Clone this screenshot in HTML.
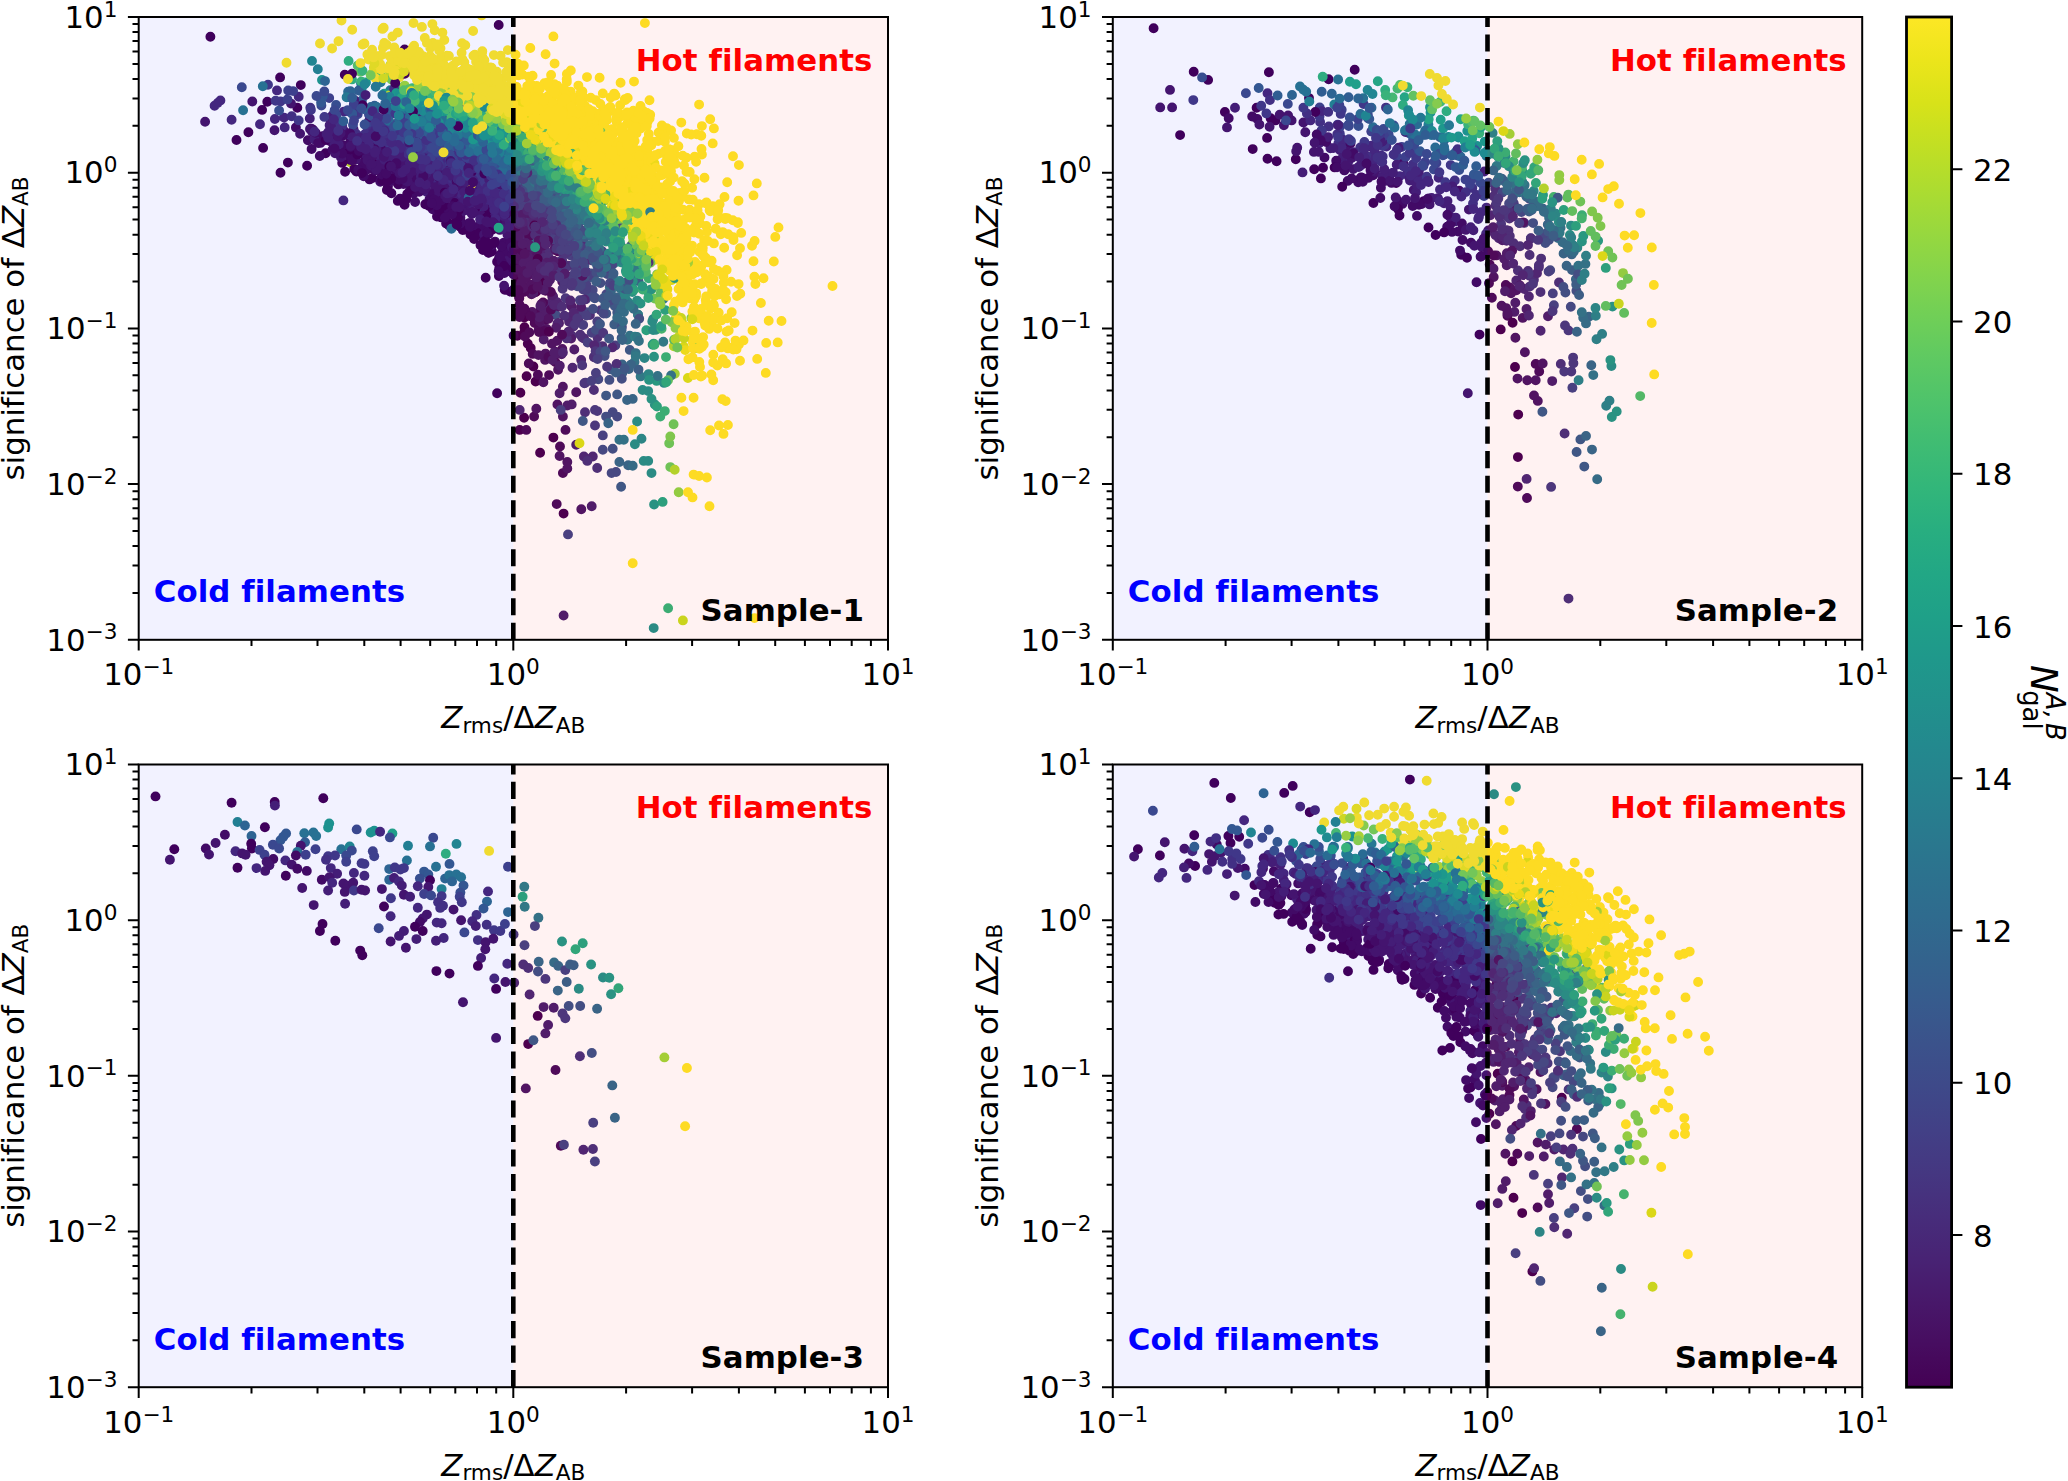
<!DOCTYPE html>
<html lang="en"><head><meta charset="utf-8"><title>Filament metallicity significance</title>
<style>
html,body{margin:0;padding:0;background:#fff}
body{width:2068px;height:1481px;overflow:hidden}
svg{display:block}
text{font-family:"DejaVu Sans","Liberation Sans",sans-serif;fill:#000;font-variant-ligatures:none;font-feature-settings:"liga" 0,"clig" 0}
.t{font-size:30.83px}
.b{font-weight:bold;font-size:30.83px;letter-spacing:0.07px}
.i{font-style:italic}
.p{fill:none;stroke-linecap:round;stroke-width:9.9}
.k{stroke:#000;stroke-width:2.0;fill:none}
</style></head><body>
<svg width="2068" height="1481" viewBox="0 0 2068 1481">
<rect width="2068" height="1481" fill="#fff"/>
<defs><linearGradient id="vg" x1="0" y1="0" x2="0" y2="1"><stop offset="0.0000" stop-color="#fde725"/><stop offset="0.0312" stop-color="#ece51b"/><stop offset="0.0625" stop-color="#d8e219"/><stop offset="0.0938" stop-color="#c2df23"/><stop offset="0.1250" stop-color="#addc30"/><stop offset="0.1562" stop-color="#98d83e"/><stop offset="0.1875" stop-color="#84d44b"/><stop offset="0.2188" stop-color="#70cf57"/><stop offset="0.2500" stop-color="#5ec962"/><stop offset="0.2812" stop-color="#4ec36b"/><stop offset="0.3125" stop-color="#3fbc73"/><stop offset="0.3438" stop-color="#32b67a"/><stop offset="0.3750" stop-color="#28ae80"/><stop offset="0.4062" stop-color="#22a785"/><stop offset="0.4375" stop-color="#1fa088"/><stop offset="0.4688" stop-color="#1f988b"/><stop offset="0.5000" stop-color="#21918c"/><stop offset="0.5312" stop-color="#23898e"/><stop offset="0.5625" stop-color="#26828e"/><stop offset="0.5938" stop-color="#297a8e"/><stop offset="0.6250" stop-color="#2c728e"/><stop offset="0.6562" stop-color="#2f6b8e"/><stop offset="0.6875" stop-color="#33638d"/><stop offset="0.7188" stop-color="#375b8d"/><stop offset="0.7500" stop-color="#3b528b"/><stop offset="0.7812" stop-color="#3e4989"/><stop offset="0.8125" stop-color="#424086"/><stop offset="0.8438" stop-color="#453781"/><stop offset="0.8750" stop-color="#472d7b"/><stop offset="0.9062" stop-color="#482374"/><stop offset="0.9375" stop-color="#48186a"/><stop offset="0.9688" stop-color="#470d60"/><stop offset="1.0000" stop-color="#440154"/></linearGradient></defs>
<g id="panel1">
<clipPath id="cp0"><rect x="138.7" y="17.0" width="749.3" height="622.8"/></clipPath>
<g clip-path="url(#cp0)">
<path class="p" stroke="#440154" d="M369.6 179.4h0M441.2 217.4h0M504.7 289.8h0M517.4 335.7h0M510.2 291.6h0M383.3 168.4h0M524.3 317.6h0M527.8 343.7h0M456.2 220.7h0M530.7 348.0h0M335.8 149.8h0M530.6 315.7h0M397.8 200.9h0M353.8 160.0h0M464.8 229.5h0M489.4 227.8h0M533.4 366.5h0M372.0 178.2h0M499.1 257.9h0M488.7 252.8h0M523.9 244.3h0M387.9 186.4h0"/>
<path class="p" stroke="#460b5e" d="M408.2 147.6h0M481.1 232.9h0M506.8 245.8h0M395.5 174.3h0M483.9 216.1h0M541.4 309.4h0M399.6 127.6h0M545.2 320.1h0M389.2 135.5h0M498.9 262.7h0M395.1 179.1h0M382.0 146.4h0M392.5 178.8h0M549.1 375.1h0M517.6 281.9h0M410.1 189.7h0M450.9 209.8h0M534.3 270.7h0M477.0 174.9h0M405.2 182.9h0M539.2 311.9h0M444.2 198.3h0M372.7 136.1h0M350.3 158.8h0M525.3 258.8h0M524.0 233.7h0M363.7 176.2h0M516.6 284.9h0M519.1 296.8h0M412.1 179.2h0M503.9 242.6h0M516.8 259.8h0M483.3 219.9h0M511.0 236.2h0M544.8 263.6h0M497.3 227.1h0M515.6 290.5h0M518.2 279.5h0M307.9 140.2h0"/>
<path class="p" stroke="#481668" d="M372.3 159.3h0M409.8 168.3h0M457.2 172.9h0M390.0 166.8h0M362.8 163.4h0M529.8 253.4h0M508.1 222.9h0M354.0 149.4h0M370.1 157.1h0M357.8 153.2h0M338.8 124.2h0M437.7 187.4h0M520.3 240.6h0M391.0 166.6h0M465.6 204.4h0M495.6 227.5h0M390.3 172.8h0M363.4 141.6h0M528.7 289.9h0M335.1 143.2h0M388.7 153.7h0M452.1 194.5h0M460.4 203.9h0M388.9 168.9h0M542.9 316.2h0M439.6 189.9h0M423.0 167.8h0M458.6 200.9h0M422.2 176.4h0M400.3 173.0h0M494.6 207.2h0M532.1 312.0h0M456.7 205.5h0M562.3 349.0h0M430.5 182.4h0M545.8 284.9h0"/>
<path class="p" stroke="#481f70" d="M521.9 232.4h0M507.7 221.2h0M424.2 143.4h0M510.8 208.6h0M417.3 173.3h0M544.7 271.2h0M445.6 184.0h0M415.5 175.9h0M553.9 249.9h0M534.9 249.7h0M483.3 206.1h0M398.9 155.7h0M423.6 151.3h0M397.1 167.3h0M526.6 234.2h0M543.7 339.5h0M391.3 145.0h0M440.3 177.8h0M565.8 278.2h0M472.1 201.3h0M335.7 137.7h0M544.4 311.8h0M552.4 297.3h0M523.2 203.0h0M513.9 238.2h0M539.8 325.6h0M426.8 191.9h0M422.2 186.4h0M506.2 230.0h0M423.8 175.3h0"/>
<path class="p" stroke="#482979" d="M389.7 141.8h0M402.0 156.5h0M554.8 264.7h0M572.5 367.7h0M522.5 232.9h0M536.5 246.9h0M418.1 163.6h0M580.2 284.3h0M496.9 209.6h0M526.0 240.5h0M465.1 181.8h0M533.9 195.6h0M356.8 135.3h0M545.0 267.3h0M406.0 163.8h0M440.9 168.7h0M440.7 174.0h0M396.0 161.1h0M532.9 246.6h0M552.9 309.2h0M501.8 184.2h0M570.4 304.9h0M368.9 121.3h0M372.9 146.7h0M568.3 317.3h0M500.8 210.7h0M369.4 128.0h0M343.9 111.6h0M590.2 258.4h0M498.6 222.3h0M463.5 181.4h0M565.5 336.6h0M428.3 160.8h0M537.7 255.5h0M352.8 142.7h0M505.2 215.6h0M514.4 216.0h0"/>
<path class="p" stroke="#46327e" d="M519.5 213.3h0M517.1 216.2h0M425.8 156.0h0M486.6 191.7h0M388.4 135.4h0M453.0 178.8h0M496.2 190.9h0M577.7 268.4h0M597.5 337.6h0M389.9 145.0h0M541.3 219.6h0M491.5 193.1h0M529.1 192.1h0M538.9 223.5h0M482.3 188.5h0M587.0 272.2h0M310.3 107.8h0M480.6 186.2h0M594.1 357.2h0M442.6 168.1h0M390.1 143.1h0M507.5 204.8h0M524.5 213.7h0M520.2 261.3h0M367.4 127.1h0M535.6 220.9h0M428.3 144.1h0M451.7 169.9h0M452.0 166.0h0M569.1 226.2h0M429.5 159.6h0M438.7 167.2h0M572.5 285.3h0M549.9 225.3h0M503.7 204.2h0M459.9 176.7h0M487.2 193.8h0M558.3 199.4h0M571.5 335.6h0M512.8 196.2h0"/>
<path class="p" stroke="#443a83" d="M563.7 235.9h0M394.5 125.6h0M600.7 310.2h0M508.3 199.7h0M451.3 153.0h0M388.6 117.7h0M538.7 220.7h0M525.5 199.4h0M557.5 234.0h0M577.3 240.3h0M540.3 189.1h0M559.6 261.7h0M386.8 137.6h0M575.6 257.1h0M476.9 169.5h0M448.6 168.3h0M508.1 192.0h0M562.6 288.7h0M525.0 194.3h0M445.9 166.0h0M480.5 164.4h0M565.7 298.3h0M498.3 185.9h0"/>
<path class="p" stroke="#414487" d="M520.5 200.8h0M598.2 357.4h0M431.1 135.5h0M329.2 98.1h0M583.9 270.6h0M386.0 156.9h0M578.3 259.5h0M418.0 145.2h0M570.8 255.5h0M494.8 172.1h0M477.7 160.2h0M578.5 316.3h0M562.4 251.8h0M569.7 251.0h0M615.3 345.4h0M333.3 114.2h0M591.7 332.7h0M554.6 232.4h0M445.1 157.3h0M450.5 157.0h0M474.5 173.5h0M475.1 168.3h0M583.2 289.6h0M389.0 132.8h0"/>
<path class="p" stroke="#3e4c8a" d="M592.7 290.0h0M495.8 169.3h0M557.8 227.4h0M547.5 187.1h0M540.4 196.5h0M544.2 208.8h0M336.3 115.3h0M598.3 379.2h0M513.4 163.2h0M408.9 131.0h0M592.0 260.5h0M472.7 158.4h0M530.3 200.6h0M508.7 173.1h0M389.4 112.9h0M518.5 171.7h0M576.3 235.0h0M468.9 166.9h0M546.6 208.5h0M586.2 312.1h0M424.0 137.4h0M321.4 105.5h0M565.6 252.3h0M375.2 138.7h0"/>
<path class="p" stroke="#3a538b" d="M577.6 226.3h0M607.1 274.1h0M510.3 166.7h0M572.1 242.4h0M428.9 146.8h0M544.8 204.9h0M505.5 177.0h0M582.2 251.1h0M409.9 140.4h0M598.6 329.3h0M381.2 131.2h0M417.1 122.6h0M455.3 127.6h0M405.1 104.6h0M600.4 283.1h0M588.3 296.3h0M461.5 140.7h0M595.9 329.8h0"/>
<path class="p" stroke="#365c8d" d="M390.0 114.1h0M560.0 197.0h0M414.7 124.1h0M437.4 127.5h0M573.8 208.2h0M604.1 310.9h0M565.9 226.4h0M522.1 174.9h0M536.3 186.1h0M611.0 369.4h0M545.5 201.7h0M524.3 171.5h0M477.9 157.7h0M540.7 189.3h0M356.8 101.6h0M554.3 182.4h0M514.9 175.1h0M557.2 196.4h0M423.4 133.9h0M461.1 138.9h0M525.5 186.6h0M537.2 191.1h0M565.0 222.6h0M535.2 194.0h0M606.2 313.6h0M453.8 146.0h0M567.2 233.1h0M404.7 122.8h0M527.1 167.0h0M322.8 96.3h0M484.8 157.9h0M559.2 190.1h0"/>
<path class="p" stroke="#33638d" d="M418.1 133.7h0M659.8 301.0h0M614.3 324.4h0M622.3 373.1h0M521.1 168.2h0M563.7 211.2h0M428.2 129.7h0M512.4 172.1h0M432.6 145.5h0M570.5 220.4h0M567.9 216.3h0M488.4 152.7h0M584.0 239.1h0M529.3 184.4h0M638.5 281.1h0M450.7 140.8h0"/>
<path class="p" stroke="#306a8e" d="M486.5 141.2h0M521.8 159.8h0M546.3 191.0h0M566.2 206.8h0M431.8 120.7h0M619.6 297.2h0M502.2 164.8h0M514.6 169.6h0M499.7 153.6h0M607.0 259.0h0M551.7 198.4h0"/>
<path class="p" stroke="#2c718e" d="M537.8 184.4h0M565.7 203.7h0M510.1 133.4h0M572.5 209.6h0M574.5 220.5h0M568.0 179.3h0M609.8 287.2h0M564.2 207.0h0M502.0 161.8h0M477.8 227.3h0M505.4 157.8h0M529.9 167.7h0M588.8 229.1h0M496.1 158.0h0M348.1 91.7h0M595.6 255.2h0M536.9 177.8h0M553.4 180.1h0M598.2 268.9h0M610.5 296.2h0M443.2 128.8h0"/>
<path class="p" stroke="#2a788e" d="M634.2 304.8h0M541.3 184.0h0M564.7 184.1h0M495.4 158.6h0M448.1 97.4h0M634.5 361.9h0M531.3 162.6h0M505.9 159.4h0M523.9 176.7h0M572.2 217.5h0M438.3 126.7h0M460.0 143.8h0M565.9 200.1h0M466.3 129.5h0M420.0 123.2h0M538.4 185.5h0"/>
<path class="p" stroke="#277f8e" d="M390.3 90.2h0M415.3 106.8h0M478.8 140.7h0M518.9 160.2h0M663.3 341.7h0M640.6 376.4h0M489.2 156.2h0M663.3 299.1h0M527.3 144.2h0M460.1 132.0h0M541.2 170.5h0M515.7 148.2h0M548.2 163.3h0M580.3 216.9h0M543.7 172.7h0M505.6 156.2h0M588.0 230.6h0"/>
<path class="p" stroke="#24868e" d="M421.9 87.9h0M570.3 196.4h0M639.5 265.0h0M622.2 231.5h0M577.6 189.8h0M582.5 214.5h0M420.9 117.8h0M627.8 301.8h0M317.8 69.2h0M601.7 219.1h0M399.0 101.6h0"/>
<path class="p" stroke="#228d8d" d="M625.0 259.1h0M439.7 125.4h0M615.1 262.5h0M518.6 146.8h0M653.2 319.1h0M557.1 183.5h0M561.2 190.9h0M527.4 163.8h0M544.7 176.6h0M499.8 135.1h0M464.4 114.4h0M517.9 153.7h0M573.1 203.9h0M602.0 237.0h0M575.8 204.8h0M597.5 233.2h0"/>
<path class="p" stroke="#20938c" d="M490.5 142.5h0M516.1 146.0h0M628.0 286.7h0M493.0 135.9h0M654.8 329.0h0M420.8 105.7h0M508.5 154.2h0M484.3 122.2h0M541.2 179.1h0M498.3 147.6h0M590.8 220.1h0M455.8 128.6h0M574.6 202.8h0"/>
<path class="p" stroke="#1f9a8a" d="M618.7 244.0h0M613.4 252.3h0M617.7 240.8h0M565.0 180.0h0"/>
<path class="p" stroke="#1fa187" d="M630.2 274.3h0M507.1 124.5h0M656.6 380.9h0M436.4 123.8h0M619.4 251.2h0M584.7 204.5h0M558.3 179.9h0M449.9 96.4h0M606.0 241.6h0M549.0 168.6h0M576.9 199.1h0M435.3 101.4h0M412.7 113.8h0M570.8 195.5h0"/>
<path class="p" stroke="#22a884" d="M621.1 257.6h0M547.9 172.0h0M443.7 90.3h0M442.5 93.9h0M503.5 133.0h0M384.1 93.8h0M589.0 199.6h0M653.7 343.6h0M623.3 252.4h0M520.1 135.5h0M440.6 117.7h0M439.6 113.2h0"/>
<path class="p" stroke="#28ae80" d="M444.8 117.2h0M463.1 110.7h0M626.3 266.2h0M592.2 201.7h0M547.1 164.9h0M521.1 142.0h0M564.7 176.4h0M529.9 156.6h0M638.0 268.9h0M557.2 176.7h0M619.4 234.4h0M498.1 125.3h0M548.9 165.2h0"/>
<path class="p" stroke="#32b67a" d="M568.3 188.7h0M534.1 153.2h0M538.2 156.2h0M556.1 180.7h0M587.7 200.9h0M607.9 226.0h0M445.4 108.9h0M473.9 115.8h0M622.1 221.9h0"/>
<path class="p" stroke="#3dbc74" d="M620.1 237.0h0M524.6 149.3h0M618.3 242.7h0M565.0 178.8h0M567.7 167.0h0M627.8 250.1h0M450.1 94.6h0M564.3 176.5h0"/>
<path class="p" stroke="#4ac16d" d="M617.5 220.5h0M462.7 112.9h0M524.5 144.0h0M506.9 133.7h0M571.0 175.4h0M500.2 136.3h0M499.8 123.7h0"/>
<path class="p" stroke="#5ac864" d="M617.9 219.7h0M448.3 111.5h0M546.7 138.8h0M574.8 188.0h0M544.2 140.0h0M637.3 269.2h0M537.2 130.0h0"/>
<path class="p" stroke="#69cd5b" d="M627.9 226.1h0M586.0 186.0h0M558.7 170.2h0M491.1 114.2h0M466.8 109.8h0"/>
<path class="p" stroke="#7ad151" d="M489.2 122.4h0M404.9 89.4h0M663.8 291.4h0M632.3 219.2h0M641.4 265.0h0M657.0 274.5h0M661.9 284.0h0M640.4 219.2h0M554.1 154.1h0M562.3 158.8h0M618.5 213.7h0M532.3 135.5h0M595.7 196.2h0"/>
<path class="p" stroke="#8ed645" d="M557.8 157.1h0M487.3 115.0h0M481.6 97.8h0M443.1 90.5h0M611.5 211.0h0M585.4 178.2h0"/>
<path class="p" stroke="#a0da39" d="M565.5 165.4h0M616.9 211.4h0M550.9 146.7h0M625.2 221.6h0M410.7 96.3h0M674.8 373.7h0"/>
<path class="p" stroke="#b2dd2d" d="M672.7 278.9h0M605.0 200.5h0M408.2 68.2h0M653.5 236.7h0M675.7 318.7h0M434.1 95.1h0M632.7 234.0h0M546.0 144.2h0"/>
<path class="p" stroke="#c8e020" d="M679.2 336.2h0M657.4 278.1h0M682.0 322.2h0M350.4 162.3h0M595.4 190.9h0M571.2 169.1h0M623.9 190.6h0"/>
<path class="p" stroke="#dae319" d="M516.0 124.9h0M601.3 171.2h0M533.7 132.7h0M506.5 113.3h0M569.8 161.3h0M405.6 73.2h0M650.3 239.4h0M472.0 98.5h0M573.7 152.5h0M443.3 101.0h0M671.9 280.1h0M550.3 133.4h0M687.9 378.0h0M612.3 205.6h0M568.3 129.4h0M625.8 220.5h0M556.8 150.1h0M583.1 173.8h0"/>
<path class="p" stroke="#ece51b" d="M523.1 129.6h0M588.9 183.0h0M480.1 109.7h0M620.4 208.3h0M546.2 145.2h0M525.5 131.2h0M607.8 169.4h0M471.0 100.8h0M614.9 189.1h0M640.7 227.8h0M526.9 132.9h0M667.0 281.2h0M551.4 139.2h0"/>
<path class="p" stroke="#fde725" d="M695.1 226.8h0M453.3 79.1h0M563.5 133.9h0M636.1 207.5h0M447.1 78.8h0M583.2 103.7h0M680.9 193.0h0M546.4 130.8h0M610.7 97.5h0M631.2 215.5h0M573.9 146.9h0M546.7 124.5h0M578.2 119.6h0M655.9 207.8h0M566.6 118.4h0M646.1 214.3h0M694.0 232.5h0M405.9 71.5h0M338.5 41.3h0M487.5 97.2h0M444.5 69.5h0M675.0 239.7h0M701.4 266.3h0M547.5 138.9h0M580.9 135.3h0M551.6 103.6h0M680.4 246.8h0M558.7 127.7h0M522.3 74.6h0M512.5 100.2h0M512.3 115.1h0M604.3 161.4h0M738.9 344.4h0M661.9 246.8h0M474.8 70.3h0M652.8 256.9h0M638.1 162.2h0M567.5 142.0h0M548.1 129.7h0M566.5 139.8h0M426.9 68.2h0M734.6 323.1h0M695.0 331.6h0M647.9 214.4h0M712.7 143.4h0M605.1 171.5h0M624.4 184.5h0M655.9 205.9h0M579.5 127.8h0M649.2 203.8h0M682.1 181.3h0M577.9 123.7h0M413.9 73.7h0M466.1 89.4h0M532.8 130.7h0M428.9 61.1h0M509.3 115.9h0M543.6 108.8h0M583.7 151.0h0M665.0 135.8h0M602.3 118.4h0M517.2 121.6h0M616.7 171.6h0M414.1 45.7h0M565.6 120.8h0M618.6 183.4h0M604.4 141.6h0M584.8 105.4h0M579.2 153.1h0M692.5 267.4h0M648.2 146.5h0M487.5 101.4h0M609.4 149.8h0M713.9 128.4h0M566.3 106.4h0M648.3 205.8h0M608.7 136.8h0M632.6 182.0h0M670.0 266.9h0M619.3 205.6h0M565.8 129.1h0M670.1 181.4h0M588.4 177.1h0M481.8 98.8h0M556.2 120.4h0M615.2 194.9h0M473.7 88.9h0M465.3 45.2h0M694.6 156.8h0M506.8 62.1h0M424.8 37.9h0M667.1 256.2h0M439.6 79.1h0M566.1 91.3h0M549.0 122.7h0M600.1 169.9h0M479.9 91.4h0M644.9 201.5h0M516.5 114.3h0M508.6 108.7h0M593.3 130.2h0M510.0 63.7h0M673.6 247.9h0M642.7 177.8h0M620.6 156.9h0M455.6 89.5h0M543.2 115.2h0M575.7 145.2h0M543.8 124.3h0M581.0 168.4h0M660.5 216.6h0M545.9 140.8h0M621.0 204.0h0M516.8 73.4h0M619.4 164.8h0M454.9 91.4h0M666.6 128.1h0M637.9 186.9h0M575.8 132.7h0M646.2 188.7h0M523.7 103.1h0M627.9 134.3h0M552.1 134.1h0M449.6 83.9h0M586.6 165.1h0M516.0 106.8h0M667.6 242.9h0M730.8 347.6h0M582.8 148.9h0M523.8 111.6h0M497.1 84.1h0M520.8 107.9h0M699.9 223.3h0M576.7 151.7h0M655.9 177.9h0M530.5 133.6h0M610.2 180.4h0M599.1 185.7h0M616.7 122.0h0M475.1 92.7h0M575.5 110.7h0M653.8 176.9h0M670.8 267.1h0M665.8 154.2h0M618.8 181.5h0M633.6 180.4h0M692.8 199.7h0M537.3 115.1h0M712.1 319.6h0M688.8 199.4h0M586.2 163.4h0M536.7 85.9h0M620.4 204.8h0M620.1 105.3h0M602.4 143.3h0M669.0 226.2h0M586.0 149.7h0M498.3 101.0h0M538.8 108.1h0M432.6 74.3h0M430.1 55.9h0M626.2 189.0h0M392.4 36.5h0M596.9 139.8h0M465.0 75.3h0M648.5 250.6h0M669.5 199.0h0M648.3 226.2h0M706.5 202.4h0M618.1 170.5h0M647.2 139.9h0M548.6 136.5h0M682.9 257.3h0M444.3 79.7h0M705.8 300.2h0M635.8 211.0h0M644.4 202.4h0M663.9 204.2h0M541.5 97.8h0M402.2 52.8h0M529.8 87.6h0M502.4 94.3h0M584.3 145.1h0M480.8 74.6h0M701.2 283.5h0M564.3 124.8h0M711.6 323.8h0M603.8 148.0h0M522.1 108.1h0M599.6 180.6h0M613.9 172.5h0M473.7 80.7h0M568.4 119.6h0M497.5 84.2h0M605.2 161.9h0M686.5 326.6h0M638.6 222.8h0M547.9 140.5h0M532.9 94.3h0M496.9 71.7h0M434.7 30.3h0M436.4 82.8h0M505.8 87.3h0M681.9 238.9h0M582.1 163.9h0M409.0 65.7h0M481.2 95.0h0M450.8 97.7h0M677.7 229.4h0M676.8 315.8h0M586.3 149.0h0M536.8 125.7h0M560.4 114.1h0M499.3 84.2h0M463.0 73.6h0M619.7 187.7h0M478.8 90.3h0M718.1 271.0h0M435.1 65.9h0M559.5 152.3h0M517.6 66.7h0M529.9 111.9h0M669.6 191.2h0M586.5 111.8h0M461.6 52.8h0M622.4 183.1h0M530.5 121.5h0M637.5 193.7h0M598.7 160.7h0M418.8 65.4h0M585.8 128.9h0M650.1 159.1h0M635.3 152.7h0M552.8 115.2h0M694.2 299.4h0M386.8 44.9h0M539.5 118.0h0M594.2 157.0h0M551.6 99.2h0M693.8 375.0h0M613.8 191.5h0M615.5 95.6h0M642.9 237.9h0M653.5 183.8h0M609.2 111.5h0M566.6 147.6h0M533.2 114.6h0M594.3 162.3h0M635.5 194.9h0M634.7 178.3h0M465.9 89.8h0M539.6 135.2h0M517.9 63.7h0M631.7 214.8h0M542.2 137.4h0M674.0 159.8h0M662.7 174.8h0M679.0 201.0h0M635.4 225.7h0M470.1 101.2h0M641.9 197.5h0M636.0 198.5h0M565.8 119.9h0M599.7 159.4h0M670.0 208.5h0M632.9 180.9h0M738.9 165.1h0M397.7 32.6h0M627.5 200.1h0M647.1 145.6h0M713.2 380.3h0M564.6 159.8h0M631.6 166.7h0M532.3 106.6h0M556.8 141.9h0M643.3 159.8h0M514.7 125.1h0M506.5 100.9h0M692.7 271.9h0M459.8 90.0h0M443.9 64.9h0M629.2 205.2h0M584.5 157.6h0M685.6 285.3h0M679.4 259.0h0M378.3 64.4h0M691.1 264.1h0M661.0 170.4h0M507.8 106.0h0M655.7 185.0h0M659.1 219.5h0M543.5 125.3h0M589.6 168.3h0M628.3 184.5h0M611.3 138.3h0M443.2 59.5h0M507.6 110.1h0M694.4 179.2h0M564.1 100.2h0M564.7 109.2h0M661.4 216.4h0M567.6 121.2h0M614.0 148.4h0M692.1 187.8h0M692.8 342.1h0M763.5 278.3h0M554.2 128.6h0M418.7 83.6h0M599.2 141.8h0M649.0 218.6h0M723.8 282.8h0M725.1 217.9h0M467.4 68.8h0M651.8 194.2h0M580.1 133.0h0M481.8 53.8h0M425.8 61.4h0M516.4 74.9h0M575.9 150.1h0M428.8 89.7h0M504.9 94.7h0M578.3 160.4h0M580.5 141.7h0M603.1 154.0h0M513.0 101.1h0M623.4 158.9h0M510.2 123.9h0M487.5 69.7h0M653.2 239.7h0M655.6 193.4h0M690.9 249.5h0M539.9 118.1h0M609.2 148.9h0M529.2 110.0h0M641.7 221.8h0M752.5 330.6h0M713.6 306.0h0M609.1 179.7h0M602.8 93.4h0M609.2 170.3h0M631.8 196.0h0M540.6 127.4h0M404.7 69.4h0M639.6 150.4h0M639.5 201.4h0M618.9 188.0h0M415.9 61.6h0M566.8 82.1h0M620.1 194.0h0M535.6 125.1h0M585.1 139.1h0M508.2 113.7h0M648.8 133.9h0M532.8 85.7h0M486.2 89.7h0M532.6 109.8h0M727.9 348.4h0M485.5 86.9h0M485.0 101.2h0M661.3 134.5h0M589.2 169.8h0M482.4 57.2h0M598.8 150.5h0M545.6 54.2h0M607.1 119.9h0M651.2 217.2h0M592.0 145.4h0M561.5 105.4h0M675.0 256.5h0M651.3 145.2h0M666.3 241.7h0M399.4 77.3h0M671.9 249.5h0M701.1 309.0h0M556.5 148.7h0M527.9 114.4h0M629.8 158.0h0M579.2 144.5h0M587.0 77.1h0M536.7 97.0h0M533.5 121.3h0M600.8 133.1h0M636.5 199.9h0M638.5 173.8h0M627.8 202.7h0M620.5 151.3h0M367.4 54.4h0M550.2 110.2h0M712.7 206.1h0M741.2 232.9h0M622.4 165.8h0M683.4 269.4h0M614.3 198.3h0M573.3 136.6h0M550.2 136.3h0M696.8 134.2h0M588.2 159.4h0M620.3 164.3h0M669.2 247.2h0"/>
<path class="p" stroke="#440154" d="M455.4 206.0h0M438.4 200.7h0M449.1 225.4h0M325.6 153.2h0M485.7 277.7h0M460.4 226.9h0M470.5 234.6h0M456.4 211.0h0M345.1 171.8h0M542.1 281.8h0M461.1 222.1h0M462.7 230.0h0M472.1 232.7h0M524.5 327.2h0M437.0 216.6h0M522.5 253.1h0M382.2 179.1h0M487.0 191.2h0M358.1 153.7h0M350.4 159.9h0M377.9 158.7h0"/>
<path class="p" stroke="#460b5e" d="M432.7 182.2h0M311.6 149.0h0M432.7 209.3h0M464.1 200.6h0M510.4 246.3h0M385.6 168.8h0M358.6 153.2h0M319.0 140.6h0M515.4 253.7h0M399.6 163.3h0M485.2 232.7h0M430.4 203.0h0M446.4 208.9h0M521.9 271.5h0M392.7 156.9h0M332.5 149.7h0M350.5 141.2h0M487.6 217.1h0M488.6 233.9h0M347.1 148.5h0M469.7 182.6h0M441.3 202.3h0M349.8 156.5h0M460.4 217.5h0M519.3 298.2h0M521.3 249.9h0M439.1 203.6h0M413.6 193.6h0M437.9 200.6h0M492.1 225.3h0M545.6 290.7h0M512.5 265.0h0M343.6 152.0h0M558.0 251.4h0M469.0 223.2h0M434.5 203.3h0M500.5 254.4h0"/>
<path class="p" stroke="#481668" d="M567.3 276.1h0M397.8 178.9h0M512.7 241.7h0M512.3 242.1h0M517.5 186.2h0M539.7 236.5h0M435.2 191.3h0M529.6 242.1h0M483.7 229.3h0M522.6 253.8h0M322.1 137.3h0M463.5 205.4h0M502.2 225.1h0M465.2 206.2h0M545.1 359.9h0M356.3 142.1h0M420.5 168.1h0M435.6 174.4h0M538.6 330.0h0M344.0 152.3h0M312.1 131.8h0M484.0 222.1h0M545.5 354.4h0M347.3 150.5h0M340.8 136.3h0M532.4 217.8h0M439.5 203.6h0M504.1 285.7h0M336.5 132.4h0M435.2 182.0h0M413.3 184.6h0M330.6 120.8h0M519.5 285.5h0M426.7 183.7h0M431.0 173.3h0M365.4 158.7h0M344.7 131.5h0M313.1 129.7h0M454.8 179.8h0M440.4 183.5h0M405.2 172.2h0M332.9 133.1h0M339.7 145.8h0M562.2 281.6h0"/>
<path class="p" stroke="#481f70" d="M417.2 159.9h0M497.6 224.1h0M395.3 154.7h0M534.7 254.4h0M571.1 338.5h0M490.2 205.5h0M419.2 173.0h0M353.6 129.4h0M530.8 243.5h0M494.6 218.0h0M482.3 190.7h0M553.1 296.6h0M498.0 215.5h0M446.2 190.9h0M550.0 279.7h0M516.7 234.5h0M561.1 353.3h0M578.4 318.4h0M481.4 212.5h0M457.0 196.0h0M443.7 185.4h0M501.8 215.9h0M415.7 168.5h0M455.0 199.4h0M571.9 306.7h0M309.8 118.5h0M433.4 182.8h0M532.1 256.9h0M483.3 174.1h0M379.6 156.4h0M534.1 285.4h0"/>
<path class="p" stroke="#482979" d="M331.0 132.7h0M442.3 168.0h0M548.8 304.1h0M341.0 126.6h0M557.1 353.7h0M555.2 214.1h0M436.5 154.1h0M376.1 128.8h0M383.1 119.0h0M535.7 211.8h0M542.0 235.6h0M426.9 168.5h0M388.3 136.0h0M503.9 193.6h0M518.7 202.9h0M552.5 271.7h0M342.2 135.8h0M450.4 181.0h0M581.2 359.9h0M526.5 230.7h0M544.6 236.3h0M532.1 237.4h0M569.1 321.8h0M478.5 173.6h0M423.3 174.7h0M486.5 206.6h0M535.4 211.3h0M440.2 156.1h0M544.2 261.4h0M498.2 195.5h0M442.0 178.0h0M545.2 268.2h0M536.2 259.4h0M483.1 198.8h0M384.4 128.5h0M490.9 202.4h0"/>
<path class="p" stroke="#46327e" d="M509.6 198.0h0M378.4 137.9h0M554.2 228.8h0M419.7 156.9h0M530.2 223.8h0M496.5 199.8h0M529.7 211.4h0M472.1 179.6h0M447.6 168.2h0M508.4 184.9h0M528.5 200.2h0M407.1 143.7h0M471.7 185.2h0M573.4 326.6h0M449.2 144.2h0M468.8 182.7h0M526.0 221.8h0M542.7 207.4h0M540.5 235.7h0M545.2 261.6h0M526.4 214.0h0M566.8 338.4h0M545.8 251.6h0M439.0 169.5h0M537.5 224.3h0M559.2 272.7h0M433.7 165.0h0M563.4 254.8h0M393.9 129.4h0M452.6 164.9h0M521.0 213.6h0M454.4 165.5h0M454.5 178.7h0M589.9 315.0h0M540.7 231.8h0"/>
<path class="p" stroke="#443a83" d="M544.0 205.1h0M382.5 139.5h0M441.7 159.4h0M404.0 114.6h0M533.3 211.2h0M546.1 233.5h0M603.2 333.0h0M572.9 226.3h0M536.4 210.4h0M445.7 161.2h0M428.4 152.8h0M490.9 162.2h0M539.3 199.7h0M528.2 190.0h0M584.4 383.3h0M439.5 150.9h0M418.1 112.1h0M493.9 186.1h0M528.1 197.8h0M409.3 126.0h0M447.0 158.6h0M564.7 284.1h0M496.9 178.9h0M494.9 167.2h0M541.7 222.8h0M442.8 160.5h0M539.1 199.8h0M554.4 205.4h0M540.3 200.2h0"/>
<path class="p" stroke="#414487" d="M416.0 139.5h0M467.1 165.3h0M369.6 122.1h0M564.0 225.0h0M586.2 289.5h0M590.8 258.8h0M515.7 191.9h0M513.8 172.8h0M400.5 130.9h0M579.7 315.2h0M608.0 268.3h0M407.0 138.5h0M552.3 224.7h0M491.1 153.0h0M444.7 142.3h0M386.6 120.5h0M559.4 213.8h0M420.8 150.7h0M485.3 181.0h0M395.5 126.6h0M583.2 325.0h0"/>
<path class="p" stroke="#3e4c8a" d="M571.6 214.5h0M484.9 177.7h0M420.0 130.4h0M503.6 174.1h0M357.7 114.2h0M558.8 235.7h0M446.2 134.3h0M458.7 160.7h0M553.0 223.5h0M372.0 107.9h0M525.8 196.4h0M353.0 124.7h0M390.7 131.1h0M606.4 294.2h0M577.2 286.3h0M514.0 187.3h0M519.6 181.9h0M463.2 165.7h0"/>
<path class="p" stroke="#3a538b" d="M464.3 153.8h0M523.4 192.4h0M472.2 160.3h0M555.8 315.1h0M450.5 152.3h0M540.0 192.0h0M577.7 231.2h0M444.7 116.7h0M591.8 273.4h0M548.5 210.0h0M584.4 266.0h0"/>
<path class="p" stroke="#365c8d" d="M589.1 277.7h0M614.8 306.1h0M601.5 354.6h0M533.0 192.2h0M462.9 141.4h0M594.8 298.2h0M591.3 235.9h0M558.5 203.3h0M482.6 160.5h0M544.7 186.6h0M482.7 159.7h0M410.3 126.0h0M482.6 155.7h0M543.3 197.8h0M597.0 256.1h0M520.7 183.2h0M397.2 125.0h0M539.7 182.8h0M410.0 123.8h0M470.1 132.9h0"/>
<path class="p" stroke="#33638d" d="M544.7 191.4h0M502.2 156.3h0M548.5 179.3h0M563.4 190.4h0M456.6 127.4h0M560.9 200.5h0M551.2 204.6h0M520.8 175.0h0M573.6 212.7h0M591.2 247.9h0M522.7 182.9h0M638.5 369.6h0M478.1 160.7h0M415.5 121.4h0M487.8 149.8h0M476.2 153.1h0M389.1 107.0h0M587.1 255.8h0M536.6 174.9h0M576.0 212.7h0M455.8 136.7h0"/>
<path class="p" stroke="#306a8e" d="M454.8 140.2h0M468.5 123.5h0M578.2 216.1h0M488.0 147.1h0M552.4 181.0h0M483.8 160.1h0M378.1 118.7h0M549.0 198.6h0M613.1 277.8h0M604.4 298.0h0M621.5 307.4h0M591.3 257.5h0M578.0 227.8h0M477.3 144.2h0M622.2 364.5h0"/>
<path class="p" stroke="#2c718e" d="M555.0 197.4h0M591.0 235.9h0M527.6 162.5h0M560.2 208.5h0M409.7 122.2h0M541.0 186.0h0M523.7 159.3h0M621.1 246.3h0M550.8 170.8h0M555.8 198.8h0M530.9 181.2h0M450.6 132.4h0M493.5 140.2h0M396.6 123.4h0M478.9 133.3h0M549.8 196.9h0M537.4 185.7h0M425.4 125.9h0"/>
<path class="p" stroke="#2a788e" d="M517.4 166.9h0M430.8 101.7h0M474.6 142.4h0M540.4 175.0h0M429.3 120.1h0M478.8 144.7h0M461.8 138.3h0M624.5 301.8h0M671.1 375.5h0M583.9 200.8h0M497.2 156.6h0M484.8 139.3h0M477.0 140.2h0M463.0 132.8h0M505.5 143.7h0M584.8 231.3h0M486.5 150.8h0M625.0 285.1h0"/>
<path class="p" stroke="#277f8e" d="M533.7 152.5h0M637.9 314.6h0M465.3 136.3h0M444.4 134.5h0M551.6 188.6h0M489.2 133.4h0M361.0 83.2h0M530.5 145.1h0M504.4 157.7h0M617.5 282.8h0M552.2 183.6h0M478.5 142.3h0M586.4 232.3h0M487.7 149.4h0M467.2 133.5h0"/>
<path class="p" stroke="#24868e" d="M548.1 173.1h0M484.1 142.1h0M535.4 173.4h0M559.1 194.7h0M402.4 109.2h0M593.6 203.0h0M526.2 164.1h0M599.7 233.9h0M579.8 207.8h0M592.4 232.8h0M434.4 99.6h0M511.7 156.3h0M592.8 198.7h0M470.6 133.1h0"/>
<path class="p" stroke="#228d8d" d="M579.6 211.5h0M539.9 158.0h0M497.8 127.5h0M556.7 183.4h0M503.4 146.6h0M594.8 224.4h0M509.0 161.9h0M414.1 106.4h0M312.0 60.9h0M361.8 87.9h0M457.0 113.8h0M537.8 165.4h0M569.7 179.6h0M595.7 233.0h0M521.9 163.5h0"/>
<path class="p" stroke="#20938c" d="M620.9 262.2h0M588.8 217.6h0M519.9 161.5h0M549.8 184.9h0M592.8 220.2h0M664.0 382.9h0M579.5 213.9h0M544.3 172.9h0"/>
<path class="p" stroke="#1f9a8a" d="M389.6 98.0h0M561.1 189.6h0M561.7 183.8h0M632.3 292.1h0M366.0 82.5h0M499.4 142.8h0M593.1 214.9h0M539.6 161.4h0M519.7 155.1h0M453.8 117.7h0M486.0 118.7h0M322.0 79.9h0M526.1 164.7h0M512.8 137.0h0M507.1 136.8h0M563.0 185.4h0M560.6 180.9h0"/>
<path class="p" stroke="#1fa187" d="M543.8 175.2h0M505.5 133.6h0M536.0 165.7h0M501.5 142.1h0M483.5 120.3h0M635.8 269.7h0M519.1 155.3h0M612.1 238.8h0M549.3 179.0h0M635.0 270.9h0M530.9 145.6h0M568.6 184.7h0"/>
<path class="p" stroke="#22a884" d="M417.6 101.7h0M552.8 156.9h0M534.5 158.2h0M421.9 102.7h0M619.2 240.2h0M557.7 173.9h0M532.4 146.7h0M585.6 205.7h0M665.2 310.1h0M646.3 330.2h0"/>
<path class="p" stroke="#28ae80" d="M602.5 221.2h0M521.8 153.5h0M555.1 174.7h0M544.1 164.1h0M600.8 204.8h0M533.3 153.9h0M553.1 174.8h0M590.5 197.2h0M661.0 220.0h0M542.2 137.8h0M637.0 255.4h0"/>
<path class="p" stroke="#32b67a" d="M375.9 77.2h0M573.7 194.6h0M666.0 357.1h0M608.0 190.6h0M592.4 207.5h0M577.2 191.8h0M590.9 205.3h0M600.6 211.5h0M537.0 153.4h0M547.4 157.7h0M522.0 133.0h0"/>
<path class="p" stroke="#3dbc74" d="M616.8 236.4h0M579.9 189.7h0M396.6 85.9h0M415.2 101.9h0M606.0 215.6h0M479.6 106.2h0M361.4 81.6h0M418.3 87.8h0M528.2 150.7h0M430.6 98.7h0"/>
<path class="p" stroke="#4ac16d" d="M527.9 145.6h0M587.0 197.3h0M529.2 148.5h0M598.3 185.8h0M562.9 164.6h0M548.8 161.0h0M588.3 194.7h0M562.4 168.4h0M449.2 101.0h0"/>
<path class="p" stroke="#5ac864" d="M495.7 120.3h0M495.9 117.3h0M461.1 111.1h0M577.7 184.1h0M357.7 65.6h0M473.9 109.5h0M534.2 141.6h0M522.5 135.1h0M595.1 189.8h0M627.5 249.4h0M607.9 211.4h0M591.9 198.9h0M647.9 258.1h0M495.9 125.0h0M612.7 198.4h0M542.4 157.3h0M522.6 135.5h0M610.1 216.2h0"/>
<path class="p" stroke="#69cd5b" d="M568.9 176.3h0M588.2 196.4h0M636.0 252.1h0M553.8 162.6h0M544.4 146.4h0M587.6 188.5h0M589.0 191.9h0M450.7 97.0h0M563.9 164.4h0"/>
<path class="p" stroke="#7ad151" d="M609.1 210.8h0M549.2 161.7h0M532.5 143.4h0M581.5 184.4h0M560.4 128.5h0M537.8 132.0h0M463.2 85.4h0M492.5 113.0h0M459.8 86.8h0M521.0 141.5h0M537.0 140.6h0M554.0 161.6h0M511.2 126.8h0"/>
<path class="p" stroke="#8ed645" d="M639.8 250.9h0M542.8 109.4h0M371.8 74.0h0M609.0 199.2h0M544.9 152.2h0M608.0 212.6h0M523.2 132.4h0M620.9 218.0h0M541.7 137.2h0M590.7 190.3h0M626.0 228.6h0"/>
<path class="p" stroke="#a0da39" d="M489.9 129.6h0M526.2 113.6h0M561.0 162.5h0M488.3 125.3h0M651.7 239.3h0M600.3 200.8h0M520.3 119.0h0M542.7 140.2h0M571.7 158.7h0M621.9 221.8h0M561.7 141.0h0M569.5 172.7h0M642.8 252.7h0M569.9 144.2h0M620.2 200.3h0"/>
<path class="p" stroke="#b2dd2d" d="M573.7 155.8h0M673.8 346.3h0M546.2 148.6h0M619.7 203.7h0M579.1 177.9h0M629.4 209.7h0"/>
<path class="p" stroke="#c8e020" d="M681.1 318.0h0M389.2 95.4h0M637.3 231.6h0M673.3 309.9h0M525.2 140.6h0"/>
<path class="p" stroke="#dae319" d="M458.8 89.4h0M579.3 156.7h0M647.5 250.4h0M557.5 147.2h0M390.3 65.0h0M600.7 193.6h0M447.6 82.1h0M537.1 129.4h0M528.2 119.8h0M468.4 104.7h0M504.6 106.1h0M683.9 346.7h0M576.6 173.3h0M527.6 129.6h0"/>
<path class="p" stroke="#ece51b" d="M527.3 139.6h0M568.2 165.3h0M427.0 80.2h0M588.1 175.7h0M596.0 163.7h0M563.0 157.4h0M421.5 74.1h0M510.2 115.5h0M654.5 163.5h0M522.8 133.7h0M604.8 178.1h0M502.0 115.7h0M553.1 139.1h0M491.4 119.5h0M525.5 124.1h0M617.4 165.2h0M536.7 142.3h0M535.9 138.2h0M560.5 141.2h0M546.0 140.5h0M377.8 70.5h0M575.7 165.5h0"/>
<path class="p" stroke="#fde725" d="M588.4 135.5h0M708.3 276.2h0M649.8 185.8h0M625.7 116.1h0M602.2 178.6h0M737.8 223.1h0M534.1 101.6h0M589.6 168.4h0M585.4 142.2h0M781.5 321.0h0M320.0 43.5h0M538.4 114.6h0M445.8 78.3h0M520.6 105.0h0M545.4 113.6h0M660.1 224.0h0M605.4 184.5h0M536.2 123.7h0M591.9 175.3h0M579.7 123.0h0M710.7 308.4h0M571.9 140.5h0M538.4 133.5h0M521.9 105.8h0M496.8 96.0h0M768.7 320.8h0M504.4 121.8h0M566.0 102.6h0M651.7 218.0h0M567.0 152.0h0M624.8 99.3h0M396.6 66.0h0M572.3 132.5h0M542.8 138.5h0M670.6 163.3h0M604.0 137.7h0M591.3 146.1h0M622.9 211.0h0M721.2 347.4h0M532.6 75.8h0M598.1 135.0h0M627.6 158.6h0M446.4 67.5h0M560.1 122.1h0M615.7 180.2h0M599.0 158.7h0M464.4 92.6h0M583.2 132.7h0M621.2 185.8h0M541.0 126.0h0M595.4 167.6h0M490.0 80.1h0M464.3 86.4h0M511.5 108.3h0M552.5 136.8h0M555.3 125.1h0M498.6 98.3h0M715.3 290.6h0M602.7 175.8h0M583.4 149.6h0M618.9 151.0h0M682.6 196.5h0M462.1 43.2h0M481.6 15.4h0M646.5 233.1h0M498.4 95.9h0M549.8 121.1h0M637.3 200.7h0M627.6 122.9h0M602.8 136.8h0M561.0 106.6h0M689.7 172.0h0M490.4 97.4h0M609.3 184.9h0M651.2 246.7h0M678.1 235.6h0M500.5 91.2h0M523.8 100.2h0M613.4 163.8h0M583.9 132.9h0M453.7 72.0h0M598.8 145.4h0M699.2 233.7h0M662.6 206.7h0M573.8 128.2h0M601.1 172.5h0M562.2 156.1h0M610.2 164.9h0M649.0 209.0h0M570.1 151.2h0M569.9 133.4h0M737.9 222.2h0M621.4 186.0h0M679.2 258.1h0M440.5 48.2h0M404.8 63.3h0M644.5 191.7h0M737.1 255.3h0M625.3 100.0h0M586.5 158.3h0M545.0 141.5h0M434.4 77.4h0M433.3 77.9h0M704.2 256.8h0M514.1 111.0h0M605.9 174.9h0M753.5 195.4h0M540.5 128.1h0M531.0 95.4h0M400.5 72.7h0M569.3 107.2h0M494.9 92.1h0M519.9 68.7h0M644.5 163.4h0M699.5 318.4h0M568.4 93.0h0M600.9 149.7h0M663.4 206.1h0M562.3 104.2h0M606.6 180.2h0M665.5 222.3h0M529.9 133.7h0M491.3 103.2h0M645.3 177.4h0M623.1 165.3h0M562.5 95.9h0M614.2 93.6h0M624.5 156.2h0M459.0 93.2h0M694.5 284.2h0M636.5 191.2h0M530.8 105.3h0M535.7 107.1h0M581.1 159.5h0M455.1 83.7h0M667.9 242.3h0M522.4 118.1h0M556.3 139.3h0M516.6 127.7h0M649.2 219.0h0M569.0 160.0h0M654.6 236.4h0M458.6 72.8h0M516.6 86.9h0M432.9 43.0h0M586.1 145.0h0M727.2 218.1h0M649.2 246.6h0M684.3 272.6h0M599.2 113.8h0M611.1 162.0h0M736.5 349.2h0M575.6 121.9h0M528.6 116.0h0M726.6 270.0h0M533.5 121.9h0M554.2 123.6h0M547.8 124.8h0M614.4 150.8h0M682.3 246.3h0M697.0 272.1h0M609.7 184.8h0M595.8 144.6h0M412.8 47.8h0M557.5 132.5h0M617.0 153.1h0M639.3 186.3h0M553.4 36.4h0M515.2 107.1h0M627.9 168.2h0M567.5 94.3h0M696.1 293.1h0M650.3 144.3h0M521.9 114.4h0M509.8 113.4h0M581.6 141.2h0M622.4 142.8h0M675.5 203.7h0M684.2 190.9h0M673.8 254.9h0M458.3 81.6h0M572.8 102.7h0M553.9 135.6h0M688.3 265.9h0M671.8 245.7h0M546.0 132.5h0M648.8 184.4h0M437.7 84.1h0M581.1 147.1h0M709.6 210.2h0M557.4 147.4h0M441.8 64.5h0M547.4 111.8h0M646.0 218.1h0M509.4 95.3h0M472.0 105.2h0M574.6 134.2h0M633.8 199.2h0M564.2 120.0h0M500.5 104.0h0M376.2 55.9h0M603.0 133.8h0M586.3 124.8h0M591.4 141.8h0M642.3 187.0h0M554.2 139.1h0M476.1 61.8h0M683.8 288.6h0M520.6 112.4h0M540.5 106.9h0M516.7 129.4h0M638.8 211.0h0M577.1 150.9h0M602.1 172.6h0M566.7 79.2h0M558.1 125.9h0M630.2 122.7h0M464.3 69.6h0M704.3 315.9h0M487.2 75.5h0M687.0 230.7h0M626.2 152.9h0M439.2 72.4h0M564.5 116.1h0M670.4 233.4h0M611.1 174.6h0M641.5 205.3h0M631.8 163.1h0M424.2 83.3h0M628.0 149.5h0M655.8 155.4h0M465.8 98.3h0M431.3 79.7h0M581.7 119.6h0M622.5 166.7h0M653.1 141.6h0M581.4 135.5h0M546.6 126.4h0M715.7 228.7h0M592.1 169.8h0M649.3 205.1h0M657.0 205.9h0M659.1 153.6h0M487.6 105.3h0M669.9 271.0h0M515.3 113.1h0M686.4 157.8h0M642.5 192.2h0M577.9 152.4h0M481.3 95.3h0M568.4 132.3h0M452.7 97.7h0M578.9 138.2h0M580.7 163.5h0M406.7 60.5h0M619.3 117.3h0M674.2 260.0h0M496.1 90.3h0M413.5 23.1h0M640.5 105.9h0M439.0 71.9h0M680.0 195.4h0M678.6 289.0h0M532.4 132.4h0M571.1 95.3h0M652.0 156.9h0M503.6 101.3h0M432.0 61.4h0M683.1 209.7h0M525.1 101.6h0M698.6 313.0h0M710.3 211.2h0M591.2 174.2h0M618.2 199.7h0M507.4 94.0h0M612.2 175.7h0M643.8 198.9h0M596.8 161.6h0M624.2 147.2h0M699.0 204.3h0M570.0 141.4h0M618.3 157.5h0M597.0 118.3h0M579.7 166.4h0M521.9 120.2h0M694.0 307.0h0M599.6 77.8h0M578.9 150.5h0M587.9 157.9h0M613.3 133.6h0M668.3 174.1h0M487.8 94.8h0M561.3 147.6h0M471.6 102.2h0M563.8 131.3h0M478.9 89.5h0M441.3 55.7h0M503.1 91.6h0M611.7 182.5h0M701.2 284.0h0M578.2 143.0h0M606.7 182.8h0M533.0 122.8h0M466.2 85.7h0M677.2 247.2h0M664.4 204.3h0M632.5 128.5h0M553.2 128.7h0M583.6 97.4h0M507.9 50.1h0M681.5 267.1h0M479.4 99.0h0M693.1 332.5h0M535.6 96.4h0M647.3 150.7h0M446.6 73.0h0M567.7 150.5h0M421.9 26.9h0M425.7 69.6h0M491.4 78.8h0M496.9 82.8h0M601.8 158.4h0M639.1 231.0h0M402.3 61.1h0M566.7 124.8h0M695.1 261.9h0M726.1 363.4h0M677.6 249.8h0M523.1 99.0h0M580.9 158.1h0M480.1 99.8h0M484.0 105.2h0M621.4 187.6h0M649.7 158.5h0M600.1 173.5h0M549.5 131.8h0M628.3 194.9h0M558.0 120.1h0M527.7 116.1h0M465.2 93.6h0M644.6 160.2h0M558.6 149.6h0M539.3 87.9h0M702.1 375.6h0M662.2 265.5h0M707.7 315.9h0M516.0 111.4h0M651.7 226.7h0M624.7 182.2h0M495.1 94.7h0M685.2 228.0h0M624.2 143.9h0M391.8 60.9h0M372.1 49.8h0M607.3 137.9h0M631.6 164.5h0M426.4 71.4h0M625.8 198.4h0M720.8 234.2h0M632.3 200.6h0M545.6 107.2h0M439.2 50.4h0M564.9 127.8h0M662.0 245.9h0M655.6 204.0h0M677.9 267.0h0M568.2 138.5h0M601.2 163.8h0M671.4 165.1h0M432.1 94.6h0M534.8 110.3h0M646.9 167.3h0M429.6 65.4h0M409.8 62.5h0M581.7 119.1h0"/>
<path class="p" stroke="#440154" d="M404.6 204.8h0M398.1 174.4h0M395.2 171.5h0M479.9 211.2h0M356.3 171.5h0M504.4 252.0h0M349.5 149.9h0M498.9 276.1h0M441.8 213.7h0M524.4 332.0h0M361.5 171.2h0M390.1 176.2h0M514.9 272.7h0M541.3 266.9h0M439.7 208.6h0M480.1 194.3h0M391.4 193.3h0M371.1 159.8h0M523.6 275.3h0M379.7 179.5h0M342.2 162.9h0"/>
<path class="p" stroke="#460b5e" d="M415.1 202.0h0M499.8 229.9h0M536.6 261.3h0M507.0 256.5h0M398.7 182.7h0M365.6 159.3h0M429.5 199.2h0M377.4 146.7h0M536.8 273.8h0M470.0 226.9h0M553.3 202.8h0M496.1 222.7h0M351.2 156.8h0M440.0 191.7h0M433.2 200.6h0M320.4 142.9h0M536.7 291.2h0M522.9 257.1h0M525.4 270.2h0M525.3 311.0h0M440.5 198.7h0M482.2 214.0h0M528.8 363.4h0M489.3 196.0h0M380.3 181.8h0M381.4 177.8h0M398.4 184.4h0M413.4 191.9h0M392.0 163.9h0M478.1 226.4h0M443.8 209.3h0M532.7 353.9h0M402.2 162.2h0M438.6 210.6h0M484.8 213.3h0M500.2 273.8h0M322.6 136.3h0M504.8 252.8h0M395.7 170.3h0M458.8 217.4h0M448.1 213.7h0M408.4 156.2h0M457.9 208.7h0M513.6 335.4h0M497.5 223.5h0M437.2 206.9h0M403.4 184.1h0M458.9 218.4h0M340.1 148.3h0M511.9 244.8h0M483.3 238.4h0M330.3 141.2h0"/>
<path class="p" stroke="#481668" d="M507.3 230.9h0M531.5 294.2h0M505.3 227.6h0M451.6 189.7h0M396.4 168.4h0M383.7 154.0h0M441.9 202.9h0M434.4 190.7h0M401.5 164.3h0M445.8 210.2h0M506.8 260.9h0M530.6 284.5h0M332.2 132.8h0M367.6 154.1h0M476.8 199.9h0M517.0 263.4h0M537.0 283.8h0M486.0 223.0h0M417.8 172.4h0M413.4 178.9h0M387.8 175.3h0M507.4 234.5h0M536.0 267.7h0M500.1 187.6h0M545.5 353.6h0M508.4 231.6h0M454.5 204.5h0M494.0 203.9h0M557.2 340.7h0M386.8 168.1h0M363.0 165.4h0M535.3 261.6h0M513.8 241.0h0M548.6 318.8h0M459.9 223.0h0M469.2 211.0h0M445.8 188.4h0M517.8 241.0h0M444.1 190.8h0M370.2 117.3h0M372.3 156.2h0M369.7 157.6h0M528.8 275.1h0M336.9 138.3h0M358.0 142.6h0M555.1 245.3h0M456.6 207.1h0M439.0 185.8h0M364.2 145.5h0M552.0 343.8h0M340.9 157.3h0"/>
<path class="p" stroke="#481f70" d="M517.5 240.3h0M314.4 139.4h0M438.0 180.5h0M376.4 148.6h0M469.3 198.7h0M363.5 152.5h0M544.7 240.9h0M547.8 283.0h0M547.5 275.3h0M485.7 208.3h0M451.7 192.0h0M480.8 167.3h0M403.5 170.7h0M389.3 158.8h0M561.5 354.3h0M448.4 192.0h0M453.1 187.5h0M399.3 160.1h0M428.7 174.2h0M528.1 245.3h0M387.0 153.6h0M494.8 217.2h0M471.1 203.3h0M511.4 214.5h0M503.1 206.5h0M476.0 178.8h0M528.7 213.2h0M427.5 175.6h0M543.5 241.9h0M459.6 188.2h0M463.2 186.0h0M517.1 245.7h0M464.9 200.1h0M412.6 156.0h0M329.6 125.3h0"/>
<path class="p" stroke="#482979" d="M557.1 302.2h0M570.7 278.0h0M573.9 312.6h0M524.0 229.1h0M516.9 208.6h0M433.3 168.9h0M545.0 238.5h0M482.4 190.2h0M539.1 234.3h0M427.0 157.0h0M371.5 133.5h0M449.4 181.6h0M524.3 227.7h0M559.5 241.7h0M394.3 133.4h0M567.7 251.5h0M448.5 177.7h0M399.2 150.2h0M533.5 220.5h0M433.2 165.0h0M584.1 338.4h0M535.1 237.3h0M460.4 185.1h0M515.4 231.5h0M548.7 259.4h0M438.3 175.1h0"/>
<path class="p" stroke="#46327e" d="M555.6 305.3h0M582.3 337.6h0M450.2 160.4h0M510.6 191.5h0M589.6 259.5h0M339.1 125.7h0M532.9 242.1h0M440.2 157.9h0M439.6 158.2h0M503.6 161.5h0M356.3 133.9h0M564.3 315.7h0M368.6 138.1h0M502.2 189.5h0M342.2 126.0h0M428.5 167.3h0M466.6 170.9h0M488.3 194.4h0M446.5 158.0h0M519.8 197.1h0M568.2 265.8h0M394.1 88.9h0M432.5 161.8h0M494.8 182.8h0M427.2 151.4h0M386.7 154.9h0M466.7 179.8h0M530.2 230.0h0M550.0 268.2h0M374.5 140.4h0M443.6 175.4h0M534.4 236.9h0M582.9 246.7h0M549.8 271.7h0M456.0 153.7h0M490.1 193.6h0M342.0 122.4h0M365.1 133.9h0M537.8 146.5h0M456.6 177.2h0M419.8 152.7h0M616.6 364.0h0M602.4 346.1h0"/>
<path class="p" stroke="#443a83" d="M517.9 187.0h0M524.0 199.3h0M379.1 136.1h0M441.0 163.7h0M336.1 144.2h0M495.4 192.8h0M504.9 196.2h0M479.9 176.9h0M499.1 160.5h0M585.4 382.7h0M443.8 144.3h0M472.1 161.5h0M395.4 113.5h0M576.3 268.6h0M546.3 227.0h0M532.0 192.2h0M562.2 260.8h0M472.8 127.7h0M558.1 215.3h0M348.5 111.4h0M388.5 136.6h0M552.7 238.2h0M356.9 112.7h0M383.3 123.2h0M486.4 177.2h0M576.6 251.6h0M510.6 195.3h0M437.1 162.1h0"/>
<path class="p" stroke="#414487" d="M551.5 223.6h0M430.5 138.6h0M547.6 209.5h0M567.7 234.7h0M551.6 235.5h0M369.0 114.5h0M586.3 275.0h0M446.4 156.2h0M570.5 242.5h0M586.6 285.2h0M482.5 166.2h0M399.6 115.8h0M457.1 168.1h0M597.3 321.5h0M390.1 123.1h0M589.7 275.5h0M487.8 179.2h0"/>
<path class="p" stroke="#3e4c8a" d="M609.9 283.3h0M540.8 208.2h0M585.9 299.3h0M483.4 166.1h0M581.0 285.2h0M573.9 230.8h0M324.3 91.4h0M558.2 221.0h0M350.3 134.7h0M501.3 177.1h0M430.9 142.3h0M577.1 254.5h0M609.6 300.8h0M567.7 208.3h0M501.0 175.8h0"/>
<path class="p" stroke="#3a538b" d="M604.6 356.1h0M514.5 163.8h0M444.4 154.5h0M480.9 162.7h0M527.3 191.5h0M593.0 309.0h0M530.3 191.7h0M621.9 327.1h0M555.9 221.4h0M414.3 109.0h0M358.4 105.2h0M575.8 243.7h0M527.9 174.5h0M576.0 225.9h0M369.6 113.9h0M439.1 140.1h0M462.7 141.8h0M386.9 119.3h0M485.4 163.6h0M371.7 116.0h0M512.0 181.2h0M570.3 223.9h0M584.6 277.6h0M595.0 297.8h0M571.5 230.3h0M502.9 154.8h0M518.4 185.7h0M533.2 188.2h0"/>
<path class="p" stroke="#365c8d" d="M553.5 199.0h0M527.9 174.1h0M470.7 140.2h0M594.0 260.8h0M553.7 211.3h0M543.5 196.3h0M421.7 119.2h0M489.4 166.6h0M494.4 170.6h0M629.8 349.9h0M602.5 260.9h0M617.3 312.6h0M502.2 169.6h0M488.1 159.6h0"/>
<path class="p" stroke="#33638d" d="M351.0 97.7h0M484.7 133.1h0M364.5 95.3h0M434.0 134.0h0M542.3 187.3h0M505.6 157.4h0M358.7 90.5h0M576.2 234.1h0M361.9 100.5h0M578.4 248.5h0"/>
<path class="p" stroke="#306a8e" d="M578.5 235.2h0M632.9 249.7h0M573.8 215.6h0M529.2 168.9h0M496.7 160.3h0M580.0 222.1h0M503.9 166.9h0M554.5 201.2h0M606.5 256.1h0M628.9 369.1h0M597.0 265.0h0M561.4 186.8h0M492.9 141.7h0M617.3 297.4h0M485.0 212.0h0M350.4 91.3h0M532.1 237.4h0M462.2 128.0h0M503.2 161.2h0M559.7 195.7h0M619.5 312.0h0M572.9 204.7h0"/>
<path class="p" stroke="#2c718e" d="M573.8 214.7h0M589.8 245.5h0M560.4 197.7h0M624.0 312.0h0M513.0 166.1h0M597.6 256.2h0M571.8 219.4h0M630.0 280.6h0M575.9 225.1h0M470.8 138.2h0M598.2 122.9h0M501.1 154.0h0M530.3 156.2h0M595.1 236.7h0M528.7 150.6h0M448.9 141.1h0M608.0 254.9h0M500.4 161.3h0M552.6 199.9h0M565.6 198.7h0M530.3 169.8h0M414.2 130.0h0M374.5 109.1h0"/>
<path class="p" stroke="#2a788e" d="M489.4 141.2h0M591.0 230.1h0M657.6 376.0h0M430.7 116.0h0M518.2 160.4h0M498.4 150.5h0M575.2 215.6h0M585.7 231.7h0M460.4 129.1h0M568.8 203.8h0M561.0 204.6h0"/>
<path class="p" stroke="#277f8e" d="M638.1 314.8h0M555.7 194.3h0M574.2 186.4h0M505.6 143.9h0M550.5 184.1h0M560.1 193.9h0M632.3 287.7h0M612.5 264.4h0"/>
<path class="p" stroke="#24868e" d="M395.5 106.2h0M482.2 139.2h0M575.3 206.5h0M508.9 157.1h0M493.5 139.1h0M515.8 157.0h0M551.3 188.0h0M504.1 140.2h0M525.7 156.2h0M582.2 203.5h0M453.0 129.3h0M548.9 185.1h0"/>
<path class="p" stroke="#228d8d" d="M542.7 167.6h0M452.4 127.8h0M513.5 158.2h0M592.6 249.5h0M648.6 374.1h0M509.5 158.0h0M574.6 206.6h0M584.9 219.5h0M439.3 106.1h0M575.1 200.5h0M598.5 220.2h0M481.3 123.4h0M617.4 227.4h0M486.6 133.4h0M568.0 195.3h0M644.5 358.1h0"/>
<path class="p" stroke="#20938c" d="M528.0 149.6h0M537.9 162.4h0M575.4 208.9h0M532.2 156.4h0M423.1 111.2h0M637.1 300.6h0M473.4 111.6h0M583.9 216.2h0M438.5 105.5h0M566.3 193.3h0M523.4 150.7h0M539.6 156.7h0"/>
<path class="p" stroke="#1f9a8a" d="M594.2 217.1h0M640.5 303.6h0M656.0 329.8h0M487.0 143.9h0M533.2 149.2h0M632.8 281.2h0M556.7 181.6h0M531.4 144.4h0M571.2 192.1h0M495.5 132.5h0M543.0 163.5h0M440.7 115.5h0M607.0 236.9h0M561.0 187.5h0"/>
<path class="p" stroke="#1fa187" d="M541.7 164.1h0M536.6 164.5h0M559.1 184.5h0M396.3 93.2h0M613.7 240.7h0M506.4 136.9h0M556.4 164.4h0M542.5 157.1h0M447.5 83.8h0M576.7 195.5h0M540.9 157.5h0M524.0 113.9h0M511.0 148.0h0M464.3 112.1h0"/>
<path class="p" stroke="#22a884" d="M637.2 263.5h0M438.4 114.6h0M613.5 236.0h0M537.1 159.1h0M448.1 111.6h0M534.7 159.7h0M525.0 151.3h0M527.2 150.8h0M595.7 210.7h0M468.3 124.4h0M486.5 139.7h0M437.9 107.8h0M574.3 193.0h0"/>
<path class="p" stroke="#28ae80" d="M570.7 184.2h0M638.4 257.9h0M584.2 192.2h0M609.8 235.5h0M524.7 136.7h0M475.3 114.2h0M522.8 141.7h0M569.7 188.9h0M503.0 127.8h0M564.3 171.0h0M507.9 133.5h0M648.1 292.0h0"/>
<path class="p" stroke="#32b67a" d="M562.7 175.9h0M563.9 168.8h0M553.8 173.4h0M616.7 211.4h0M575.5 184.5h0M352.0 79.4h0M648.7 278.2h0M405.9 95.0h0M616.2 218.4h0M475.9 123.9h0"/>
<path class="p" stroke="#3dbc74" d="M611.2 228.2h0M660.6 288.0h0M601.6 213.9h0M464.8 104.3h0M492.3 120.2h0M585.8 192.8h0M589.5 194.1h0M549.7 165.4h0M538.8 148.9h0M412.5 88.1h0M419.8 92.5h0M648.2 254.5h0M523.5 151.9h0M562.2 169.1h0M463.2 100.1h0"/>
<path class="p" stroke="#4ac16d" d="M606.7 223.5h0M478.4 103.9h0M443.6 103.4h0M619.3 236.6h0M547.1 158.6h0M447.0 109.2h0M518.4 141.2h0M607.8 218.4h0M596.9 208.1h0M501.4 116.3h0"/>
<path class="p" stroke="#5ac864" d="M607.7 219.0h0M562.6 155.2h0M544.1 144.8h0M482.1 124.1h0M460.9 103.6h0M668.0 380.2h0M610.8 219.6h0M485.4 102.1h0M678.4 249.0h0"/>
<path class="p" stroke="#69cd5b" d="M641.4 266.5h0M602.8 211.4h0M629.9 248.4h0M360.4 71.8h0M477.2 120.4h0M654.6 298.6h0M465.4 100.5h0M472.7 115.6h0M423.4 91.7h0M633.7 244.1h0M506.8 133.3h0M502.9 107.8h0"/>
<path class="p" stroke="#7ad151" d="M497.9 112.2h0M452.4 102.8h0M464.5 105.3h0M691.4 318.0h0M485.0 115.5h0M455.9 100.3h0M638.1 223.5h0M520.8 137.2h0M521.5 134.4h0M505.7 126.8h0"/>
<path class="p" stroke="#8ed645" d="M574.0 163.0h0M515.5 127.5h0M532.3 144.4h0M531.6 140.9h0M523.6 142.5h0M553.7 159.5h0M522.9 140.2h0M521.0 131.7h0M425.8 91.4h0M531.5 143.8h0M523.0 134.4h0"/>
<path class="p" stroke="#a0da39" d="M560.2 156.8h0M508.5 123.0h0M595.7 188.5h0M470.1 114.4h0M404.7 85.6h0M632.1 244.3h0M451.5 93.8h0M594.6 182.1h0"/>
<path class="p" stroke="#b2dd2d" d="M577.9 177.1h0M594.0 166.4h0M581.5 170.2h0M527.9 109.2h0M467.1 104.0h0"/>
<path class="p" stroke="#c8e020" d="M519.5 117.3h0M517.7 125.0h0M584.8 180.4h0"/>
<path class="p" stroke="#dae319" d="M487.1 112.7h0M534.3 129.6h0M678.1 279.1h0M521.6 119.8h0M629.4 227.3h0M619.5 201.4h0"/>
<path class="p" stroke="#ece51b" d="M478.2 111.1h0M612.0 205.9h0M475.4 90.4h0M516.1 131.9h0M655.1 259.7h0M535.7 144.7h0M662.6 284.8h0M649.2 251.8h0M482.0 109.0h0M528.5 132.2h0M564.7 154.4h0M558.7 157.9h0M548.4 139.8h0M424.3 84.4h0M470.6 97.1h0M661.5 230.6h0M396.4 65.3h0"/>
<path class="p" stroke="#fde725" d="M702.6 250.2h0M564.8 121.4h0M644.8 229.8h0M591.3 142.8h0M661.3 188.1h0M591.6 135.0h0M685.2 228.2h0M592.1 137.1h0M657.2 222.3h0M523.9 106.4h0M647.6 121.5h0M678.2 251.7h0M495.3 84.8h0M731.1 281.8h0M395.3 70.4h0M587.7 157.0h0M573.4 138.4h0M563.3 110.3h0M596.0 165.8h0M531.1 133.4h0M419.4 53.6h0M677.8 239.5h0M602.9 186.1h0M496.0 89.8h0M708.4 323.9h0M717.4 365.5h0M611.8 162.0h0M551.3 125.9h0M661.4 212.5h0M489.8 67.5h0M458.3 72.5h0M719.4 294.4h0M560.9 137.6h0M675.2 301.7h0M664.9 151.0h0M489.4 101.3h0M687.2 280.4h0M542.1 119.8h0M664.9 141.7h0M629.9 159.2h0M658.6 132.5h0M679.3 224.2h0M577.9 128.0h0M494.6 89.7h0M704.2 240.6h0M563.4 90.8h0M474.8 54.8h0M422.8 62.2h0M392.1 61.7h0M525.8 111.3h0M448.2 94.4h0M638.9 122.6h0M460.0 91.4h0M512.3 106.6h0M533.7 107.5h0M561.9 129.0h0M597.4 147.5h0M639.0 211.3h0M636.4 117.2h0M612.5 132.0h0M619.4 159.8h0M640.0 209.5h0M516.6 95.5h0M722.7 232.1h0M540.6 98.8h0M579.6 142.1h0M572.1 113.0h0M499.7 92.1h0M634.5 117.2h0M713.3 354.8h0M504.1 98.4h0M518.7 75.3h0M656.0 193.8h0M564.9 106.9h0M705.7 203.2h0M522.7 116.8h0M677.7 271.3h0M543.4 104.3h0M527.8 124.9h0M576.1 129.0h0M685.9 265.9h0M554.4 133.0h0M691.2 286.0h0M538.0 127.6h0M459.8 86.9h0M512.5 125.1h0M495.2 99.0h0M538.7 88.7h0M599.0 149.6h0M650.2 114.7h0M569.0 152.7h0M658.6 210.2h0M684.5 282.4h0M615.3 199.4h0M595.2 154.0h0M580.0 127.1h0M442.1 78.6h0M549.2 118.8h0M541.6 120.5h0M591.8 135.0h0M766.2 342.9h0M601.9 146.6h0M610.8 189.2h0M584.4 154.1h0M531.3 98.8h0M620.7 167.5h0M405.1 66.5h0M686.5 171.8h0M442.3 82.4h0M546.1 115.1h0M332.1 48.5h0M505.9 108.0h0M529.5 91.9h0M501.3 101.4h0M389.1 70.3h0M625.8 155.4h0M624.4 191.6h0M623.7 159.8h0M696.3 272.2h0M576.5 155.4h0M546.1 109.5h0M499.9 109.3h0M591.9 168.1h0M507.8 116.8h0M580.4 124.7h0M604.4 170.6h0M592.9 128.9h0M579.1 157.5h0M581.0 107.3h0M606.2 130.7h0M714.3 317.8h0M733.0 156.2h0M469.8 85.6h0M705.9 257.9h0M684.0 236.1h0M567.9 130.3h0M650.2 212.8h0M687.9 217.0h0M500.6 97.8h0M382.9 47.7h0M689.5 298.2h0M580.5 152.1h0M488.8 86.2h0M703.1 337.1h0M701.9 347.1h0M727.2 318.2h0M632.3 190.2h0M389.6 56.1h0M658.3 199.4h0M531.6 121.8h0M568.9 113.0h0M422.8 77.7h0M503.8 114.5h0M574.5 122.2h0M689.8 268.1h0M674.0 304.9h0M580.5 93.0h0M641.8 162.3h0M572.1 122.9h0M522.7 112.4h0M740.0 248.2h0M566.6 108.9h0M557.8 146.7h0M476.7 74.6h0M620.0 178.3h0M639.6 211.9h0M508.9 68.2h0M602.5 151.9h0M577.1 153.0h0M601.2 149.0h0M523.5 109.1h0M695.5 227.4h0M713.5 278.9h0M531.2 119.8h0M578.8 167.5h0M485.6 90.7h0M581.2 148.9h0M641.9 165.6h0M455.5 73.2h0M642.9 205.6h0M473.4 100.3h0M614.3 153.9h0M502.6 106.2h0M556.9 111.7h0M622.8 163.2h0M601.4 133.7h0M622.0 151.0h0M460.5 86.2h0M573.5 129.6h0M636.5 154.5h0M545.5 136.4h0M568.6 143.7h0M600.7 156.9h0M656.2 196.3h0M584.0 122.9h0M679.9 287.8h0M733.4 237.2h0M650.9 240.7h0M652.7 202.6h0M600.7 114.5h0M682.7 297.5h0M650.9 232.3h0M527.4 108.1h0M680.7 323.6h0M699.1 104.6h0M476.9 73.3h0M519.9 101.1h0M702.8 248.1h0M453.4 93.3h0M503.6 111.9h0M605.5 184.9h0M713.2 319.8h0M641.6 214.2h0M523.1 92.1h0M500.1 115.9h0M730.0 348.0h0M700.0 366.9h0M546.1 134.8h0M731.7 312.2h0M738.6 284.1h0M490.7 104.8h0M462.4 59.3h0M643.3 111.1h0M421.4 70.1h0M535.1 114.0h0M672.4 236.4h0M368.7 59.5h0M564.0 138.7h0M532.5 112.6h0M638.8 230.4h0M636.1 209.7h0M617.1 191.2h0M609.4 179.2h0M618.6 183.4h0M610.3 165.3h0M437.5 89.5h0M544.2 124.3h0M534.8 94.9h0M463.4 85.2h0M618.6 193.0h0M740.3 293.8h0M438.8 64.4h0M549.8 114.8h0M533.6 112.8h0M450.5 90.0h0M464.7 75.7h0M505.2 95.3h0M584.5 116.1h0M586.7 173.8h0M695.6 347.9h0M453.6 92.7h0M543.1 100.8h0M625.7 177.2h0M513.5 106.5h0M684.5 183.7h0M635.0 226.3h0M719.6 204.3h0M644.9 23.1h0M715.5 288.9h0M647.5 230.6h0M595.2 169.7h0M608.5 151.0h0M573.1 165.6h0M591.9 131.1h0M773.8 261.5h0M534.7 126.9h0M699.5 338.7h0M573.5 155.1h0M494.6 93.5h0M602.7 184.8h0M693.9 297.0h0M609.3 147.9h0M508.7 117.5h0M652.0 244.6h0M718.7 312.8h0M565.1 150.5h0M620.8 176.8h0M732.8 220.2h0M535.5 93.1h0M557.2 137.4h0M640.1 186.0h0M665.8 161.8h0M632.7 154.0h0M621.9 206.1h0M572.6 129.3h0M642.3 157.7h0M716.3 292.2h0M605.2 131.9h0M596.3 180.2h0M647.6 147.9h0M604.4 144.5h0M661.0 226.5h0M565.6 122.0h0M534.1 130.6h0M636.9 170.7h0M546.0 117.5h0M478.5 92.9h0M543.0 124.0h0M616.8 146.6h0M662.2 243.5h0M525.2 122.5h0M537.1 120.7h0M628.1 221.1h0M537.5 120.2h0M528.3 129.6h0M564.0 150.6h0M545.1 120.5h0M516.5 118.5h0M457.8 95.3h0M480.6 70.3h0M639.8 202.4h0M529.7 92.1h0M657.7 228.3h0M696.1 161.8h0M683.1 285.0h0M611.7 132.2h0M434.0 73.4h0M495.9 107.7h0M629.4 188.2h0M352.2 29.7h0M642.5 235.8h0M593.7 158.1h0M602.2 163.9h0M532.0 107.6h0M580.3 102.6h0M570.6 91.6h0M559.6 95.9h0M552.1 119.9h0M510.2 108.1h0M572.3 136.3h0M591.1 149.7h0M728.2 234.3h0M383.7 27.7h0M518.2 105.7h0M675.0 154.5h0M655.8 167.8h0M497.0 94.6h0M487.7 101.0h0M511.2 81.3h0M507.2 88.5h0M575.4 126.7h0M590.0 148.9h0M681.7 297.0h0M636.2 210.0h0M582.4 91.5h0M658.9 227.4h0M580.2 143.1h0M502.2 78.5h0M637.2 177.0h0M639.1 220.4h0M566.2 140.0h0M467.8 102.4h0M624.4 186.9h0M570.4 131.3h0M446.9 55.7h0M444.3 40.0h0M605.3 164.3h0M418.0 78.6h0M700.4 216.4h0M695.9 216.0h0M563.6 112.4h0M683.6 248.1h0M670.3 195.6h0M598.5 154.6h0M612.2 200.9h0M550.5 140.8h0M581.8 144.5h0M666.9 173.4h0M618.5 179.3h0M604.6 139.3h0M626.9 171.8h0M752.0 245.7h0M502.8 90.3h0M616.5 117.9h0M560.9 130.1h0M428.7 58.0h0M698.4 265.4h0M655.1 181.8h0M464.3 89.5h0M712.1 290.9h0M558.6 127.6h0M644.9 214.5h0"/>
<path class="p" stroke="#440154" d="M387.2 157.5h0M454.6 203.0h0M535.6 381.6h0M491.9 251.6h0M425.3 204.3h0M397.8 183.5h0M479.3 233.3h0M499.3 268.1h0M442.1 213.6h0M486.3 209.4h0M535.4 292.3h0M447.7 222.3h0M406.3 199.2h0M483.0 194.2h0M489.0 214.4h0M382.1 180.6h0M474.1 239.0h0M446.1 223.5h0M488.4 252.6h0M459.1 213.7h0M517.6 279.1h0M350.4 149.6h0M497.1 261.8h0M471.2 172.3h0M429.1 206.0h0M518.8 289.5h0M411.8 189.1h0"/>
<path class="p" stroke="#460b5e" d="M366.8 169.8h0M432.8 194.1h0M510.3 242.8h0M398.1 178.6h0M459.4 190.3h0M529.2 236.3h0M557.8 352.5h0M525.0 336.4h0M379.7 166.5h0M531.1 261.4h0M519.5 317.1h0M353.1 140.2h0M392.6 163.7h0M514.9 251.7h0M363.8 163.1h0M520.2 247.2h0M420.0 184.9h0M550.9 309.8h0M360.2 152.2h0M465.7 186.7h0M373.7 146.4h0M389.6 181.7h0M495.0 241.6h0M492.1 245.3h0M524.5 308.7h0M399.1 179.7h0M515.1 268.7h0M339.3 145.4h0M529.3 332.4h0M460.5 223.5h0M378.3 170.1h0M374.9 170.5h0M519.5 304.8h0M343.1 145.1h0M501.6 261.5h0M440.6 209.3h0M516.0 227.3h0M534.7 323.1h0"/>
<path class="p" stroke="#481668" d="M479.1 191.2h0M546.7 328.9h0M484.1 234.4h0M433.3 184.0h0M543.4 382.3h0M534.1 286.8h0M561.0 216.5h0M524.7 272.5h0M537.3 266.6h0M494.8 222.9h0M449.0 170.5h0M438.6 189.5h0M522.5 274.5h0M355.8 159.5h0M371.2 165.8h0M425.0 189.0h0M533.0 258.3h0M330.6 135.7h0M361.7 150.3h0M461.8 189.5h0M462.5 211.6h0M439.2 193.3h0M485.9 222.5h0M402.8 173.8h0M481.0 215.4h0M444.5 187.8h0M513.8 257.4h0M461.6 190.7h0M400.6 164.4h0M521.6 281.9h0M331.7 140.7h0M511.5 215.8h0M364.5 153.4h0M405.5 180.4h0M531.2 267.8h0M555.0 351.8h0M559.1 306.6h0M385.8 174.5h0M472.0 214.0h0M383.9 167.9h0"/>
<path class="p" stroke="#481f70" d="M470.8 201.7h0M331.2 116.8h0M533.2 293.0h0M334.6 143.8h0M559.0 323.2h0M529.3 245.0h0M331.2 127.3h0M428.6 139.2h0M509.6 221.7h0M540.7 255.5h0M474.0 202.5h0M420.5 142.4h0M338.8 144.4h0M423.8 154.8h0M525.9 243.0h0M523.6 243.6h0M410.9 141.9h0M416.7 142.3h0M473.1 188.0h0M552.3 295.2h0M523.5 189.5h0M454.4 174.1h0M581.1 306.9h0M493.9 217.7h0M479.5 199.5h0M541.1 263.5h0M535.6 260.3h0M423.6 173.2h0M402.9 148.5h0M530.8 270.2h0M424.2 144.3h0M499.5 208.2h0M460.6 161.3h0M560.5 262.9h0M419.4 176.6h0M403.1 156.7h0M538.8 274.3h0M423.3 181.6h0M483.7 206.6h0"/>
<path class="p" stroke="#482979" d="M489.6 200.1h0M434.4 177.5h0M481.8 186.1h0M423.8 162.5h0M546.5 241.3h0M412.4 151.5h0M485.3 199.4h0M612.3 347.4h0M462.0 194.4h0M540.1 249.9h0M493.8 205.6h0M502.0 190.1h0M500.7 204.2h0M568.6 331.6h0M557.5 323.4h0M474.8 168.3h0M419.8 162.4h0M470.7 195.0h0M426.8 171.7h0M551.4 210.6h0M557.7 265.5h0M435.3 173.4h0M549.5 259.1h0M512.0 216.5h0M468.9 169.7h0M473.5 180.5h0M425.9 165.1h0"/>
<path class="p" stroke="#46327e" d="M397.9 133.5h0M389.3 142.6h0M536.6 178.5h0M404.9 151.1h0M408.2 153.8h0M415.0 154.2h0M440.4 156.2h0M545.1 257.7h0M555.4 273.2h0M451.4 178.4h0M555.5 242.7h0M556.6 230.5h0M535.1 234.8h0M412.6 154.9h0M515.4 185.9h0M552.0 228.0h0M420.9 158.4h0M536.4 204.7h0M385.5 141.1h0M489.7 189.2h0M465.2 168.1h0M553.7 261.0h0M580.2 334.7h0M483.0 172.5h0M502.6 184.2h0"/>
<path class="p" stroke="#443a83" d="M324.4 116.9h0M420.5 156.1h0M483.5 174.9h0M523.7 195.7h0M572.3 278.6h0M515.4 202.5h0M310.9 109.9h0M426.5 148.8h0M400.7 139.2h0M438.4 164.1h0M571.4 285.7h0M547.1 225.0h0M511.8 173.9h0M518.9 194.9h0M484.9 182.6h0M558.6 227.1h0M556.2 239.0h0M515.9 196.2h0M498.8 184.0h0M576.2 272.9h0M495.1 177.0h0M394.7 149.1h0M544.2 196.9h0M463.7 179.0h0M431.4 143.8h0M543.6 215.3h0M546.6 235.3h0M579.9 275.9h0M554.9 263.6h0M432.3 155.4h0"/>
<path class="p" stroke="#414487" d="M579.9 300.2h0M438.8 145.8h0M587.6 342.6h0M401.1 143.6h0M434.5 137.8h0M538.1 207.7h0M543.5 204.8h0M525.2 185.7h0M577.9 227.1h0M580.9 247.2h0M591.5 381.0h0M567.6 243.4h0M466.0 157.5h0M596.5 346.2h0M558.4 228.2h0M519.3 205.9h0M527.3 202.5h0M500.1 185.3h0M574.6 211.4h0M509.3 179.9h0M423.6 147.7h0M536.6 208.9h0"/>
<path class="p" stroke="#3e4c8a" d="M564.4 228.0h0M612.2 264.8h0M550.7 210.4h0M602.2 251.3h0M537.6 204.3h0M532.1 177.6h0M399.7 139.5h0M553.0 229.3h0M580.2 286.0h0M559.8 230.7h0M435.8 139.7h0M579.8 278.3h0M391.5 134.4h0M445.9 140.1h0M603.6 313.5h0M503.3 180.4h0M539.2 194.8h0M467.4 151.6h0M564.3 228.8h0M540.8 191.9h0"/>
<path class="p" stroke="#3a538b" d="M577.4 252.8h0M628.5 280.6h0M566.6 210.1h0M336.1 105.0h0M548.0 196.0h0M527.9 190.6h0M525.5 196.2h0M639.2 318.7h0M495.3 174.7h0M552.6 205.0h0M430.2 124.6h0M514.6 190.1h0M525.9 173.8h0M609.4 379.9h0M500.1 176.1h0M596.4 272.8h0M434.7 149.7h0M621.8 378.8h0M543.6 190.2h0"/>
<path class="p" stroke="#365c8d" d="M472.9 140.2h0M572.3 231.5h0M550.7 197.5h0M556.9 214.7h0M523.3 172.5h0M621.6 338.0h0M447.4 135.4h0M450.9 147.0h0M597.2 255.8h0M539.8 197.2h0M412.0 121.2h0M600.0 324.0h0M321.1 102.6h0M563.4 217.7h0M410.2 139.4h0M577.8 245.5h0"/>
<path class="p" stroke="#33638d" d="M630.9 246.1h0M465.9 145.5h0M474.2 151.1h0M522.9 175.1h0M559.1 209.4h0M516.9 181.0h0M421.3 122.1h0M614.1 208.4h0M442.5 137.7h0M461.9 125.4h0M538.3 189.4h0M615.9 372.6h0M631.0 274.0h0M540.3 194.0h0M555.7 193.0h0M485.2 161.5h0M504.1 165.5h0M593.6 251.3h0M542.9 172.1h0"/>
<path class="p" stroke="#306a8e" d="M570.9 226.1h0M325.0 81.1h0M398.8 116.1h0M526.7 182.8h0M577.7 243.5h0M631.0 364.6h0M611.0 290.9h0M541.2 193.3h0M635.7 323.9h0M576.8 225.5h0M513.0 169.4h0M453.0 139.1h0M470.6 147.3h0M529.5 187.4h0M601.6 272.7h0M621.6 330.2h0M500.7 159.6h0M518.0 168.5h0M453.6 110.1h0"/>
<path class="p" stroke="#2c718e" d="M548.8 192.1h0M534.1 181.7h0M430.2 109.4h0M623.0 321.4h0M423.6 134.9h0M565.6 175.5h0M597.2 241.9h0M570.7 217.4h0M388.6 120.7h0M601.7 262.8h0M524.1 159.8h0M621.5 308.8h0M499.5 147.8h0M574.3 216.9h0M518.4 156.5h0"/>
<path class="p" stroke="#2a788e" d="M426.9 119.8h0M567.9 204.4h0M480.6 148.8h0M606.1 267.1h0M629.8 335.7h0M583.7 234.4h0M591.2 235.1h0M458.7 134.9h0M599.2 248.7h0M532.5 174.7h0M535.5 182.7h0M442.7 121.0h0M507.6 150.1h0M538.9 172.5h0M495.5 151.9h0M525.8 159.9h0M627.4 339.7h0M519.0 166.1h0M596.4 243.6h0M472.2 137.8h0"/>
<path class="p" stroke="#277f8e" d="M550.4 192.2h0M517.0 162.7h0M458.4 133.9h0M473.7 146.7h0M518.9 154.4h0M546.5 153.5h0M548.1 182.5h0M490.3 147.7h0M480.6 147.7h0M636.7 270.1h0M580.7 212.0h0M405.1 104.0h0M380.6 82.2h0M620.8 288.6h0"/>
<path class="p" stroke="#24868e" d="M573.7 200.4h0M620.3 259.9h0M472.2 122.3h0M524.1 160.2h0M499.4 153.1h0M590.4 212.8h0M403.4 97.9h0M529.2 149.8h0M573.0 203.9h0M510.1 148.4h0M635.0 336.8h0"/>
<path class="p" stroke="#228d8d" d="M527.9 140.9h0M561.7 188.0h0M469.7 133.2h0M505.0 140.0h0M608.7 253.6h0M576.3 209.2h0M563.5 197.4h0M567.7 192.4h0M455.2 113.5h0M436.3 120.9h0M624.3 288.7h0M521.9 162.0h0"/>
<path class="p" stroke="#20938c" d="M423.4 83.3h0M525.8 154.1h0M425.7 100.7h0M540.4 155.0h0M450.5 102.6h0M522.5 143.8h0M629.4 274.6h0M541.8 145.6h0M501.2 147.0h0M461.4 118.0h0M481.3 113.3h0M515.7 142.5h0"/>
<path class="p" stroke="#1f9a8a" d="M482.3 137.1h0M517.7 147.7h0M522.9 153.1h0M627.3 263.4h0M459.4 127.6h0M539.9 163.2h0M618.5 212.2h0M400.1 94.0h0M511.2 138.4h0M451.7 91.5h0M649.1 379.9h0M631.6 248.7h0"/>
<path class="p" stroke="#1fa187" d="M652.6 344.8h0M485.9 125.4h0M424.6 91.2h0M605.2 230.2h0M485.6 127.9h0M556.4 168.5h0M465.2 118.8h0M674.7 278.1h0M415.0 96.2h0M600.4 225.9h0M521.4 134.0h0M543.4 159.9h0"/>
<path class="p" stroke="#22a884" d="M482.7 125.2h0M552.1 174.1h0M505.2 138.2h0M643.6 272.3h0M505.0 143.5h0M570.0 191.1h0M538.3 165.0h0M633.7 289.9h0M519.1 152.2h0M565.2 173.0h0"/>
<path class="p" stroke="#28ae80" d="M544.4 164.3h0M547.8 170.6h0M628.7 267.3h0M401.7 97.6h0M519.6 125.2h0M643.1 266.0h0M540.9 163.2h0M540.0 160.8h0M483.9 126.0h0M641.6 254.9h0M491.7 140.0h0M570.8 189.8h0M541.2 155.6h0M459.0 126.7h0M509.0 145.9h0"/>
<path class="p" stroke="#32b67a" d="M505.7 128.1h0M348.6 60.9h0M567.1 178.1h0M413.9 94.6h0M482.3 122.2h0M432.3 104.1h0M654.4 344.7h0M566.8 180.0h0"/>
<path class="p" stroke="#3dbc74" d="M641.3 274.6h0M523.0 137.8h0M515.2 138.2h0M507.7 129.6h0M432.1 97.6h0M520.8 144.8h0M539.0 143.0h0"/>
<path class="p" stroke="#4ac16d" d="M519.5 130.3h0M562.6 174.5h0M613.1 223.7h0M645.8 272.0h0M592.1 189.0h0M421.6 90.7h0M590.9 185.4h0M631.7 220.0h0M568.8 165.4h0M381.2 76.2h0M574.6 183.9h0M562.4 159.8h0M580.6 175.6h0M637.1 261.2h0"/>
<path class="p" stroke="#5ac864" d="M559.8 165.5h0M660.7 293.7h0M409.1 89.1h0M470.5 106.8h0M609.2 214.1h0M651.6 289.4h0M404.0 90.2h0"/>
<path class="p" stroke="#69cd5b" d="M586.8 195.0h0M495.2 112.0h0M636.6 245.3h0M475.8 98.2h0M575.9 185.5h0M568.1 174.2h0M587.1 195.7h0M436.5 101.1h0"/>
<path class="p" stroke="#7ad151" d="M622.1 223.2h0M569.6 159.4h0M600.7 183.4h0M593.3 194.2h0M413.3 91.3h0M523.9 136.7h0M611.8 216.1h0M617.5 213.5h0M552.6 156.0h0M671.8 322.2h0"/>
<path class="p" stroke="#8ed645" d="M527.1 129.7h0M554.8 144.1h0M633.4 240.0h0M655.4 279.8h0M593.5 164.2h0M543.9 155.3h0M589.7 194.4h0M537.6 137.9h0M580.4 172.8h0M523.4 131.0h0M516.3 127.3h0M573.6 168.0h0M580.4 183.2h0M696.6 347.9h0M660.4 304.6h0M675.5 327.9h0"/>
<path class="p" stroke="#a0da39" d="M480.6 111.9h0M522.2 136.1h0M586.8 181.5h0M450.9 88.8h0M440.2 100.9h0M548.3 147.7h0M509.6 126.7h0M570.1 169.6h0M688.1 262.5h0M553.3 139.3h0M611.6 211.7h0M571.0 168.3h0"/>
<path class="p" stroke="#b2dd2d" d="M491.9 113.3h0M481.2 104.6h0M493.2 117.8h0M608.7 197.3h0M521.6 127.9h0M528.3 136.8h0M622.1 228.9h0"/>
<path class="p" stroke="#c8e020" d="M536.4 129.8h0M535.2 129.9h0M583.7 181.4h0M390.3 74.0h0"/>
<path class="p" stroke="#dae319" d="M596.9 191.3h0M505.9 125.6h0M594.7 160.2h0M545.8 148.5h0M657.9 275.0h0M417.1 76.9h0M456.0 101.0h0M553.2 142.5h0M591.1 181.1h0M626.8 214.9h0M470.9 103.5h0M516.0 118.2h0M458.4 107.2h0"/>
<path class="p" stroke="#ece51b" d="M650.1 238.0h0M467.6 106.0h0M411.0 91.3h0M563.1 159.2h0M646.7 239.2h0M685.2 350.1h0M578.2 173.3h0M609.4 187.9h0M667.4 289.3h0M666.2 285.0h0M577.9 151.4h0M373.9 67.6h0M509.9 120.1h0M615.7 190.5h0"/>
<path class="p" stroke="#fde725" d="M638.1 186.2h0M696.0 296.3h0M724.2 247.8h0M398.2 60.4h0M449.8 78.8h0M592.7 111.3h0M678.2 320.3h0M561.8 124.7h0M615.6 144.5h0M660.6 175.2h0M630.1 164.1h0M471.4 184.3h0M553.3 141.4h0M653.8 197.4h0M544.4 83.2h0M664.0 230.9h0M667.6 262.7h0M442.9 88.2h0M603.6 175.9h0M711.6 260.7h0M542.8 125.6h0M562.1 147.3h0M481.2 86.1h0M599.2 147.3h0M493.7 101.8h0M544.7 105.9h0M507.5 98.6h0M414.4 75.5h0M518.2 124.9h0M471.5 103.4h0M705.6 261.9h0M575.9 132.6h0M532.0 106.3h0M679.3 249.8h0M566.4 124.7h0M559.3 137.8h0M633.3 159.0h0M693.4 316.5h0M581.7 111.1h0M565.9 134.4h0M656.4 190.9h0M688.4 359.2h0M536.9 119.6h0M480.6 101.5h0M462.8 89.7h0M560.9 119.6h0M426.9 43.0h0M492.7 102.9h0M578.3 142.7h0M586.8 137.2h0M528.8 114.5h0M527.0 99.2h0M612.9 181.5h0M617.9 142.0h0M517.7 94.5h0M567.4 152.2h0M551.4 96.4h0M503.1 62.6h0M598.4 122.5h0M616.4 176.5h0M536.1 97.1h0M449.9 79.4h0M492.2 113.5h0M531.3 96.1h0M601.8 166.0h0M551.0 118.7h0M678.1 219.3h0M607.0 171.2h0M547.5 123.0h0M590.7 165.9h0M710.2 119.3h0M669.9 202.0h0M614.7 187.4h0M663.5 218.3h0M646.9 243.2h0M603.9 154.2h0M420.4 86.0h0M564.0 137.3h0M507.8 127.8h0M581.6 122.4h0M726.1 299.3h0M554.5 84.3h0M574.4 131.1h0M459.6 75.4h0M689.7 209.7h0M535.0 116.9h0M433.9 82.4h0M645.8 146.2h0M717.9 214.8h0M641.6 203.8h0M651.9 184.4h0M600.4 130.2h0M626.3 147.7h0M572.4 166.1h0M606.9 158.8h0M559.0 126.1h0M590.7 97.8h0M688.5 232.6h0M560.7 110.2h0M704.5 177.8h0M551.6 140.4h0M648.8 187.8h0M493.9 55.1h0M510.6 102.3h0M670.6 217.5h0M614.6 169.5h0M670.6 260.5h0M479.4 76.6h0M457.5 92.0h0M598.1 149.5h0M559.6 120.7h0M416.6 75.8h0M490.3 88.8h0M649.5 223.4h0M668.6 263.1h0M489.7 84.8h0M574.5 129.8h0M380.1 63.9h0M624.5 197.7h0M632.7 214.6h0M561.6 140.0h0M593.1 134.1h0M636.5 226.7h0M646.8 126.0h0M590.0 127.9h0M569.6 96.3h0M656.3 240.5h0M701.5 149.0h0M568.3 118.5h0M673.1 275.9h0M515.6 54.7h0M679.0 208.1h0M484.4 73.5h0M435.5 80.4h0M578.4 85.6h0M481.1 72.2h0M557.6 129.7h0M556.0 144.7h0M705.7 280.2h0M561.7 125.0h0M447.4 82.7h0M653.1 209.5h0M568.5 148.8h0M515.3 90.2h0M532.0 122.2h0M594.6 180.9h0M622.8 169.7h0M624.4 180.5h0M539.8 89.0h0M713.9 269.1h0M446.6 76.0h0M444.5 76.2h0M607.4 163.8h0M695.0 219.1h0M665.2 203.3h0M433.5 62.8h0M662.0 229.1h0M533.2 114.7h0M473.4 55.7h0M500.2 110.8h0M491.3 83.6h0M607.0 177.8h0M683.4 220.0h0M738.5 200.8h0M579.8 161.2h0M701.3 135.7h0M532.8 121.8h0M380.1 65.0h0M487.8 91.6h0M562.7 110.1h0M681.3 122.6h0M464.3 62.3h0M632.7 154.2h0M577.0 167.3h0M453.4 74.1h0M476.9 81.8h0M473.3 90.6h0M545.6 130.5h0M603.3 168.9h0M682.2 259.6h0M636.6 133.3h0M394.3 47.4h0M673.1 207.0h0M448.4 95.8h0M548.7 103.6h0M650.0 172.3h0M638.9 225.4h0M608.2 182.9h0M545.8 133.1h0M713.9 243.4h0M684.0 165.5h0M589.9 165.5h0M637.6 207.7h0M541.2 110.8h0M491.3 93.0h0M691.7 286.3h0M560.5 142.9h0M626.9 135.5h0M591.6 177.9h0M603.4 156.8h0M629.7 138.4h0M591.8 153.3h0M621.6 175.3h0M542.9 112.8h0M628.9 142.9h0M514.3 86.8h0M622.4 179.3h0M375.7 63.5h0M637.5 164.5h0M645.9 214.2h0M626.2 176.4h0M514.2 113.6h0M468.5 80.7h0M597.9 155.5h0M654.5 213.4h0M637.8 217.2h0M686.8 133.5h0M678.6 193.2h0M501.8 117.5h0M399.2 52.9h0M601.5 138.3h0M722.7 359.3h0M661.3 220.8h0M650.1 192.1h0M475.9 105.6h0M569.9 138.0h0M549.3 87.4h0M472.0 95.6h0M524.3 112.2h0M717.6 219.3h0M528.3 113.2h0M510.9 87.6h0M450.5 94.0h0M592.4 143.9h0M509.5 86.9h0M484.4 60.2h0M533.1 93.0h0M485.3 93.0h0M497.5 88.1h0M603.1 159.2h0M682.8 285.2h0M648.3 209.2h0M540.5 128.7h0M543.3 115.2h0M599.9 156.0h0M592.7 143.2h0M704.7 322.8h0M655.3 211.2h0M496.4 107.5h0M650.5 194.1h0M578.3 140.3h0M533.6 103.9h0M547.1 138.9h0M599.0 149.7h0M585.7 151.0h0M627.0 112.4h0M433.0 66.7h0M559.6 130.8h0M523.6 109.9h0M610.3 106.9h0M630.0 182.3h0M423.0 56.1h0M572.7 116.8h0M563.2 104.2h0M381.6 55.1h0M611.5 177.0h0M490.6 80.0h0M607.2 170.8h0M676.1 213.4h0M637.8 156.2h0M430.3 48.0h0M567.5 129.2h0M481.6 100.0h0M515.4 96.7h0M599.2 185.8h0M640.5 205.3h0M646.6 192.8h0M495.6 109.1h0M362.6 44.5h0M589.3 171.9h0M672.7 150.3h0M500.0 84.4h0M434.7 76.3h0M670.3 173.3h0M537.5 107.0h0M609.7 190.4h0M671.0 171.3h0M402.0 63.2h0M669.0 233.9h0M375.6 78.4h0M631.0 201.1h0M611.2 196.3h0M681.7 290.8h0M621.3 209.1h0M579.6 130.0h0M427.5 84.9h0M483.2 105.2h0M402.5 59.4h0M471.8 93.1h0M713.3 305.6h0M637.4 185.6h0M646.4 215.4h0M511.4 106.2h0M616.2 174.9h0M417.0 62.7h0M517.0 117.6h0M606.0 109.4h0M623.0 175.8h0M480.3 98.7h0M673.9 217.8h0M645.8 233.4h0M685.3 266.0h0M609.4 154.1h0M528.7 76.7h0M598.0 183.4h0M667.3 183.9h0M551.1 75.0h0M582.3 122.1h0M526.1 130.3h0M473.1 31.0h0M694.3 230.6h0M564.4 116.7h0M571.2 141.5h0M532.9 127.8h0M594.2 137.0h0M661.0 187.4h0M523.8 65.4h0M485.0 94.6h0M560.2 126.4h0M637.4 158.7h0M461.9 91.2h0M580.5 134.1h0M577.9 125.8h0M518.4 109.2h0M601.6 135.6h0M554.0 115.0h0M569.1 119.8h0M619.1 171.5h0M542.9 99.9h0M724.5 197.0h0M450.3 79.1h0M424.5 75.4h0M529.4 121.1h0M587.8 164.0h0M518.7 112.9h0M575.1 133.7h0M673.7 209.5h0M439.9 64.2h0M538.5 125.3h0M650.6 217.2h0M652.2 189.1h0M622.0 209.4h0M448.9 55.9h0M644.9 210.1h0M626.3 209.9h0M735.5 340.6h0M555.0 125.3h0M554.1 92.5h0M539.4 125.7h0M737.0 296.1h0M488.4 105.2h0M528.7 96.0h0M541.4 112.9h0M629.4 155.1h0M476.3 73.8h0M609.2 175.2h0M507.2 71.6h0M602.5 136.4h0M570.2 148.6h0M667.6 256.7h0M589.9 145.6h0M517.8 107.1h0M640.7 128.5h0M567.6 127.1h0M453.1 65.6h0M454.2 77.5h0M498.7 82.5h0M484.9 68.4h0M673.9 137.9h0M648.5 204.9h0M755.4 284.1h0M613.5 201.0h0M469.7 84.7h0M592.5 119.6h0M682.7 155.8h0M557.2 85.6h0M462.5 70.7h0M470.2 69.6h0M541.7 121.7h0M692.5 339.4h0M711.4 374.5h0M589.4 124.9h0M635.4 218.9h0M681.7 266.3h0M585.2 127.3h0M634.4 172.1h0M675.4 163.9h0M514.3 107.9h0M547.2 121.7h0M706.0 304.2h0M437.0 73.2h0"/>
<path class="p" stroke="#440154" d="M457.2 224.6h0M354.2 169.1h0M391.1 178.8h0M457.7 217.7h0M451.8 157.7h0M452.7 225.9h0M458.5 210.4h0M490.0 243.9h0M486.5 217.8h0M506.7 269.2h0M502.8 269.7h0M552.3 261.9h0M407.2 193.9h0M453.2 209.4h0M439.1 210.6h0M492.3 229.8h0M444.8 192.6h0M400.0 198.7h0M445.5 205.7h0"/>
<path class="p" stroke="#460b5e" d="M414.2 168.5h0M385.3 173.1h0M319.8 156.0h0M483.6 225.7h0M361.3 150.6h0M318.1 143.1h0M376.4 168.4h0M385.6 163.7h0M550.8 291.9h0M456.6 181.6h0M548.5 356.9h0M439.1 177.4h0M544.3 331.0h0M343.6 135.3h0M382.2 174.7h0M506.4 213.8h0M513.6 274.4h0M342.2 153.6h0M311.2 128.6h0M441.3 200.6h0M434.0 199.6h0M524.5 291.7h0M434.5 170.1h0M537.9 374.8h0M512.4 254.1h0M469.8 226.1h0M453.2 207.7h0M452.1 206.2h0M562.0 334.8h0M543.1 302.5h0M419.3 191.7h0M555.3 362.1h0M436.7 205.3h0M449.1 213.5h0M350.1 133.6h0M438.5 171.5h0M416.4 178.6h0M384.9 173.4h0M520.5 287.3h0M400.4 171.5h0M501.7 246.3h0M352.2 160.2h0M353.9 141.7h0M315.6 132.7h0M504.4 273.1h0M470.5 223.1h0M358.2 169.8h0M532.7 289.5h0M514.0 289.2h0"/>
<path class="p" stroke="#481668" d="M523.2 288.0h0M461.6 203.9h0M557.2 241.5h0M424.0 188.8h0M408.6 174.7h0M376.1 169.4h0M473.3 212.0h0M543.0 245.5h0M378.9 164.7h0M386.6 166.1h0M413.6 170.7h0M335.1 153.2h0M337.9 136.4h0M524.8 278.3h0M519.5 255.9h0M558.1 369.8h0M538.7 240.7h0M452.6 193.1h0M537.4 250.7h0M541.4 304.1h0M421.4 179.2h0M422.7 188.7h0M429.5 178.7h0M446.9 198.2h0M522.5 275.2h0M517.1 247.6h0M517.7 253.5h0M417.9 119.3h0M385.1 160.4h0M538.5 355.1h0M553.5 263.8h0M407.6 181.6h0M539.6 321.5h0M310.0 128.9h0M582.5 275.7h0M445.1 195.4h0M367.5 160.2h0M511.9 247.3h0M520.9 283.9h0"/>
<path class="p" stroke="#481f70" d="M365.6 95.1h0M552.5 360.1h0M489.3 179.7h0M501.3 228.2h0M450.6 192.6h0M447.2 193.4h0M359.7 137.8h0M532.6 261.7h0M414.4 148.7h0M502.4 229.0h0M464.3 192.1h0M399.1 153.7h0M484.7 173.9h0M525.0 230.6h0M516.5 248.1h0M523.5 263.2h0M543.7 290.0h0M374.7 150.7h0M384.5 159.7h0M352.5 137.2h0M452.1 190.5h0M420.9 176.6h0M480.1 219.5h0M536.4 277.4h0M539.9 229.3h0M555.8 353.7h0M375.0 152.7h0M482.1 200.7h0M465.5 182.0h0M554.3 352.4h0M555.5 243.8h0M464.0 200.3h0M420.6 171.1h0M527.9 256.4h0M425.8 184.5h0M556.1 327.7h0M426.3 173.4h0M463.3 166.6h0M539.3 317.3h0M522.7 214.6h0M498.4 195.4h0M540.4 306.1h0M393.5 157.1h0M559.8 365.7h0"/>
<path class="p" stroke="#482979" d="M494.3 209.9h0M490.3 174.5h0M314.5 131.8h0M400.8 147.9h0M472.2 198.7h0M495.4 219.0h0M562.9 352.4h0M368.9 144.4h0M558.4 304.9h0M470.9 194.7h0M479.8 192.7h0M594.2 345.1h0M398.1 145.0h0M504.8 214.2h0M527.4 210.5h0M438.4 165.8h0M492.6 202.1h0M384.5 136.5h0M487.2 187.4h0M527.4 173.1h0M440.2 160.5h0M453.4 189.4h0M584.6 299.5h0M365.9 137.9h0M487.7 190.2h0M372.4 134.8h0"/>
<path class="p" stroke="#46327e" d="M549.9 224.5h0M555.2 239.8h0M439.5 153.3h0M381.5 142.2h0M521.4 119.7h0M445.0 153.1h0M487.7 191.1h0M533.3 214.0h0M457.0 157.7h0M440.7 165.9h0M385.5 133.5h0M377.4 140.1h0M545.0 230.2h0M513.9 206.5h0M426.1 140.1h0M457.6 179.1h0M594.0 356.7h0M460.2 164.7h0M560.6 242.9h0M466.0 154.7h0M556.8 231.9h0M548.3 256.4h0M376.6 133.9h0M538.0 203.2h0M532.4 226.4h0"/>
<path class="p" stroke="#443a83" d="M390.7 148.7h0M536.5 208.4h0M440.3 155.3h0M565.2 268.5h0M565.6 253.6h0M462.2 173.4h0M562.5 267.0h0M438.7 163.2h0M514.5 185.4h0M564.0 280.5h0M543.1 208.1h0M504.5 184.5h0M458.0 175.0h0M545.5 229.1h0M582.5 300.3h0M595.6 351.3h0M447.3 172.2h0M437.0 133.5h0M582.2 365.2h0M576.7 257.8h0M394.4 150.9h0M555.9 274.4h0M456.8 172.1h0M607.1 366.7h0M496.5 184.3h0M503.7 196.8h0M450.2 160.1h0"/>
<path class="p" stroke="#414487" d="M553.1 239.3h0M613.1 285.6h0M453.1 159.8h0M521.7 195.3h0M436.4 151.9h0M409.0 137.3h0M430.7 158.3h0M530.4 203.7h0M546.5 203.3h0M514.4 195.1h0M503.9 186.9h0M522.9 198.5h0M460.6 165.4h0M573.2 276.0h0M479.0 168.5h0M524.3 200.1h0M442.6 129.4h0M543.4 199.3h0M466.8 175.8h0M586.4 315.6h0"/>
<path class="p" stroke="#3e4c8a" d="M460.9 148.7h0M598.3 267.5h0M574.4 264.1h0M577.7 272.5h0M430.6 130.8h0M409.6 122.2h0M600.4 352.0h0M386.7 118.7h0M334.6 110.3h0M452.3 162.2h0M449.8 154.4h0M436.8 151.8h0M419.2 133.1h0M316.5 96.0h0M411.2 151.9h0M458.4 147.8h0M560.4 230.9h0M505.2 177.6h0M563.9 223.6h0M577.4 258.9h0"/>
<path class="p" stroke="#3a538b" d="M563.0 234.4h0M620.7 228.4h0M504.3 175.4h0M573.3 247.2h0M554.1 201.9h0M577.0 254.2h0M551.6 197.3h0M374.8 110.9h0M481.1 154.6h0M411.0 140.3h0M364.6 124.5h0M584.9 230.8h0M522.6 191.3h0M568.7 236.0h0M494.6 168.8h0"/>
<path class="p" stroke="#365c8d" d="M547.6 201.7h0M431.1 107.7h0M359.2 102.8h0M609.1 338.6h0M461.1 152.5h0M586.8 217.2h0M577.8 236.0h0M564.5 214.2h0M484.1 157.9h0M466.9 140.1h0M603.0 298.8h0M539.1 186.2h0M352.2 113.7h0M565.6 223.7h0M588.8 251.1h0M518.9 178.6h0M492.4 164.4h0M560.3 216.5h0M363.6 109.1h0M541.8 198.9h0M497.8 172.1h0M487.0 162.6h0"/>
<path class="p" stroke="#33638d" d="M513.8 164.2h0M613.5 273.4h0M585.1 254.8h0M608.6 295.8h0M492.7 158.4h0M544.8 200.4h0M605.3 304.9h0M410.2 121.0h0M489.2 151.2h0M454.0 172.3h0M566.4 225.6h0M428.7 132.7h0M442.4 132.9h0M448.5 145.5h0M561.1 201.1h0M596.2 281.5h0M573.6 225.6h0M598.5 264.0h0M594.0 253.4h0M374.5 105.7h0M541.4 188.8h0M343.3 121.2h0"/>
<path class="p" stroke="#306a8e" d="M504.7 168.9h0M459.2 145.6h0M557.1 185.7h0M370.9 107.0h0M547.6 169.8h0M511.0 156.7h0M555.8 202.2h0M486.0 151.0h0M466.8 130.1h0M468.7 197.8h0M364.0 108.0h0M570.0 223.0h0M554.2 179.8h0M521.6 168.1h0M409.7 116.8h0M566.1 196.0h0M551.4 189.3h0M557.5 200.0h0M411.0 129.7h0M622.4 340.0h0"/>
<path class="p" stroke="#2c718e" d="M409.4 111.0h0M498.1 149.5h0M482.5 152.3h0M489.4 135.3h0M616.1 255.6h0M496.5 158.8h0M554.5 176.4h0M454.4 138.2h0M535.0 137.3h0M546.5 186.1h0M522.1 168.7h0M447.2 138.1h0M512.7 162.4h0M565.1 199.3h0M516.4 170.8h0M592.0 221.7h0M451.4 228.7h0M633.5 308.7h0M376.7 107.0h0M469.0 152.2h0M456.0 125.6h0M502.4 171.0h0M566.3 210.0h0"/>
<path class="p" stroke="#2a788e" d="M593.6 230.4h0M568.3 208.0h0M547.5 188.1h0M548.2 188.6h0M593.0 228.8h0M635.7 353.1h0M579.9 219.8h0M542.5 175.0h0M467.1 133.7h0M595.2 224.1h0M478.3 151.3h0M490.8 145.8h0"/>
<path class="p" stroke="#277f8e" d="M510.5 153.6h0M588.9 225.1h0M346.6 97.3h0M598.8 242.4h0M637.1 336.9h0M516.8 127.9h0M605.9 238.4h0M566.8 202.4h0M584.6 215.5h0M584.6 204.3h0M521.3 171.2h0M515.4 156.4h0"/>
<path class="p" stroke="#24868e" d="M568.4 206.4h0M579.2 200.2h0M558.7 185.2h0M624.6 293.2h0M575.9 204.6h0M508.7 143.4h0M490.6 144.5h0M389.6 97.0h0M500.0 143.8h0M478.0 141.3h0M549.8 180.6h0M430.2 116.3h0M449.9 123.5h0M604.8 220.7h0"/>
<path class="p" stroke="#228d8d" d="M625.1 295.7h0M592.6 228.5h0M550.1 185.9h0M417.2 109.8h0M510.7 148.2h0M572.0 189.5h0M532.6 164.1h0M619.4 282.9h0M588.4 220.3h0M546.7 155.6h0M402.5 106.4h0M364.6 84.2h0M499.7 126.0h0"/>
<path class="p" stroke="#20938c" d="M653.1 330.1h0M418.4 102.5h0M517.0 154.8h0M465.6 127.7h0M526.3 158.6h0M522.1 165.7h0M522.8 162.7h0M497.2 137.7h0M488.0 142.5h0M404.4 102.4h0M570.1 185.8h0M589.9 209.3h0M652.3 321.5h0M478.8 138.0h0"/>
<path class="p" stroke="#1f9a8a" d="M611.5 243.0h0M462.9 111.4h0M654.0 356.7h0M433.0 105.6h0M625.9 270.9h0M574.2 193.0h0M484.0 120.1h0M438.7 122.4h0M557.6 165.3h0M613.1 259.0h0M650.8 289.6h0M510.6 142.5h0M411.1 106.9h0"/>
<path class="p" stroke="#1fa187" d="M473.1 139.4h0M581.8 192.6h0M468.0 112.3h0M489.2 138.9h0M534.9 162.5h0M565.7 189.9h0M581.2 197.4h0M498.5 135.2h0M592.0 211.8h0"/>
<path class="p" stroke="#22a884" d="M528.9 150.0h0M620.0 242.3h0M421.4 96.6h0M411.7 108.6h0M598.3 204.4h0M538.4 161.6h0M536.6 162.8h0M572.2 177.7h0M629.6 275.2h0M563.1 187.1h0M616.8 245.0h0M454.1 100.8h0"/>
<path class="p" stroke="#28ae80" d="M639.0 274.0h0M612.5 237.8h0M584.7 201.2h0M577.4 193.5h0M610.3 232.9h0M583.7 200.8h0M610.2 233.5h0M473.5 128.3h0M656.6 314.6h0M631.7 258.8h0M404.4 104.4h0M648.3 298.1h0"/>
<path class="p" stroke="#32b67a" d="M558.2 179.1h0M503.6 144.8h0M571.7 143.0h0M570.7 174.5h0M642.6 289.6h0M601.6 219.5h0M528.1 153.0h0M484.8 115.8h0M543.4 167.9h0"/>
<path class="p" stroke="#3dbc74" d="M629.2 256.7h0M570.1 173.4h0M362.5 70.8h0M661.6 328.7h0M493.8 123.6h0M537.2 153.9h0M537.1 143.1h0"/>
<path class="p" stroke="#4ac16d" d="M435.2 91.8h0M613.8 226.9h0M627.3 248.8h0M478.1 119.1h0M528.5 142.7h0M540.3 149.5h0M639.1 254.7h0M604.3 211.7h0M674.1 339.7h0M452.9 109.1h0M414.8 101.0h0M451.4 117.7h0"/>
<path class="p" stroke="#5ac864" d="M527.8 134.9h0M447.9 99.6h0M535.3 142.5h0M593.9 179.8h0M534.3 139.3h0M613.6 227.3h0M476.1 111.8h0M458.6 111.1h0M601.9 208.9h0M543.4 132.8h0M583.2 186.9h0"/>
<path class="p" stroke="#69cd5b" d="M639.4 244.2h0M518.1 136.3h0M517.8 135.3h0M608.5 213.3h0M556.4 159.9h0M659.8 243.4h0M639.2 245.3h0"/>
<path class="p" stroke="#7ad151" d="M370.7 75.2h0M579.3 181.1h0M593.9 185.5h0M650.4 262.8h0M539.0 145.2h0M553.2 160.8h0M573.8 176.9h0M454.1 100.2h0M491.7 128.7h0M391.5 79.5h0M597.0 198.7h0M624.3 228.6h0M596.5 204.4h0M569.7 163.0h0"/>
<path class="p" stroke="#8ed645" d="M655.8 284.9h0M509.9 138.5h0M547.5 151.2h0M564.0 165.1h0M600.0 195.3h0"/>
<path class="p" stroke="#a0da39" d="M442.4 94.0h0M418.6 85.6h0M470.6 108.6h0M639.8 253.5h0M585.3 155.9h0M477.2 105.7h0M414.0 93.8h0M596.9 201.2h0M477.3 113.8h0M464.1 96.2h0M440.5 96.8h0M540.7 144.7h0M459.7 89.1h0M537.0 131.9h0M440.5 93.3h0"/>
<path class="p" stroke="#b2dd2d" d="M614.8 198.8h0M522.2 128.9h0M675.5 339.3h0M498.2 114.9h0M552.6 153.3h0M559.5 145.7h0M569.8 170.8h0M492.5 112.6h0M569.9 164.4h0M566.3 150.6h0M562.6 163.0h0M629.4 212.5h0M540.5 144.5h0"/>
<path class="p" stroke="#c8e020" d="M604.9 188.4h0M540.0 123.4h0M469.5 93.2h0M597.8 191.7h0M560.4 155.0h0M467.4 96.6h0M585.5 181.7h0M656.8 241.1h0M666.3 295.8h0"/>
<path class="p" stroke="#dae319" d="M537.4 124.2h0M535.4 131.3h0M567.7 152.7h0M623.9 217.8h0M383.3 78.3h0M614.1 204.7h0M455.2 99.3h0M641.0 240.7h0M662.3 269.5h0M655.6 245.0h0M604.5 188.5h0"/>
<path class="p" stroke="#ece51b" d="M602.8 186.1h0M615.6 205.4h0M577.5 170.3h0M571.2 160.3h0M630.1 192.0h0M455.5 98.4h0M581.0 175.0h0M613.7 196.7h0M574.6 160.7h0M541.9 138.8h0M640.7 235.8h0"/>
<path class="p" stroke="#fde725" d="M612.1 129.2h0M426.2 67.6h0M616.1 168.3h0M558.0 131.5h0M585.6 129.2h0M560.3 102.4h0M442.4 32.6h0M543.4 104.5h0M605.2 127.4h0M699.5 251.7h0M507.5 75.5h0M702.9 254.7h0M493.6 94.6h0M692.4 311.4h0M538.0 118.3h0M516.5 100.3h0M518.7 96.4h0M526.1 118.5h0M525.3 122.9h0M499.9 92.8h0M669.5 234.1h0M630.4 137.0h0M645.6 223.3h0M571.6 146.0h0M559.0 125.6h0M655.2 155.2h0M632.0 171.1h0M617.6 185.3h0M547.6 112.2h0M584.7 118.6h0M565.1 119.2h0M590.9 155.3h0M634.6 140.9h0M437.3 67.9h0M721.3 320.4h0M561.0 129.3h0M722.0 290.9h0M579.7 151.8h0M538.7 122.2h0M642.0 188.9h0M482.4 99.1h0M414.7 58.4h0M591.8 114.9h0M573.4 139.3h0M550.6 107.6h0M658.1 141.0h0M581.4 129.6h0M657.7 227.3h0M469.3 98.2h0M478.0 91.1h0M420.6 65.8h0M693.0 348.4h0M575.3 142.0h0M527.5 127.1h0M647.2 177.6h0M606.4 166.1h0M617.0 175.6h0M718.2 210.3h0M549.3 111.2h0M610.8 162.7h0M511.8 95.9h0M570.1 142.4h0M476.3 93.3h0M570.4 140.9h0M608.5 152.0h0M551.8 140.4h0M494.5 117.7h0M470.4 91.9h0M649.8 145.2h0M605.4 189.5h0M568.1 148.4h0M569.6 163.5h0M607.3 165.6h0M426.4 82.7h0M491.9 94.3h0M713.4 304.2h0M578.0 114.3h0M641.9 174.6h0M669.1 156.6h0M604.1 153.1h0M530.2 131.7h0M563.3 153.8h0M550.3 140.1h0M621.7 177.8h0M571.9 140.4h0M544.2 110.6h0M453.6 94.2h0M666.0 213.4h0M636.6 150.7h0M501.6 102.3h0M619.2 113.4h0M578.0 151.1h0M502.4 101.0h0M613.2 156.3h0M519.2 104.2h0M569.2 141.3h0M654.2 226.7h0M667.7 295.7h0M594.9 173.9h0M588.1 159.6h0M608.0 166.4h0M727.2 182.3h0M485.1 96.7h0M668.9 149.1h0M636.1 160.3h0M514.8 110.0h0M623.7 198.3h0M527.4 98.4h0M479.0 66.5h0M497.2 96.1h0M584.5 159.3h0M477.4 91.1h0M473.9 89.6h0M533.4 132.7h0M502.5 84.3h0M482.5 103.8h0M683.2 243.4h0M475.4 93.0h0M691.2 134.5h0M753.5 261.3h0M546.7 115.7h0M636.1 132.1h0M569.1 149.9h0M554.6 63.6h0M573.6 154.5h0M553.1 119.8h0M633.2 143.7h0M551.3 102.8h0M563.6 88.6h0M562.0 111.3h0M580.7 121.0h0M573.2 152.6h0M484.3 96.4h0M498.7 113.1h0M543.9 103.3h0M775.3 236.9h0M556.5 106.6h0M537.9 88.1h0M647.0 113.0h0M590.3 171.2h0M544.2 115.8h0M636.3 204.5h0M657.3 245.3h0M607.5 185.5h0M648.7 192.3h0M634.2 182.3h0M611.8 131.0h0M692.5 357.3h0M631.4 143.6h0M384.2 42.9h0M571.1 106.4h0M590.6 154.7h0M585.8 124.2h0M575.1 97.9h0M601.8 112.2h0M572.4 112.2h0M481.3 97.7h0M652.2 211.7h0M661.9 125.5h0M601.3 117.3h0M546.4 111.7h0M663.5 206.3h0M561.1 131.9h0M503.6 109.2h0M486.0 80.8h0M539.7 127.8h0M669.5 206.0h0M681.7 284.5h0M723.4 276.2h0M634.4 153.6h0M572.5 145.0h0M626.8 167.3h0M495.2 106.6h0M687.0 275.2h0M543.5 138.0h0M671.7 254.4h0M546.1 137.5h0M513.5 107.3h0M476.8 95.6h0M494.2 81.7h0M550.0 134.2h0M600.3 139.3h0M582.9 152.1h0M634.8 162.2h0M665.0 248.6h0M601.7 174.3h0M671.0 237.0h0M454.0 86.1h0M626.8 114.9h0M631.4 197.2h0M608.9 172.8h0M566.1 119.1h0M549.5 123.8h0M432.6 70.1h0M707.8 241.0h0M550.4 146.2h0M591.2 119.0h0M487.9 76.1h0M519.2 122.7h0M492.6 99.2h0M622.6 192.2h0M663.7 193.4h0M516.1 106.8h0M577.2 167.8h0M469.5 88.2h0M400.4 73.8h0M605.6 161.5h0M496.8 81.0h0M525.6 93.1h0M486.6 101.5h0M613.3 150.9h0M661.7 208.8h0M418.8 51.9h0M486.7 89.3h0M504.1 89.8h0M633.3 110.7h0M623.0 173.9h0M525.1 92.4h0M506.5 95.6h0M627.7 97.9h0M575.1 139.6h0M639.7 224.3h0M575.0 127.6h0M655.9 232.1h0M642.6 214.6h0M618.3 193.6h0M614.5 159.9h0M616.5 171.5h0M670.0 230.5h0M564.3 125.5h0M639.1 161.9h0M489.5 108.5h0M574.8 130.4h0M617.8 165.7h0M550.6 84.9h0M662.0 230.1h0M475.2 92.9h0M535.7 108.6h0M705.2 274.3h0M660.6 244.4h0M460.4 99.5h0M583.2 139.7h0M670.5 200.0h0M682.7 302.4h0M549.2 104.0h0M616.3 163.8h0M701.9 126.1h0M497.0 90.3h0M578.6 134.1h0M633.4 200.3h0M591.2 149.9h0M474.6 99.1h0M490.6 98.5h0M699.1 347.4h0M636.8 202.2h0M685.8 230.2h0M560.7 156.7h0M510.1 93.1h0M620.8 175.0h0M537.5 132.6h0M561.8 129.7h0M657.5 232.0h0M477.0 88.9h0M571.2 127.7h0M726.6 331.6h0M498.2 100.4h0M608.2 169.7h0M733.3 349.6h0M580.9 138.4h0M394.7 53.1h0M584.6 157.2h0M661.3 251.1h0M618.4 164.2h0M701.1 247.1h0M662.7 247.8h0M725.7 292.3h0M636.8 229.8h0M654.3 198.0h0M692.4 274.5h0M549.7 142.2h0M620.2 161.6h0M529.1 128.3h0M645.7 169.5h0M670.6 255.0h0M381.0 69.4h0M449.0 82.7h0M655.4 208.7h0M714.7 296.1h0M556.2 136.7h0M548.1 96.0h0M552.2 116.0h0M678.8 209.1h0M595.7 100.1h0M696.4 270.5h0M585.9 168.9h0M448.3 95.8h0M681.2 297.4h0M454.5 81.8h0M548.5 104.8h0M478.7 100.1h0M542.6 117.7h0M662.2 242.7h0M563.1 148.8h0M518.6 104.1h0M642.1 179.4h0M607.7 190.5h0M490.3 110.9h0M544.4 99.9h0M518.2 113.7h0M452.4 94.0h0M594.8 145.7h0M635.3 196.6h0M665.7 170.4h0M595.9 129.2h0M532.1 131.7h0M662.1 193.8h0M584.9 156.5h0M393.3 71.6h0M594.6 167.3h0M568.7 154.3h0M533.5 104.2h0M672.7 262.9h0M618.7 159.3h0M578.9 135.8h0M434.6 86.4h0M619.7 167.3h0M620.5 168.5h0M417.0 80.0h0M425.7 77.1h0M621.6 144.8h0M559.0 137.2h0M563.6 125.7h0M615.8 186.7h0M568.7 116.7h0M620.6 82.8h0M672.2 159.3h0M709.2 328.9h0M581.4 128.2h0M566.0 95.0h0M577.9 142.0h0M496.9 109.5h0M611.4 182.7h0M517.0 109.3h0M463.3 84.8h0M661.0 206.8h0M683.9 243.2h0M588.1 118.3h0M637.4 207.0h0M625.1 150.2h0M532.4 120.8h0M600.8 172.6h0M678.4 146.2h0M573.1 133.6h0M651.6 229.5h0M619.1 151.1h0M620.9 160.2h0M533.7 119.2h0M625.0 168.9h0M554.1 85.7h0M597.6 180.6h0M562.0 139.7h0M482.3 51.3h0M598.7 140.7h0M438.8 96.0h0M657.3 186.4h0M582.8 142.3h0M605.3 147.5h0M493.3 95.4h0M549.6 104.4h0M697.6 210.3h0M660.2 226.0h0M596.5 168.7h0M523.1 96.0h0M600.9 153.9h0M472.9 95.6h0M421.4 66.2h0M602.5 140.0h0M699.3 361.9h0M502.4 114.5h0M706.9 231.7h0M496.6 87.5h0M617.5 115.8h0M550.8 107.7h0M511.9 93.5h0M588.8 150.7h0M582.2 130.5h0M627.8 134.6h0M534.3 97.2h0M580.3 143.0h0"/>
<path class="p" stroke="#440154" d="M526.6 376.2h0M357.4 154.6h0M485.3 240.6h0M488.3 246.4h0M483.0 250.1h0M504.1 266.0h0M387.1 181.3h0M494.4 242.8h0M456.7 224.6h0M389.4 166.2h0M325.8 140.1h0M537.7 259.0h0M361.9 173.1h0M548.9 331.8h0M480.5 245.2h0M386.9 190.1h0M534.4 225.4h0M210.4 36.8h0M280.1 77.4h0M300.8 85.1h0M267.3 101.8h0M297.3 107.8h0M262.1 109.9h0M248.4 132.3h0M236.5 140.0h0M263.1 147.9h0M287.9 162.6h0M280.5 172.8h0M307.1 165.8h0M498.7 25.0h0M404.6 49.5h0M395.2 83.1h0M404.6 73.7h0M344.8 74.7h0M352.0 73.7h0M413.0 111.5h0M383.6 109.4h0M362.6 105.2h0M458.2 126.2h0M484.4 173.4h0M497.1 393.3h0M520.4 392.7h0M524.1 417.7h0M519.7 429.9h0M553.4 437.6h0M540.1 452.7h0M563.6 513.6h0"/>
<path class="p" stroke="#460b5e" d="M423.3 176.3h0M444.9 217.7h0M561.3 263.2h0M469.8 190.7h0M523.1 309.0h0M519.9 316.3h0M513.7 249.8h0M396.3 163.2h0M539.0 332.1h0M358.9 151.1h0M430.8 166.5h0M548.1 240.7h0M334.4 148.6h0M375.7 136.2h0M486.9 232.8h0M402.6 178.7h0M518.5 290.3h0M386.1 173.7h0M452.1 214.3h0M350.7 147.0h0M521.9 250.3h0M498.6 271.3h0M494.2 223.7h0M431.8 203.2h0M473.0 182.2h0M516.3 312.4h0M530.6 316.2h0M500.1 256.7h0M295.9 127.4h0M534.1 416.6h0M526.3 429.9h0M565.5 429.9h0M560.0 446.5h0M562.9 473.1h0M556.7 504.1h0"/>
<path class="p" stroke="#481668" d="M459.3 207.2h0M340.6 133.3h0M409.1 142.4h0M516.2 244.5h0M524.7 253.7h0M371.4 163.9h0M391.0 166.4h0M399.7 173.3h0M500.9 184.7h0M524.3 271.2h0M487.9 222.6h0M415.1 187.1h0M450.6 161.0h0M383.9 156.8h0M537.5 286.9h0M468.2 168.3h0M486.4 221.5h0M517.1 269.8h0M478.1 204.3h0M456.2 206.9h0M350.7 146.0h0M467.8 201.8h0M492.9 222.2h0M252.3 101.5h0M291.0 103.6h0M205.1 121.8h0M274.5 130.2h0M300.1 133.7h0M562.9 386.7h0M576.2 392.2h0M536.3 408.8h0M557.4 404.4h0M562.9 416.6h0M559.6 456.0h0M567.3 462.0h0M567.3 468.6h0M581.3 509.2h0"/>
<path class="p" stroke="#481f70" d="M530.6 265.6h0M509.3 227.0h0M474.5 200.8h0M429.2 165.3h0M522.6 244.1h0M574.3 349.5h0M553.5 260.9h0M538.7 274.9h0M436.7 170.9h0M481.1 198.6h0M475.9 200.6h0M538.5 273.3h0M419.6 182.4h0M365.8 149.2h0M518.6 236.1h0M354.2 100.1h0M536.0 263.6h0M420.6 168.8h0M450.6 175.5h0M405.4 169.6h0M328.2 137.9h0M402.4 172.5h0M447.0 172.6h0M564.6 273.7h0M527.4 272.9h0M328.2 132.2h0M416.0 163.3h0M387.0 152.0h0M361.0 147.1h0M553.6 275.3h0M326.6 134.3h0M409.8 163.2h0M546.9 262.7h0M442.2 179.8h0M559.6 393.3h0M567.3 405.5h0M571.7 404.4h0M576.2 444.7h0M591.7 506.3h0M563.6 615.5h0"/>
<path class="p" stroke="#482979" d="M570.3 300.4h0M391.3 142.6h0M505.0 184.1h0M333.8 119.5h0M443.6 180.0h0M501.6 197.8h0M384.5 130.7h0M468.8 173.0h0M543.4 266.4h0M540.8 268.6h0M518.8 224.1h0M372.6 111.2h0M544.4 239.2h0M497.1 200.9h0M423.4 166.8h0M438.0 165.7h0M343.4 200.4h0M545.8 244.3h0M542.4 222.1h0M522.7 222.2h0M553.4 266.5h0M494.6 192.6h0M505.2 209.7h0M458.2 179.1h0M504.4 212.0h0M554.0 305.0h0M457.4 173.2h0M277.0 90.4h0M214.6 105.7h0M217.7 102.9h0M220.4 100.4h0M298.7 96.7h0M231.6 119.7h0M260.0 124.2h0M274.9 119.0h0M284.0 117.6h0M284.7 127.4h0M519.7 409.9h0M583.9 456.5h0M592.8 456.5h0"/>
<path class="p" stroke="#46327e" d="M544.7 270.9h0M425.8 160.1h0M420.6 159.4h0M377.9 117.4h0M519.9 222.4h0M531.8 208.2h0M561.8 306.7h0M474.1 160.5h0M499.0 203.0h0M549.1 267.0h0M535.2 226.6h0M451.2 163.1h0M437.9 176.0h0M338.2 130.7h0M528.7 207.4h0M551.2 218.5h0M436.7 164.8h0M430.2 169.2h0M556.2 225.1h0M503.7 193.8h0M517.0 191.6h0M460.5 181.2h0M648.6 262.6h0M497.7 174.5h0M357.1 140.9h0M525.6 197.2h0M291.7 116.2h0M593.9 390.0h0M585.0 412.2h0M587.3 460.9h0M597.2 468.0h0"/>
<path class="p" stroke="#443a83" d="M559.4 276.9h0M383.4 131.3h0M552.9 229.0h0M577.2 318.5h0M509.9 198.4h0M403.5 132.2h0M558.8 239.6h0M377.4 127.0h0M392.4 136.0h0M520.3 191.7h0M535.5 212.5h0M420.4 147.4h0M491.0 175.7h0M455.4 170.6h0M411.4 133.4h0M572.5 283.2h0M375.5 123.0h0M585.3 272.4h0M556.4 248.8h0M574.9 324.2h0M268.0 84.8h0M275.6 100.8h0M280.5 101.5h0M298.7 120.4h0M462.4 110.4h0M595.0 409.9h0M597.2 411.1h0M595.0 425.5h0"/>
<path class="p" stroke="#414487" d="M595.9 372.9h0M560.3 232.1h0M491.8 184.7h0M562.7 241.2h0M523.1 179.0h0M537.5 196.2h0M568.3 249.9h0M518.2 194.9h0M404.7 123.1h0M519.6 198.4h0M506.0 185.5h0M486.5 149.9h0M575.0 272.3h0M561.7 229.1h0M597.5 359.1h0M561.0 250.1h0M552.9 224.8h0M440.3 127.4h0M395.8 101.1h0M574.4 245.9h0M354.0 120.4h0M353.8 104.6h0M456.8 164.6h0M497.0 182.6h0M504.2 206.7h0M288.2 90.4h0M293.1 91.1h0M287.5 99.4h0M560.7 409.9h0M602.8 435.4h0M568.0 534.4h0"/>
<path class="p" stroke="#3e4c8a" d="M431.2 136.7h0M417.5 147.0h0M551.9 211.2h0M583.1 262.3h0M541.1 208.2h0M501.1 178.3h0M565.7 234.6h0M493.1 173.9h0M416.9 142.4h0M512.0 185.4h0M347.8 110.1h0M551.9 218.2h0M491.8 170.8h0M481.5 159.4h0M532.8 195.6h0M486.9 150.3h0M535.9 205.4h0M431.7 147.9h0M514.3 184.3h0M241.8 87.3h0M612.7 412.2h0M617.2 416.6h0M602.8 449.8h0M616.0 472.0h0M611.6 473.1h0"/>
<path class="p" stroke="#3a538b" d="M487.3 171.5h0M394.3 126.3h0M510.1 176.6h0M485.8 169.0h0M487.3 157.3h0M510.9 174.6h0M408.3 134.7h0M524.9 173.0h0M592.8 257.6h0M361.5 108.4h0M279.1 110.6h0M606.1 416.6h0M612.7 448.7h0"/>
<path class="p" stroke="#365c8d" d="M624.6 368.6h0M542.7 184.4h0M512.4 181.9h0M477.8 135.2h0M440.4 141.7h0M562.0 216.8h0M624.7 288.8h0M575.4 232.5h0M597.8 251.7h0M443.8 138.3h0M605.5 351.3h0M606.1 395.6h0M617.2 394.4h0M582.8 421.0h0M621.1 486.8h0"/>
<path class="p" stroke="#33638d" d="M409.1 125.0h0M534.5 179.8h0M616.2 299.5h0M577.9 234.5h0M565.3 204.5h0M553.0 166.5h0M409.2 140.3h0M605.5 259.8h0M352.2 97.8h0M483.8 159.1h0M532.8 160.9h0M544.4 198.5h0M559.6 205.6h0M435.9 120.2h0"/>
<path class="p" stroke="#306a8e" d="M555.2 183.3h0M503.7 163.5h0M406.2 102.1h0M483.1 142.1h0M552.3 200.4h0M516.7 166.5h0M548.6 192.2h0M385.2 103.5h0M573.2 220.6h0M568.4 213.6h0M627.1 400.0h0M632.7 398.9h0M608.3 423.2h0M619.4 462.0h0M628.2 465.3h0"/>
<path class="p" stroke="#2c718e" d="M397.6 125.4h0M382.4 95.3h0M556.0 202.3h0M526.2 168.4h0M547.9 192.9h0M628.0 289.4h0M588.9 222.9h0M565.5 198.7h0M617.2 317.8h0M480.8 137.5h0M454.5 141.5h0M623.9 303.8h0M632.7 465.8h0"/>
<path class="p" stroke="#2a788e" d="M544.5 180.4h0M446.8 136.4h0M618.9 287.2h0M415.1 124.9h0M638.9 341.0h0M540.7 181.0h0M262.8 86.2h0M243.1 110.2h0M619.4 439.8h0M623.8 439.8h0"/>
<path class="p" stroke="#277f8e" d="M491.8 147.0h0M595.9 246.1h0M534.9 158.7h0M375.7 86.7h0M492.4 153.1h0M603.9 259.6h0M542.1 175.7h0M635.7 356.1h0M508.7 133.8h0M629.9 305.7h0M421.5 120.5h0M515.4 162.9h0M514.1 142.8h0"/>
<path class="p" stroke="#24868e" d="M529.2 158.9h0M411.7 92.9h0M605.1 240.5h0M508.3 159.9h0M566.7 201.4h0M451.0 122.6h0M650.2 212.1h0M421.6 121.9h0M606.4 233.2h0M557.6 183.9h0M524.6 161.0h0M551.9 186.3h0M569.1 185.7h0M619.9 281.0h0M398.8 115.2h0M595.5 232.8h0M576.9 188.2h0"/>
<path class="p" stroke="#228d8d" d="M468.4 122.0h0M429.2 127.7h0M409.6 108.4h0M589.5 232.9h0M601.3 240.4h0M596.8 233.4h0M538.7 167.1h0M485.9 130.3h0M572.6 199.2h0M459.5 110.3h0M492.5 136.7h0M641.5 438.7h0"/>
<path class="p" stroke="#20938c" d="M484.5 107.1h0M617.9 250.7h0M615.2 231.3h0M446.4 97.6h0M558.9 187.1h0M526.9 159.1h0M518.3 160.9h0M518.5 143.1h0M642.6 390.0h0M648.2 391.1h0M637.1 421.5h0M634.9 444.3h0M643.7 460.9h0M648.2 460.9h0M651.5 473.1h0M653.7 628.1h0"/>
<path class="p" stroke="#1f9a8a" d="M488.0 134.1h0M497.2 138.1h0M484.1 135.5h0M541.9 171.2h0M599.5 218.2h0M551.4 173.6h0M514.8 130.3h0M519.3 132.7h0M579.7 200.3h0M437.0 113.8h0M651.5 398.9h0M654.8 404.4h0M654.1 504.5h0"/>
<path class="p" stroke="#1fa187" d="M444.3 100.7h0M543.3 166.8h0M457.2 106.1h0M548.4 171.7h0M617.7 242.2h0M502.6 132.7h0M558.9 188.0h0M642.4 286.2h0M594.7 211.6h0M414.5 118.8h0M531.5 148.3h0M535.1 247.3h0M550.4 176.8h0"/>
<path class="p" stroke="#22a884" d="M613.3 247.6h0M626.0 260.8h0M626.5 273.1h0M661.2 326.2h0M622.9 232.2h0M627.4 267.6h0M562.9 179.8h0M519.6 145.8h0M597.2 215.1h0M552.6 176.0h0M657.0 406.6h0M662.6 501.9h0"/>
<path class="p" stroke="#28ae80" d="M455.9 113.7h0M529.9 141.7h0M472.7 122.9h0M553.2 161.9h0M462.9 116.6h0M498.6 227.7h0M666.2 382.3h0M499.2 135.1h0M556.2 176.3h0"/>
<path class="p" stroke="#32b67a" d="M414.1 95.3h0M494.4 122.3h0M546.8 165.8h0M529.5 159.2h0M444.0 105.6h0M464.1 111.6h0M592.3 205.5h0M568.8 181.0h0M522.4 137.7h0M584.5 202.1h0M458.4 113.1h0M664.8 411.1h0M660.3 416.6h0M668.1 608.2h0"/>
<path class="p" stroke="#3dbc74" d="M584.2 191.9h0M555.9 175.7h0M580.2 192.8h0M588.0 193.5h0M540.9 153.5h0M643.9 260.4h0M492.3 130.9h0M511.3 137.4h0M585.6 195.8h0M571.9 153.8h0M493.4 117.0h0M533.0 150.9h0M582.6 170.2h0"/>
<path class="p" stroke="#4ac16d" d="M605.4 194.3h0M638.8 252.3h0M598.4 208.4h0M581.1 191.6h0M565.6 167.4h0M532.9 149.7h0"/>
<path class="p" stroke="#5ac864" d="M586.6 170.2h0M646.1 266.0h0M627.2 220.0h0M665.8 319.6h0M482.5 120.2h0M646.4 263.9h0M553.9 163.7h0M471.8 113.6h0"/>
<path class="p" stroke="#69cd5b" d="M489.4 120.8h0M514.2 128.8h0M598.3 195.8h0M544.2 147.2h0M600.7 132.1h0M587.9 188.5h0M677.3 347.5h0M491.3 114.1h0M673.6 424.3h0M669.2 443.2h0M670.3 467.1h0"/>
<path class="p" stroke="#7ad151" d="M600.8 181.3h0M646.3 259.6h0M424.9 91.0h0M502.9 124.3h0M458.7 108.6h0M533.7 139.5h0M590.2 183.9h0M458.1 102.4h0M630.9 211.9h0M673.1 310.9h0M641.5 250.2h0M670.3 436.5h0"/>
<path class="p" stroke="#8ed645" d="M569.9 171.2h0M517.1 128.8h0M471.8 97.2h0M611.5 218.2h0M659.6 301.6h0M472.9 112.8h0M541.1 148.7h0M469.0 103.4h0M637.5 213.5h0M452.4 99.8h0M564.4 159.3h0M678.7 492.3h0"/>
<path class="p" stroke="#a0da39" d="M508.9 128.3h0M551.2 152.2h0M556.1 158.2h0M526.8 143.6h0M601.6 193.7h0M636.2 231.8h0M626.8 215.4h0M453.5 101.7h0M496.5 118.9h0M413.0 157.2h0"/>
<path class="p" stroke="#b2dd2d" d="M632.8 236.7h0M491.3 114.0h0M487.9 118.2h0M541.3 123.7h0M506.1 121.0h0M557.0 160.8h0M536.3 139.4h0M598.8 195.0h0M516.6 130.7h0M516.6 119.0h0M674.7 469.7h0"/>
<path class="p" stroke="#c8e020" d="M586.2 182.0h0M643.6 245.6h0M566.0 163.3h0M470.2 105.6h0M564.6 159.1h0M568.2 164.7h0M684.1 338.3h0M528.8 129.1h0M682.9 620.4h0"/>
<path class="p" stroke="#dae319" d="M692.3 319.2h0M550.9 135.9h0M396.0 74.6h0M400.4 74.0h0M518.2 109.3h0M663.0 278.7h0M527.8 121.3h0M599.2 187.0h0M605.5 198.8h0M579.5 443.2h0"/>
<path class="p" stroke="#ece51b" d="M530.8 135.0h0M656.1 251.7h0M505.9 114.1h0M552.5 136.8h0M374.4 63.2h0M579.9 148.3h0M500.0 107.4h0M491.5 108.8h0M577.7 168.7h0M569.0 163.9h0M404.0 71.4h0M622.1 215.7h0M567.7 153.8h0M535.4 139.8h0M519.2 104.2h0M511.1 120.4h0M576.8 162.9h0M621.4 213.3h0M539.5 118.1h0"/>
<path class="p" stroke="#fde725" d="M589.0 163.6h0M360.5 63.1h0M615.9 159.6h0M626.2 197.3h0M630.3 200.8h0M562.0 119.3h0M557.5 109.0h0M476.0 74.5h0M677.8 243.1h0M607.6 171.0h0M703.7 344.5h0M754.4 276.7h0M497.5 91.6h0M629.5 149.7h0M593.6 208.3h0M682.1 239.3h0M665.5 231.1h0M589.3 173.6h0M635.8 127.2h0M554.2 133.6h0M623.6 193.1h0M564.5 98.6h0M623.4 190.5h0M594.2 155.1h0M542.1 120.0h0M619.6 180.8h0M649.6 118.4h0M687.2 291.2h0M671.0 191.3h0M743.5 340.4h0M512.1 105.1h0M400.2 52.8h0M393.8 75.1h0M644.4 172.7h0M569.7 144.4h0M692.0 245.6h0M559.0 133.3h0M563.1 135.6h0M499.0 94.5h0M634.0 81.6h0M510.8 96.4h0M606.4 142.8h0M493.9 94.6h0M589.2 131.0h0M673.0 260.7h0M659.6 259.4h0M662.8 221.8h0M562.5 113.5h0M622.5 204.5h0M547.8 82.5h0M514.3 115.4h0M452.4 76.8h0M530.3 48.0h0M623.1 127.3h0M627.2 136.1h0M524.7 121.6h0M547.5 142.6h0M675.4 208.0h0M733.5 240.0h0M638.7 113.2h0M754.6 241.0h0M373.5 57.4h0M511.1 106.7h0M602.9 172.3h0M388.1 68.2h0M644.9 201.1h0M679.5 300.1h0M622.9 163.7h0M414.2 61.0h0M681.7 276.9h0M687.8 258.4h0M514.3 107.8h0M677.8 197.9h0M635.7 182.7h0M518.2 110.5h0M684.3 283.4h0M494.4 76.0h0M600.6 168.3h0M690.1 252.2h0M590.0 163.5h0M673.7 177.6h0M522.2 117.6h0M632.7 131.6h0M702.9 255.0h0M407.9 53.2h0M529.9 83.6h0M512.5 105.6h0M683.3 298.1h0M404.2 63.2h0M699.4 348.7h0M607.8 139.8h0M577.0 165.8h0M566.6 129.5h0M506.3 72.3h0M592.2 154.5h0M621.3 173.8h0M432.4 24.1h0M600.3 145.9h0M686.4 236.7h0M536.0 110.0h0M544.0 136.9h0M560.1 127.5h0M557.3 136.2h0M652.8 243.0h0M675.4 259.3h0M623.2 159.8h0M600.5 164.1h0M681.4 226.9h0M706.3 225.9h0M672.9 266.4h0M411.4 50.4h0M653.6 240.9h0M468.9 86.5h0M651.1 171.4h0M583.0 145.5h0M646.7 190.1h0M467.9 108.1h0M598.7 130.2h0M544.4 124.2h0M728.7 330.5h0M696.2 218.7h0M534.6 106.7h0M554.4 92.6h0M580.3 100.0h0M606.4 137.3h0M671.8 191.5h0M521.7 114.7h0M437.7 44.4h0M436.9 45.7h0M518.5 119.7h0M498.0 78.0h0M658.6 214.2h0M606.4 137.8h0M676.3 220.9h0M639.1 155.7h0M560.2 151.7h0M460.9 71.8h0M620.4 177.8h0M689.8 217.6h0M433.3 59.0h0M756.8 183.4h0M394.6 72.5h0M757.2 358.9h0M549.1 114.8h0M686.5 238.3h0M639.3 197.6h0M524.9 127.3h0M341.5 20.6h0M453.9 77.0h0M646.0 169.8h0M723.0 290.0h0M649.1 177.4h0M557.8 109.7h0M495.7 80.4h0M556.5 126.5h0M665.5 248.2h0M501.1 104.8h0M461.3 84.7h0M576.5 132.4h0M710.3 284.7h0M573.3 121.4h0M605.6 148.6h0M590.1 116.0h0M536.5 118.1h0M500.6 55.8h0M567.3 152.9h0M600.3 104.0h0M549.6 111.6h0M463.3 88.0h0M677.0 197.2h0M670.4 225.2h0M614.3 172.4h0M609.7 153.9h0M662.6 240.6h0M631.9 166.7h0M552.2 130.9h0M616.7 112.9h0M765.8 372.9h0M641.6 115.6h0M713.2 362.5h0M708.5 262.4h0M491.6 91.4h0M664.8 137.6h0M649.1 199.3h0M513.2 103.6h0M538.7 109.5h0M671.0 250.0h0M683.8 265.5h0M437.9 70.2h0M612.8 151.5h0M573.6 139.7h0M627.3 144.7h0M364.4 43.5h0M725.1 342.5h0M640.9 187.2h0M583.0 121.0h0M606.5 116.3h0M518.6 112.1h0M576.7 155.4h0M584.3 134.3h0M601.5 188.5h0M543.8 100.8h0M544.5 116.4h0M711.8 306.4h0M618.8 188.7h0M559.4 149.1h0M667.2 246.4h0M604.3 112.8h0M570.8 70.4h0M671.1 130.4h0M504.7 104.5h0M676.0 273.3h0M499.0 106.3h0M500.0 85.3h0M627.5 157.7h0M531.6 122.9h0M527.3 86.1h0M491.6 67.7h0M515.7 113.8h0M562.2 102.1h0M706.2 296.5h0M382.5 28.9h0M477.3 129.6h0M520.5 115.2h0M413.4 66.3h0M659.4 231.9h0M609.4 167.3h0M437.0 76.8h0M497.0 107.2h0M569.4 123.5h0M607.8 136.0h0M556.1 150.3h0M604.9 141.8h0M575.3 143.8h0M622.4 137.9h0M713.7 305.5h0M612.6 181.3h0M609.7 139.3h0M620.8 128.9h0M596.5 161.9h0M590.9 136.5h0M571.0 141.6h0M525.2 101.2h0M622.5 196.3h0M705.2 325.5h0M428.1 76.6h0M479.0 103.1h0M512.5 103.8h0M609.1 151.0h0M467.4 95.8h0M566.9 74.0h0M558.2 110.7h0M584.8 151.3h0M717.5 328.5h0M635.2 188.1h0M656.0 201.7h0M565.8 99.5h0M610.2 186.4h0M456.5 61.5h0M560.8 115.2h0M615.0 176.7h0M601.2 146.5h0M725.2 219.0h0M675.1 248.2h0M522.6 111.7h0M636.0 188.0h0M425.6 61.5h0M483.6 77.6h0M682.7 330.9h0M516.7 115.9h0M545.7 116.5h0M509.0 112.4h0M493.2 110.5h0M603.2 122.5h0M527.1 110.7h0M760.9 303.0h0M436.8 69.5h0M611.2 136.0h0M506.6 108.7h0M630.0 203.3h0M677.3 224.5h0M589.0 109.2h0M673.3 190.9h0M595.4 172.4h0M654.1 199.1h0M597.8 166.8h0M677.2 259.7h0M608.3 134.5h0M617.5 168.1h0M483.4 88.4h0M670.6 262.4h0M482.3 100.5h0M690.7 230.1h0M594.8 150.6h0M622.5 134.9h0M701.9 154.5h0M651.7 180.2h0M594.4 156.1h0M510.1 100.8h0M649.5 100.2h0M611.4 151.4h0M700.8 376.5h0M603.8 176.6h0M603.3 177.5h0M552.6 129.6h0M688.6 250.5h0M533.1 118.9h0M524.6 93.6h0M469.9 76.3h0M624.3 202.5h0M705.8 317.6h0M601.6 186.5h0M535.4 98.7h0M471.0 76.0h0M506.9 91.2h0M555.5 125.7h0M451.0 72.0h0M634.9 170.8h0M692.0 292.9h0M606.9 143.6h0M496.6 112.0h0M600.0 135.1h0M477.6 98.3h0M498.3 111.3h0M613.1 156.1h0M578.6 123.8h0M685.4 331.5h0M555.2 118.6h0M651.6 216.9h0M286.5 62.8h0M348.0 79.0h0M428.8 103.0h0M482.3 126.2h0M443.5 152.4h0M777.7 342.4h0M740.0 360.8h0M832.5 286.0h0M778.5 227.5h0M681.4 397.8h0M693.6 397.8h0M722.4 399.3h0M725.7 401.1h0M683.6 411.1h0M632.7 429.9h0M710.2 430.3h0M719.0 425.5h0M727.9 425.0h0M723.5 433.9h0M693.6 474.6h0M699.1 476.0h0M706.9 477.5h0M688.0 492.3h0M692.5 497.4h0M709.5 506.3h0M632.7 563.2h0M754.5 618.1h0"/>
</g>
<rect x="138.7" y="17" width="374.6" height="622.8" fill="#00f" fill-opacity="0.05"/><rect x="513.3" y="17" width="374.7" height="622.8" fill="#f00" fill-opacity="0.05"/>
<line x1="513.3" y1="639.8" x2="513.3" y2="17" stroke="#000" stroke-width="4.6" stroke-dasharray="17.11 7.40"/>
<path class="k" d="M138.7 639.8v10.8M513.3 639.8v10.8M888 639.8v10.8M251.5 639.8v6.2M317.5 639.8v6.2M364.3 639.8v6.2M400.6 639.8v6.2M430.2 639.8v6.2M455.3 639.8v6.2M477 639.8v6.2M496.2 639.8v6.2M626.1 639.8v6.2M692.1 639.8v6.2M738.9 639.8v6.2M775.2 639.8v6.2M804.9 639.8v6.2M830 639.8v6.2M851.7 639.8v6.2M870.9 639.8v6.2M138.7 639.8h-10.8M138.7 484.1h-10.8M138.7 328.4h-10.8M138.7 172.7h-10.8M138.7 17h-10.8M138.7 592.9h-6.2M138.7 565.5h-6.2M138.7 546.1h-6.2M138.7 531h-6.2M138.7 518.6h-6.2M138.7 508.2h-6.2M138.7 499.2h-6.2M138.7 491.2h-6.2M138.7 437.2h-6.2M138.7 409.8h-6.2M138.7 390.4h-6.2M138.7 375.3h-6.2M138.7 362.9h-6.2M138.7 352.5h-6.2M138.7 343.5h-6.2M138.7 335.5h-6.2M138.7 281.5h-6.2M138.7 254.1h-6.2M138.7 234.7h-6.2M138.7 219.6h-6.2M138.7 207.2h-6.2M138.7 196.8h-6.2M138.7 187.8h-6.2M138.7 179.8h-6.2M138.7 125.8h-6.2M138.7 98.4h-6.2M138.7 79h-6.2M138.7 63.9h-6.2M138.7 51.5h-6.2M138.7 41.1h-6.2M138.7 32.1h-6.2M138.7 24.1h-6.2"/>
<rect class="k" x="138.7" y="17" width="749.3" height="622.8"/>
<text class="t" x="138.7" y="685.3" text-anchor="middle">10<tspan dy="-11.2" font-size="21.58">−1</tspan></text>
<text class="t" x="513.3" y="685.3" text-anchor="middle">10<tspan dy="-11.2" font-size="21.58">0</tspan></text>
<text class="t" x="888" y="685.3" text-anchor="middle">10<tspan dy="-11.2" font-size="21.58">1</tspan></text>
<text class="t" x="117.4" y="650.5" text-anchor="end">10<tspan dy="-11.2" font-size="21.58">−3</tspan></text>
<text class="t" x="117.4" y="494.8" text-anchor="end">10<tspan dy="-11.2" font-size="21.58">−2</tspan></text>
<text class="t" x="117.4" y="339.1" text-anchor="end">10<tspan dy="-11.2" font-size="21.58">−1</tspan></text>
<text class="t" x="117.4" y="183.4" text-anchor="end">10<tspan dy="-11.2" font-size="21.58">0</tspan></text>
<text class="t" x="117.4" y="27.7" text-anchor="end">10<tspan dy="-11.2" font-size="21.58">1</tspan></text>
<text class="t" x="513.3" y="728.3" text-anchor="middle"><tspan class="i">Z</tspan><tspan dy="4.2" font-size="21.58">rms</tspan><tspan dy="-4.2">/Δ</tspan><tspan class="i">Z</tspan><tspan dy="4.2" font-size="21.58">AB</tspan></text>
<text class="t" transform="translate(23.7 328.4) rotate(-90)" text-anchor="middle">significance of Δ<tspan class="i">Z</tspan><tspan dy="4.2" font-size="21.58">AB</tspan></text>
<text class="b" x="872.5" y="70.6" text-anchor="end" fill="#f00" style="fill:#f00">Hot filaments</text>
<text class="b" x="153.7" y="602.1" style="fill:#00f">Cold filaments</text>
<text class="b" x="864" y="620.7" text-anchor="end">Sample-1</text>
</g>
<g id="panel2">
<clipPath id="cp1"><rect x="1112.8" y="17.0" width="749.4" height="622.8"/></clipPath>
<g clip-path="url(#cp1)">
<path class="p" stroke="#440154" d="M1467.0 257.7h0M1423.8 201.1h0"/>
<path class="p" stroke="#460b5e" d="M1471.0 242.8h0M1373.2 175.2h0M1462.5 240.0h0M1476.5 282.3h0M1368.3 177.9h0M1459.3 190.8h0M1419.0 204.8h0M1358.2 182.2h0M1415.0 204.6h0"/>
<path class="p" stroke="#481668" d="M1362.3 164.2h0M1350.4 140.8h0M1428.7 198.4h0M1370.7 146.7h0M1516.4 290.3h0M1468.9 209.6h0M1488.3 230.5h0M1413.8 189.9h0M1375.1 171.7h0M1481.8 246.9h0"/>
<path class="p" stroke="#481f70" d="M1514.4 311.9h0M1526.5 309.0h0M1348.2 161.7h0M1425.3 178.5h0M1519.5 222.9h0M1416.1 192.1h0M1431.7 198.0h0M1319.2 143.3h0M1454.9 221.4h0M1444.0 203.2h0"/>
<path class="p" stroke="#482979" d="M1498.9 238.3h0M1363.7 149.9h0M1407.5 171.3h0M1516.3 280.5h0M1386.4 146.5h0M1495.6 235.2h0M1481.0 212.3h0M1406.8 174.4h0M1478.2 219.1h0M1416.5 175.1h0M1366.1 155.7h0M1399.8 176.1h0"/>
<path class="p" stroke="#46327e" d="M1412.9 164.5h0M1371.4 131.4h0M1508.5 230.6h0M1338.3 143.4h0M1427.0 178.0h0M1513.4 243.1h0M1472.3 188.0h0M1509.4 218.5h0M1508.8 214.0h0M1473.0 203.4h0M1371.4 156.6h0M1386.0 107.6h0M1506.2 230.3h0"/>
<path class="p" stroke="#443a83" d="M1382.5 146.0h0M1417.5 153.9h0M1503.5 212.2h0M1384.4 144.9h0M1363.6 104.0h0M1339.8 133.5h0M1484.2 195.4h0"/>
<path class="p" stroke="#414487" d="M1530.8 238.3h0M1470.0 184.8h0M1484.0 196.0h0M1340.1 126.4h0M1371.6 131.4h0M1423.4 166.1h0M1341.6 138.5h0M1401.7 147.0h0M1436.4 162.9h0M1513.8 203.5h0M1552.8 293.4h0"/>
<path class="p" stroke="#3e4c8a" d="M1433.9 169.4h0M1550.2 270.3h0M1488.5 182.8h0M1480.2 182.6h0"/>
<path class="p" stroke="#3a538b" d="M1415.1 151.9h0M1358.5 126.1h0M1413.1 139.5h0M1459.2 170.1h0M1457.5 155.5h0"/>
<path class="p" stroke="#365c8d" d="M1546.4 238.3h0M1558.2 232.1h0"/>
<path class="p" stroke="#33638d" d="M1513.1 195.7h0M1572.0 270.1h0M1410.0 133.7h0M1440.1 137.2h0M1444.1 140.2h0"/>
<path class="p" stroke="#306a8e" d="M1571.7 254.4h0M1575.9 279.2h0M1516.1 189.2h0M1558.5 232.7h0M1504.8 181.5h0"/>
<path class="p" stroke="#2c718e" d="M1519.5 192.2h0M1566.3 244.2h0M1373.1 127.3h0M1562.5 242.3h0M1526.3 196.0h0M1557.9 238.0h0M1549.1 217.7h0M1412.4 133.8h0"/>
<path class="p" stroke="#2a788e" d="M1422.8 134.9h0M1520.6 183.4h0M1514.6 183.4h0"/>
<path class="p" stroke="#277f8e" d="M1573.5 246.3h0"/>
<path class="p" stroke="#24868e" d="M1547.4 212.9h0M1428.4 124.6h0M1334.3 104.4h0"/>
<path class="p" stroke="#228d8d" d="M1493.6 153.7h0M1367.6 90.0h0M1458.5 137.6h0M1555.8 213.7h0"/>
<path class="p" stroke="#20938c" d="M1571.0 225.6h0M1505.5 156.2h0M1569.9 234.9h0"/>
<path class="p" stroke="#1f9a8a" d="M1430.5 112.4h0M1458.4 136.4h0M1477.1 146.0h0"/>
<path class="p" stroke="#1fa187" d="M1522.3 171.2h0M1543.0 195.0h0"/>
<path class="p" stroke="#22a884" d="M1563.7 210.0h0"/>
<path class="p" stroke="#28ae80" d="M1377.8 81.2h0M1428.7 119.2h0"/>
<path class="p" stroke="#32b67a" d="M1385.2 89.9h0M1533.6 170.9h0M1505.3 152.4h0"/>
<path class="p" stroke="#3dbc74" d="M1553.8 196.9h0M1521.9 167.8h0M1513.5 161.5h0M1407.4 87.2h0"/>
<path class="p" stroke="#4ac16d" d="M1397.5 88.6h0"/>
<path class="p" stroke="#5ac864" d="M1567.4 197.6h0"/>
<path class="p" stroke="#440154" d="M1399.5 215.6h0M1373.4 203.0h0M1396.1 183.1h0"/>
<path class="p" stroke="#460b5e" d="M1403.2 163.1h0M1461.9 223.5h0M1421.7 204.1h0M1458.2 231.5h0M1402.4 203.9h0M1324.5 157.6h0M1397.5 200.4h0M1507.5 315.8h0M1489.7 264.4h0M1412.7 206.0h0M1339.1 166.2h0M1488.1 251.2h0"/>
<path class="p" stroke="#481668" d="M1415.0 198.3h0M1429.6 204.4h0M1493.7 277.0h0M1474.4 245.8h0M1522.7 317.9h0M1501.6 305.8h0M1321.7 131.1h0M1509.9 287.5h0M1496.5 255.4h0M1384.9 181.0h0"/>
<path class="p" stroke="#481f70" d="M1410.0 180.5h0M1548.0 316.2h0M1343.3 154.4h0M1340.4 159.9h0M1382.6 176.5h0M1372.6 170.0h0M1428.6 182.0h0M1409.5 178.1h0M1506.7 265.2h0M1340.2 150.2h0M1330.4 148.2h0M1437.9 198.3h0M1362.2 161.9h0M1417.0 185.2h0M1387.6 174.1h0M1502.4 240.2h0M1382.3 141.6h0"/>
<path class="p" stroke="#482979" d="M1372.6 162.9h0M1371.3 145.8h0M1342.8 140.0h0M1376.4 156.3h0M1320.7 139.4h0M1438.6 177.8h0M1342.4 145.9h0M1506.6 240.8h0M1374.6 150.2h0M1418.2 178.4h0M1321.3 131.3h0M1528.9 296.5h0"/>
<path class="p" stroke="#46327e" d="M1320.1 122.0h0M1493.7 196.3h0M1495.6 205.6h0M1538.8 267.4h0M1465.8 192.1h0M1495.2 188.8h0M1530.9 238.5h0M1476.6 194.9h0M1533.9 279.7h0M1517.9 270.4h0M1520.0 246.3h0M1328.8 126.5h0M1319.7 134.2h0M1409.7 173.2h0M1559.0 282.5h0"/>
<path class="p" stroke="#443a83" d="M1416.2 158.2h0M1367.9 118.1h0M1501.1 224.0h0M1439.4 172.2h0M1364.4 141.9h0M1337.7 124.6h0M1450.1 185.6h0M1509.2 214.6h0M1508.3 217.2h0M1445.3 182.2h0M1496.5 202.6h0M1426.7 176.8h0"/>
<path class="p" stroke="#414487" d="M1357.8 119.1h0M1405.5 156.9h0M1425.2 162.1h0M1553.9 305.3h0M1341.7 109.8h0M1443.9 154.7h0M1471.7 179.3h0M1396.6 156.2h0"/>
<path class="p" stroke="#3e4c8a" d="M1521.4 212.1h0M1483.1 184.7h0M1388.6 134.6h0M1376.7 129.9h0M1524.4 222.9h0M1529.7 198.9h0M1348.5 124.8h0"/>
<path class="p" stroke="#3a538b" d="M1565.4 292.6h0M1548.9 239.9h0M1576.4 290.7h0M1556.1 236.2h0"/>
<path class="p" stroke="#365c8d" d="M1473.9 174.4h0M1531.7 210.1h0"/>
<path class="p" stroke="#33638d" d="M1445.0 153.9h0"/>
<path class="p" stroke="#306a8e" d="M1548.2 212.8h0M1542.8 208.6h0"/>
<path class="p" stroke="#2c718e" d="M1475.6 150.9h0M1435.3 147.4h0M1455.5 152.2h0M1417.1 124.5h0"/>
<path class="p" stroke="#2a788e" d="M1363.2 98.2h0M1560.6 227.8h0"/>
<path class="p" stroke="#24868e" d="M1550.8 208.6h0M1504.1 163.0h0M1525.3 192.7h0M1492.6 132.9h0M1573.4 245.4h0"/>
<path class="p" stroke="#228d8d" d="M1448.4 137.0h0M1533.7 190.9h0M1577.3 247.7h0M1552.6 216.1h0"/>
<path class="p" stroke="#20938c" d="M1558.8 222.0h0"/>
<path class="p" stroke="#1f9a8a" d="M1430.0 107.3h0M1519.8 178.0h0"/>
<path class="p" stroke="#1fa187" d="M1443.1 128.4h0"/>
<path class="p" stroke="#22a884" d="M1356.0 84.3h0M1576.0 225.9h0M1440.7 119.8h0"/>
<path class="p" stroke="#28ae80" d="M1530.7 173.7h0M1404.6 97.2h0"/>
<path class="p" stroke="#32b67a" d="M1408.8 115.5h0M1402.9 105.1h0M1582.0 215.3h0"/>
<path class="p" stroke="#3dbc74" d="M1479.3 133.3h0"/>
<path class="p" stroke="#4ac16d" d="M1392.5 97.4h0"/>
<path class="p" stroke="#440154" d="M1398.0 209.0h0"/>
<path class="p" stroke="#460b5e" d="M1491.9 297.7h0M1336.2 160.8h0M1347.7 180.9h0M1481.5 255.9h0M1452.0 231.9h0M1427.6 199.0h0M1493.7 255.5h0M1391.5 182.9h0M1505.8 284.9h0M1359.4 179.7h0M1394.6 206.3h0M1381.5 181.5h0M1326.2 142.0h0M1417.0 215.9h0M1380.9 187.7h0M1370.5 170.3h0"/>
<path class="p" stroke="#481668" d="M1506.2 308.1h0M1390.3 180.6h0M1395.7 197.4h0M1465.8 229.9h0M1353.3 169.1h0M1406.0 199.8h0M1516.4 208.4h0"/>
<path class="p" stroke="#481f70" d="M1447.5 201.1h0M1484.3 171.5h0M1504.3 258.9h0M1398.6 147.7h0M1358.5 167.1h0M1493.5 268.7h0M1328.1 137.1h0M1506.9 253.2h0M1381.7 141.6h0M1396.7 164.7h0M1393.0 172.6h0M1374.6 168.4h0"/>
<path class="p" stroke="#482979" d="M1524.3 289.0h0M1513.2 263.6h0M1375.7 157.7h0M1440.0 189.5h0M1528.0 245.1h0M1473.4 209.1h0M1427.5 181.0h0M1461.4 196.6h0M1528.9 315.5h0M1490.3 215.3h0"/>
<path class="p" stroke="#46327e" d="M1474.4 197.8h0M1522.5 274.3h0M1529.5 275.7h0M1360.3 147.5h0M1541.1 258.6h0M1540.5 292.1h0M1508.7 210.8h0M1409.5 172.1h0M1529.7 286.6h0M1529.6 255.0h0M1403.4 166.2h0M1454.8 180.4h0"/>
<path class="p" stroke="#443a83" d="M1497.3 211.2h0M1505.8 212.4h0M1340.7 113.9h0M1450.7 165.1h0M1321.6 130.5h0M1319.5 116.6h0"/>
<path class="p" stroke="#414487" d="M1483.4 190.9h0M1384.0 136.1h0M1339.3 105.0h0M1548.6 271.6h0M1512.7 201.4h0M1337.2 107.8h0M1319.7 107.5h0"/>
<path class="p" stroke="#3e4c8a" d="M1509.1 203.5h0M1502.4 192.5h0M1543.0 234.2h0"/>
<path class="p" stroke="#3a538b" d="M1349.8 117.4h0M1512.3 198.4h0M1439.5 153.8h0M1442.8 155.3h0M1391.8 140.0h0M1545.4 243.0h0M1533.1 223.1h0"/>
<path class="p" stroke="#365c8d" d="M1455.6 167.1h0M1557.7 197.8h0M1420.0 151.3h0"/>
<path class="p" stroke="#33638d" d="M1348.5 97.3h0M1529.1 211.5h0M1463.1 164.9h0M1476.2 166.3h0M1527.2 209.0h0M1579.1 295.0h0"/>
<path class="p" stroke="#306a8e" d="M1460.5 156.4h0M1507.0 190.3h0M1358.2 98.5h0M1563.6 253.6h0M1527.0 196.7h0"/>
<path class="p" stroke="#2c718e" d="M1537.6 206.0h0M1523.6 186.9h0M1538.2 201.6h0M1513.6 171.7h0M1533.1 200.7h0M1573.7 251.7h0M1425.2 130.4h0"/>
<path class="p" stroke="#2a788e" d="M1578.3 265.8h0M1414.8 134.3h0M1487.5 150.6h0M1431.2 135.1h0M1405.8 129.9h0M1486.5 155.9h0"/>
<path class="p" stroke="#277f8e" d="M1496.6 165.9h0M1442.6 137.8h0M1559.6 232.8h0M1420.6 117.8h0"/>
<path class="p" stroke="#24868e" d="M1473.2 147.7h0M1571.2 237.6h0"/>
<path class="p" stroke="#228d8d" d="M1488.2 154.8h0M1443.5 138.8h0"/>
<path class="p" stroke="#20938c" d="M1523.4 163.1h0M1431.9 130.9h0M1508.9 166.2h0"/>
<path class="p" stroke="#1f9a8a" d="M1467.3 130.9h0M1552.3 202.2h0M1498.5 148.2h0M1498.3 156.9h0M1581.9 241.6h0"/>
<path class="p" stroke="#1fa187" d="M1484.8 141.6h0M1451.3 137.6h0"/>
<path class="p" stroke="#22a884" d="M1497.3 141.2h0M1464.7 141.3h0"/>
<path class="p" stroke="#28ae80" d="M1472.2 138.5h0M1494.5 148.7h0M1460.8 119.3h0"/>
<path class="p" stroke="#3dbc74" d="M1468.2 124.5h0"/>
<path class="p" stroke="#4ac16d" d="M1440.5 101.8h0M1473.5 120.8h0"/>
<path class="p" stroke="#440154" d="M1323.0 167.7h0M1320.9 178.4h0M1461.2 254.7h0M1334.6 167.4h0"/>
<path class="p" stroke="#460b5e" d="M1337.0 167.2h0M1480.6 256.7h0M1320.6 140.3h0M1447.2 226.7h0M1360.9 177.4h0M1450.8 223.5h0M1350.5 143.4h0"/>
<path class="p" stroke="#481668" d="M1449.8 216.6h0M1511.1 293.2h0M1347.0 151.6h0M1512.1 250.7h0M1351.7 157.9h0M1519.9 285.5h0M1397.7 181.6h0M1481.5 242.6h0"/>
<path class="p" stroke="#481f70" d="M1405.5 132.1h0M1418.8 171.7h0M1473.4 230.3h0M1450.7 208.6h0M1455.7 217.6h0M1515.3 302.7h0M1353.3 152.3h0M1380.5 140.5h0M1359.8 166.2h0M1470.7 227.2h0"/>
<path class="p" stroke="#482979" d="M1439.5 201.2h0M1381.3 155.7h0M1519.5 286.1h0M1486.5 207.6h0M1478.9 216.9h0M1341.4 148.2h0M1321.7 111.1h0M1537.0 273.2h0M1364.2 148.2h0M1510.1 255.5h0M1421.0 185.1h0M1364.8 158.1h0M1486.1 233.8h0"/>
<path class="p" stroke="#46327e" d="M1457.6 149.3h0M1509.8 235.9h0M1396.9 149.8h0M1528.0 271.0h0M1328.2 111.9h0M1538.9 265.3h0M1382.7 156.4h0M1393.6 154.6h0M1337.3 134.2h0M1377.4 157.4h0M1382.3 162.0h0"/>
<path class="p" stroke="#443a83" d="M1498.3 198.5h0M1379.9 134.3h0M1409.7 153.1h0M1538.1 239.9h0M1528.7 273.7h0M1338.1 137.1h0"/>
<path class="p" stroke="#414487" d="M1350.9 140.9h0M1465.5 179.6h0"/>
<path class="p" stroke="#3e4c8a" d="M1414.3 144.4h0M1422.4 165.5h0M1434.4 161.7h0M1367.8 114.4h0"/>
<path class="p" stroke="#3a538b" d="M1563.4 286.9h0M1408.3 145.4h0M1393.8 125.4h0M1379.2 131.6h0"/>
<path class="p" stroke="#365c8d" d="M1475.0 150.1h0M1548.2 231.6h0M1478.3 175.7h0M1452.3 155.1h0M1369.3 119.0h0"/>
<path class="p" stroke="#33638d" d="M1538.5 230.6h0M1435.3 156.0h0M1497.7 180.2h0M1418.5 140.2h0M1501.7 178.6h0M1425.4 134.9h0M1576.2 284.6h0M1531.5 207.7h0"/>
<path class="p" stroke="#306a8e" d="M1493.3 170.4h0M1566.6 265.8h0M1526.6 196.4h0M1409.1 131.2h0M1547.8 224.6h0M1434.1 135.0h0M1588.9 316.8h0M1371.5 107.8h0M1387.8 109.5h0M1331.8 93.7h0"/>
<path class="p" stroke="#2c718e" d="M1543.9 211.8h0M1568.8 250.3h0M1360.5 114.0h0M1553.6 230.3h0M1444.6 150.5h0M1339.7 98.6h0M1499.0 177.6h0M1444.1 147.1h0M1507.5 185.2h0"/>
<path class="p" stroke="#2a788e" d="M1524.6 185.1h0M1585.4 263.9h0M1409.7 124.0h0M1405.0 130.6h0M1394.5 127.6h0"/>
<path class="p" stroke="#277f8e" d="M1527.6 194.0h0M1449.1 125.2h0M1532.2 194.5h0"/>
<path class="p" stroke="#24868e" d="M1574.1 247.3h0M1561.3 222.0h0M1522.4 182.0h0M1465.2 147.5h0M1586.0 255.8h0"/>
<path class="p" stroke="#228d8d" d="M1365.8 115.7h0M1408.1 110.2h0M1512.3 176.9h0"/>
<path class="p" stroke="#20938c" d="M1412.8 119.4h0M1409.1 115.1h0M1474.6 151.9h0"/>
<path class="p" stroke="#1fa187" d="M1598.1 240.7h0M1583.3 235.9h0"/>
<path class="p" stroke="#22a884" d="M1542.3 198.8h0M1349.9 81.8h0M1470.2 145.0h0"/>
<path class="p" stroke="#28ae80" d="M1505.8 163.3h0M1480.8 127.3h0M1535.9 183.0h0M1521.7 176.3h0M1534.3 167.2h0"/>
<path class="p" stroke="#3dbc74" d="M1385.8 95.3h0"/>
<path class="p" stroke="#5ac864" d="M1472.0 121.9h0M1572.2 211.1h0M1400.0 84.9h0"/>
<path class="p" stroke="#440154" d="M1444.1 232.4h0M1428.5 227.5h0M1435.6 235.0h0M1153.6 28.2h0M1193.7 71.8h0M1208.1 79.9h0M1268.9 72.2h0M1354.7 69.8h0M1180.1 135.1h0M1328.6 79.2h0M1309.0 98.1h0M1224.9 112.0h0M1256.6 107.8h0M1270.6 118.3h0M1275.5 120.4h0M1267.1 137.9h0M1252.7 149.1h0M1267.5 158.8h0M1276.6 161.2h0M1295.8 159.3h0M1315.3 112.0h0M1314.2 169.3h0M1342.2 186.8h0"/>
<path class="p" stroke="#460b5e" d="M1362.8 181.7h0M1380.3 198.0h0M1366.5 163.5h0M1447.4 214.8h0M1362.4 178.3h0M1353.4 153.8h0M1460.0 250.6h0M1344.4 170.4h0M1489.0 283.2h0M1351.7 178.4h0M1362.0 177.8h0M1228.7 118.3h0M1252.2 116.5h0M1257.3 119.0h0M1316.7 134.4h0"/>
<path class="p" stroke="#481668" d="M1507.4 313.6h0M1483.8 238.5h0M1345.6 165.5h0M1346.8 154.0h0M1523.2 222.4h0M1170.0 89.9h0M1160.2 107.4h0M1172.1 107.4h0M1227.0 127.4h0M1259.4 124.6h0M1269.6 126.7h0M1279.7 114.8h0M1288.1 115.5h0M1291.6 120.4h0M1283.9 125.3h0M1297.2 147.7h0M1296.2 151.2h0M1305.3 132.3h0M1303.4 122.5h0M1313.9 151.9h0M1318.8 151.9h0M1314.6 142.8h0"/>
<path class="p" stroke="#481f70" d="M1452.4 186.5h0M1505.0 291.3h0M1338.1 125.2h0M1333.4 148.1h0M1384.3 169.2h0M1493.1 227.2h0M1359.2 157.3h0M1235.0 107.8h0M1302.5 172.4h0"/>
<path class="p" stroke="#482979" d="M1512.9 216.5h0M1522.8 275.1h0M1502.3 236.2h0M1415.9 171.3h0M1454.8 191.6h0M1410.8 175.5h0M1446.2 187.3h0M1267.5 93.2h0M1310.4 120.4h0"/>
<path class="p" stroke="#46327e" d="M1377.6 145.0h0M1499.7 217.1h0M1508.3 239.8h0M1502.1 229.6h0M1381.4 161.8h0M1269.9 100.1h0M1306.9 113.4h0"/>
<path class="p" stroke="#443a83" d="M1410.3 128.4h0M1503.7 210.1h0M1349.0 139.2h0M1533.0 283.8h0M1376.0 137.9h0M1552.6 311.3h0M1193.3 100.1h0M1261.2 105.7h0M1266.4 113.4h0M1303.4 107.8h0"/>
<path class="p" stroke="#414487" d="M1519.3 223.1h0"/>
<path class="p" stroke="#3e4c8a" d="M1383.5 128.9h0M1570.8 306.8h0M1348.8 126.1h0M1426.7 154.0h0M1245.9 93.2h0M1287.8 103.9h0M1286.0 120.4h0"/>
<path class="p" stroke="#3a538b" d="M1578.1 274.5h0M1202.1 77.4h0"/>
<path class="p" stroke="#365c8d" d="M1518.9 189.7h0M1464.4 160.8h0M1369.5 108.0h0M1518.5 208.6h0M1258.7 88.0h0"/>
<path class="p" stroke="#33638d" d="M1321.7 91.8h0M1452.0 155.4h0M1553.4 235.8h0M1277.6 95.5h0"/>
<path class="p" stroke="#306a8e" d="M1496.3 182.8h0M1292.0 95.0h0"/>
<path class="p" stroke="#2c718e" d="M1567.4 246.0h0M1532.1 208.7h0"/>
<path class="p" stroke="#2a788e" d="M1550.0 226.5h0M1300.0 86.5h0M1303.4 89.7h0M1306.2 91.8h0M1338.1 79.5h0"/>
<path class="p" stroke="#277f8e" d="M1389.8 123.1h0"/>
<path class="p" stroke="#24868e" d="M1309.3 101.5h0"/>
<path class="p" stroke="#228d8d" d="M1372.5 94.0h0"/>
<path class="p" stroke="#20938c" d="M1484.5 153.0h0"/>
<path class="p" stroke="#1f9a8a" d="M1519.2 182.1h0M1524.8 160.2h0"/>
<path class="p" stroke="#22a884" d="M1605.8 267.9h0"/>
<path class="p" stroke="#28ae80" d="M1515.2 170.8h0"/>
<path class="p" stroke="#32b67a" d="M1322.7 76.7h0"/>
<path class="p" stroke="#5ac864" d="M1595.5 246.0h0"/>
<path class="p" stroke="#8ed645" d="M1623.0 273.1h0"/>
<path class="p" stroke="#440154" d="M1479.5 334.6h0M1500.7 329.4h0M1512.6 322.7h0M1515.0 367.0h0M1518.2 414.6h0M1517.9 457.1h0"/>
<path class="p" stroke="#460b5e" d="M1535.7 363.9h0M1539.2 371.6h0M1517.8 486.6h0M1527.0 498.0h0"/>
<path class="p" stroke="#481668" d="M1515.4 337.8h0M1524.9 352.3h0M1542.7 363.5h0M1517.5 378.6h0M1527.3 380.3h0M1535.7 380.3h0M1467.8 393.3h0M1534.0 395.4h0M1537.8 400.9h0"/>
<path class="p" stroke="#481f70" d="M1552.2 381.1h0"/>
<path class="p" stroke="#482979" d="M1540.6 330.8h0M1526.6 478.9h0"/>
<path class="p" stroke="#46327e" d="M1560.8 363.9h0M1564.6 433.5h0M1568.5 598.6h0"/>
<path class="p" stroke="#443a83" d="M1565.0 325.5h0M1568.5 330.4h0M1573.1 357.6h0M1573.4 363.2h0M1564.3 371.6h0M1571.3 371.6h0M1551.1 486.9h0"/>
<path class="p" stroke="#414487" d="M1572.4 387.7h0"/>
<path class="p" stroke="#365c8d" d="M1542.4 411.8h0M1580.4 439.4h0M1576.6 452.0h0M1584.3 466.6h0"/>
<path class="p" stroke="#306a8e" d="M1576.9 331.8h0M1591.3 365.3h0M1586.0 435.9h0M1592.0 449.6h0"/>
<path class="p" stroke="#2c718e" d="M1583.2 317.8h0M1586.0 323.4h0M1597.2 479.2h0"/>
<path class="p" stroke="#2a788e" d="M1581.8 312.2h0M1593.3 375.1h0"/>
<path class="p" stroke="#24868e" d="M1584.6 273.8h0M1581.8 280.1h0M1595.8 315.7h0M1602.1 333.9h0M1596.5 339.2h0M1578.6 380.3h0M1609.5 400.7h0M1606.2 405.8h0"/>
<path class="p" stroke="#228d8d" d="M1595.5 308.0h0"/>
<path class="p" stroke="#20938c" d="M1611.4 366.0h0"/>
<path class="p" stroke="#1f9a8a" d="M1612.5 306.6h0M1610.4 360.1h0M1616.7 411.4h0M1611.8 417.0h0"/>
<path class="p" stroke="#32b67a" d="M1446.5 111.2h0M1498.5 156.2h0"/>
<path class="p" stroke="#3dbc74" d="M1581.7 218.4h0"/>
<path class="p" stroke="#4ac16d" d="M1640.2 396.1h0M1538.3 170.2h0"/>
<path class="p" stroke="#5ac864" d="M1605.8 305.9h0M1624.1 312.9h0M1516.0 153.4h0M1568.4 194.6h0M1590.7 231.0h0M1595.6 236.6h0"/>
<path class="p" stroke="#69cd5b" d="M1627.9 278.7h0M1621.6 285.0h0M1413.3 95.8h0M1430.0 100.3h0M1432.1 109.4h0M1474.5 121.3h0M1480.4 125.5h0M1489.4 126.9h0M1580.3 201.6h0M1608.2 251.2h0M1612.4 257.5h0"/>
<path class="p" stroke="#7ad151" d="M1472.7 130.4h0M1516.7 170.2h0M1592.1 211.4h0M1597.7 217.7h0M1600.5 226.1h0"/>
<path class="p" stroke="#8ed645" d="M1437.0 103.8h0M1517.8 144.3h0M1537.4 159.7h0M1559.3 175.1h0M1559.3 180.0h0"/>
<path class="p" stroke="#a0da39" d="M1466.1 118.5h0M1509.7 133.9h0"/>
<path class="p" stroke="#b2dd2d" d="M1543.9 188.4h0"/>
<path class="p" stroke="#c8e020" d="M1618.8 303.8h0"/>
<path class="p" stroke="#dae319" d="M1503.4 131.1h0M1602.6 256.1h0"/>
<path class="p" stroke="#fde725" d="M1653.8 285.0h0M1651.7 323.0h0M1654.2 374.4h0M1429.8 74.0h0M1437.0 78.0h0M1445.4 81.0h0M1438.4 85.6h0M1402.8 85.6h0M1421.2 96.1h0M1441.9 94.0h0M1446.8 98.9h0M1453.1 104.5h0M1479.9 107.6h0M1498.5 121.6h0M1524.4 142.5h0M1539.3 149.2h0M1549.8 147.1h0M1548.8 153.4h0M1554.4 155.9h0M1581.7 159.7h0M1599.1 163.9h0M1591.9 174.4h0M1574.7 179.3h0M1608.2 189.1h0M1613.8 186.3h0M1575.8 195.3h0M1602.6 197.4h0M1619.0 203.7h0M1640.4 213.1h0M1624.6 235.6h0M1634.1 235.2h0M1627.8 247.7h0M1651.8 247.5h0"/>
</g>
<rect x="1112.8" y="17" width="374.7" height="622.8" fill="#00f" fill-opacity="0.05"/><rect x="1487.5" y="17" width="374.7" height="622.8" fill="#f00" fill-opacity="0.05"/>
<line x1="1487.5" y1="639.8" x2="1487.5" y2="17" stroke="#000" stroke-width="4.6" stroke-dasharray="17.11 7.40"/>
<path class="k" d="M1112.8 639.8v10.8M1487.5 639.8v10.8M1862.2 639.8v10.8M1225.6 639.8v6.2M1291.6 639.8v6.2M1338.4 639.8v6.2M1374.7 639.8v6.2M1404.4 639.8v6.2M1429.5 639.8v6.2M1451.2 639.8v6.2M1470.4 639.8v6.2M1600.3 639.8v6.2M1666.3 639.8v6.2M1713.1 639.8v6.2M1749.4 639.8v6.2M1779.1 639.8v6.2M1804.2 639.8v6.2M1825.9 639.8v6.2M1845.1 639.8v6.2M1112.8 639.8h-10.8M1112.8 484.1h-10.8M1112.8 328.4h-10.8M1112.8 172.7h-10.8M1112.8 17h-10.8M1112.8 592.9h-6.2M1112.8 565.5h-6.2M1112.8 546.1h-6.2M1112.8 531h-6.2M1112.8 518.6h-6.2M1112.8 508.2h-6.2M1112.8 499.2h-6.2M1112.8 491.2h-6.2M1112.8 437.2h-6.2M1112.8 409.8h-6.2M1112.8 390.4h-6.2M1112.8 375.3h-6.2M1112.8 362.9h-6.2M1112.8 352.5h-6.2M1112.8 343.5h-6.2M1112.8 335.5h-6.2M1112.8 281.5h-6.2M1112.8 254.1h-6.2M1112.8 234.7h-6.2M1112.8 219.6h-6.2M1112.8 207.2h-6.2M1112.8 196.8h-6.2M1112.8 187.8h-6.2M1112.8 179.8h-6.2M1112.8 125.8h-6.2M1112.8 98.4h-6.2M1112.8 79h-6.2M1112.8 63.9h-6.2M1112.8 51.5h-6.2M1112.8 41.1h-6.2M1112.8 32.1h-6.2M1112.8 24.1h-6.2"/>
<rect class="k" x="1112.8" y="17" width="749.4" height="622.8"/>
<text class="t" x="1112.8" y="685.3" text-anchor="middle">10<tspan dy="-11.2" font-size="21.58">−1</tspan></text>
<text class="t" x="1487.5" y="685.3" text-anchor="middle">10<tspan dy="-11.2" font-size="21.58">0</tspan></text>
<text class="t" x="1862.2" y="685.3" text-anchor="middle">10<tspan dy="-11.2" font-size="21.58">1</tspan></text>
<text class="t" x="1091.5" y="650.5" text-anchor="end">10<tspan dy="-11.2" font-size="21.58">−3</tspan></text>
<text class="t" x="1091.5" y="494.8" text-anchor="end">10<tspan dy="-11.2" font-size="21.58">−2</tspan></text>
<text class="t" x="1091.5" y="339.1" text-anchor="end">10<tspan dy="-11.2" font-size="21.58">−1</tspan></text>
<text class="t" x="1091.5" y="183.4" text-anchor="end">10<tspan dy="-11.2" font-size="21.58">0</tspan></text>
<text class="t" x="1091.5" y="27.7" text-anchor="end">10<tspan dy="-11.2" font-size="21.58">1</tspan></text>
<text class="t" x="1487.5" y="728.3" text-anchor="middle"><tspan class="i">Z</tspan><tspan dy="4.2" font-size="21.58">rms</tspan><tspan dy="-4.2">/Δ</tspan><tspan class="i">Z</tspan><tspan dy="4.2" font-size="21.58">AB</tspan></text>
<text class="t" transform="translate(997.8 328.4) rotate(-90)" text-anchor="middle">significance of Δ<tspan class="i">Z</tspan><tspan dy="4.2" font-size="21.58">AB</tspan></text>
<text class="b" x="1846.7" y="70.6" text-anchor="end" fill="#f00" style="fill:#f00">Hot filaments</text>
<text class="b" x="1127.8" y="602.1" style="fill:#00f">Cold filaments</text>
<text class="b" x="1838.2" y="620.7" text-anchor="end">Sample-2</text>
</g>
<g id="panel3">
<clipPath id="cp2"><rect x="138.7" y="764.5" width="749.3" height="622.7"/></clipPath>
<g clip-path="url(#cp2)">
<path class="p" stroke="#440154" d="M155.5 796.4h0"/>
<path class="p" stroke="#440154" d="M231.6 802.7h0"/>
<path class="p" stroke="#440154" d="M274.7 802.0h0"/>
<path class="p" stroke="#481f70" d="M274.9 805.6h0"/>
<path class="p" stroke="#440154" d="M323.3 798.2h0"/>
<path class="p" stroke="#24868e" d="M237.5 822.0h0"/>
<path class="p" stroke="#306a8e" d="M244.9 825.5h0"/>
<path class="p" stroke="#440154" d="M264.9 827.3h0"/>
<path class="p" stroke="#1f9a8a" d="M329.2 823.4h0"/>
<path class="p" stroke="#1f9a8a" d="M328.1 827.6h0"/>
<path class="p" stroke="#3e4c8a" d="M356.7 829.4h0"/>
<path class="p" stroke="#1f9a8a" d="M370.7 832.5h0"/>
<path class="p" stroke="#1f9a8a" d="M374.2 830.8h0"/>
<path class="p" stroke="#460b5e" d="M224.9 834.7h0"/>
<path class="p" stroke="#306a8e" d="M251.5 836.0h0"/>
<path class="p" stroke="#365c8d" d="M286.1 833.5h0"/>
<path class="p" stroke="#365c8d" d="M283.3 836.7h0"/>
<path class="p" stroke="#365c8d" d="M280.5 840.2h0"/>
<path class="p" stroke="#3e4c8a" d="M272.9 844.8h0"/>
<path class="p" stroke="#3e4c8a" d="M279.1 848.5h0"/>
<path class="p" stroke="#2a788e" d="M304.3 833.2h0"/>
<path class="p" stroke="#2a788e" d="M313.4 832.5h0"/>
<path class="p" stroke="#2a788e" d="M316.2 836.0h0"/>
<path class="p" stroke="#33638d" d="M305.0 842.3h0"/>
<path class="p" stroke="#481668" d="M215.6 843.0h0"/>
<path class="p" stroke="#440154" d="M174.3 849.2h0"/>
<path class="p" stroke="#460b5e" d="M205.8 848.5h0"/>
<path class="p" stroke="#481668" d="M209.0 854.6h0"/>
<path class="p" stroke="#440154" d="M251.2 843.7h0"/>
<path class="p" stroke="#440154" d="M251.9 848.5h0"/>
<path class="p" stroke="#482979" d="M235.5 851.3h0"/>
<path class="p" stroke="#481668" d="M242.1 853.4h0"/>
<path class="p" stroke="#481668" d="M245.6 854.8h0"/>
<path class="p" stroke="#414487" d="M259.6 849.9h0"/>
<path class="p" stroke="#414487" d="M264.5 854.8h0"/>
<path class="p" stroke="#481668" d="M300.8 845.7h0"/>
<path class="p" stroke="#2a788e" d="M297.3 852.0h0"/>
<path class="p" stroke="#460b5e" d="M295.9 855.5h0"/>
<path class="p" stroke="#414487" d="M305.7 854.8h0"/>
<path class="p" stroke="#414487" d="M315.5 849.2h0"/>
<path class="p" stroke="#2a788e" d="M341.3 849.2h0"/>
<path class="p" stroke="#228d8d" d="M349.7 846.4h0"/>
<path class="p" stroke="#3e4c8a" d="M351.8 850.6h0"/>
<path class="p" stroke="#414487" d="M372.8 851.3h0"/>
<path class="p" stroke="#414487" d="M374.2 856.2h0"/>
<path class="p" stroke="#443a83" d="M328.1 856.2h0"/>
<path class="p" stroke="#443a83" d="M335.0 855.5h0"/>
<path class="p" stroke="#46327e" d="M326.0 859.7h0"/>
<path class="p" stroke="#3e4c8a" d="M346.2 855.5h0"/>
<path class="p" stroke="#414487" d="M346.2 861.8h0"/>
<path class="p" stroke="#481668" d="M169.9 859.7h0"/>
<path class="p" stroke="#460b5e" d="M273.3 859.0h0"/>
<path class="p" stroke="#481668" d="M266.6 861.8h0"/>
<path class="p" stroke="#481668" d="M269.4 865.3h0"/>
<path class="p" stroke="#481668" d="M265.2 870.9h0"/>
<path class="p" stroke="#482979" d="M285.4 860.4h0"/>
<path class="p" stroke="#481668" d="M291.7 864.6h0"/>
<path class="p" stroke="#460b5e" d="M297.3 868.8h0"/>
<path class="p" stroke="#440154" d="M237.5 867.8h0"/>
<path class="p" stroke="#482979" d="M256.5 868.1h0"/>
<path class="p" stroke="#460b5e" d="M306.8 870.9h0"/>
<path class="p" stroke="#443a83" d="M364.4 863.9h0"/>
<path class="p" stroke="#443a83" d="M361.6 863.2h0"/>
<path class="p" stroke="#482979" d="M330.8 868.1h0"/>
<path class="p" stroke="#481f70" d="M337.1 873.7h0"/>
<path class="p" stroke="#482979" d="M353.9 873.0h0"/>
<path class="p" stroke="#482979" d="M364.4 875.8h0"/>
<path class="p" stroke="#440154" d="M285.8 875.8h0"/>
<path class="p" stroke="#460b5e" d="M321.8 879.7h0"/>
<path class="p" stroke="#481668" d="M329.4 877.2h0"/>
<path class="p" stroke="#482979" d="M332.2 882.8h0"/>
<path class="p" stroke="#481668" d="M343.4 883.5h0"/>
<path class="p" stroke="#481668" d="M347.6 885.6h0"/>
<path class="p" stroke="#481668" d="M353.2 882.8h0"/>
<path class="p" stroke="#481668" d="M344.8 891.9h0"/>
<path class="p" stroke="#443a83" d="M353.9 890.5h0"/>
<path class="p" stroke="#481668" d="M361.6 889.8h0"/>
<path class="p" stroke="#481668" d="M365.1 890.5h0"/>
<path class="p" stroke="#481668" d="M302.2 888.0h0"/>
<path class="p" stroke="#481f70" d="M328.1 890.5h0"/>
<path class="p" stroke="#481668" d="M313.7 905.1h0"/>
<path class="p" stroke="#481f70" d="M345.1 903.7h0"/>
<path class="p" stroke="#440154" d="M322.5 924.0h0"/>
<path class="p" stroke="#440154" d="M319.9 931.0h0"/>
<path class="p" stroke="#440154" d="M335.3 940.8h0"/>
<path class="p" stroke="#440154" d="M360.2 950.6h0"/>
<path class="p" stroke="#440154" d="M362.3 955.2h0"/>
<path class="p" stroke="#482979" d="M380.1 831.8h0"/>
<path class="p" stroke="#22a884" d="M392.4 833.5h0"/>
<path class="p" stroke="#3e4c8a" d="M389.9 837.4h0"/>
<path class="p" stroke="#3e4c8a" d="M433.2 837.8h0"/>
<path class="p" stroke="#24868e" d="M408.0 845.7h0"/>
<path class="p" stroke="#2a788e" d="M430.0 846.4h0"/>
<path class="p" stroke="#228d8d" d="M456.5 843.9h0"/>
<path class="p" stroke="#32b67a" d="M445.8 853.7h0"/>
<path class="p" stroke="#fde725" d="M489.1 850.9h0"/>
<path class="p" stroke="#2a788e" d="M406.9 860.4h0"/>
<path class="p" stroke="#365c8d" d="M449.5 863.9h0"/>
<path class="p" stroke="#2a788e" d="M436.0 866.7h0"/>
<path class="p" stroke="#306a8e" d="M389.2 869.1h0"/>
<path class="p" stroke="#443a83" d="M394.8 867.4h0"/>
<path class="p" stroke="#443a83" d="M400.4 869.5h0"/>
<path class="p" stroke="#443a83" d="M403.9 868.1h0"/>
<path class="p" stroke="#414487" d="M508.0 866.7h0"/>
<path class="p" stroke="#306a8e" d="M389.2 879.7h0"/>
<path class="p" stroke="#481f70" d="M394.1 877.9h0"/>
<path class="p" stroke="#482979" d="M399.0 881.4h0"/>
<path class="p" stroke="#481f70" d="M401.8 885.6h0"/>
<path class="p" stroke="#365c8d" d="M424.1 871.6h0"/>
<path class="p" stroke="#365c8d" d="M428.3 874.4h0"/>
<path class="p" stroke="#3a538b" d="M419.9 878.6h0"/>
<path class="p" stroke="#440154" d="M430.0 880.3h0"/>
<path class="p" stroke="#481668" d="M428.3 887.0h0"/>
<path class="p" stroke="#482979" d="M417.8 886.3h0"/>
<path class="p" stroke="#306a8e" d="M445.1 878.6h0"/>
<path class="p" stroke="#2a788e" d="M449.3 875.1h0"/>
<path class="p" stroke="#2a788e" d="M456.3 874.4h0"/>
<path class="p" stroke="#2a788e" d="M461.1 877.2h0"/>
<path class="p" stroke="#306a8e" d="M452.1 881.4h0"/>
<path class="p" stroke="#365c8d" d="M463.5 885.6h0"/>
<path class="p" stroke="#24868e" d="M441.6 889.1h0"/>
<path class="p" stroke="#414487" d="M424.1 894.0h0"/>
<path class="p" stroke="#3e4c8a" d="M431.1 895.4h0"/>
<path class="p" stroke="#3a538b" d="M460.4 892.6h0"/>
<path class="p" stroke="#414487" d="M459.7 896.8h0"/>
<path class="p" stroke="#443a83" d="M461.8 902.3h0"/>
<path class="p" stroke="#443a83" d="M441.6 896.1h0"/>
<path class="p" stroke="#46327e" d="M438.1 902.3h0"/>
<path class="p" stroke="#46327e" d="M443.0 905.8h0"/>
<path class="p" stroke="#46327e" d="M440.2 907.9h0"/>
<path class="p" stroke="#481668" d="M381.9 889.1h0"/>
<path class="p" stroke="#481668" d="M403.9 894.7h0"/>
<path class="p" stroke="#481f70" d="M410.1 896.8h0"/>
<path class="p" stroke="#443a83" d="M390.9 898.2h0"/>
<path class="p" stroke="#482979" d="M488.0 891.4h0"/>
<path class="p" stroke="#306a8e" d="M487.0 901.6h0"/>
<path class="p" stroke="#365c8d" d="M483.5 908.6h0"/>
<path class="p" stroke="#277f8e" d="M524.3 886.7h0"/>
<path class="p" stroke="#22a884" d="M522.6 896.8h0"/>
<path class="p" stroke="#277f8e" d="M524.7 906.8h0"/>
<path class="p" stroke="#440154" d="M384.0 906.5h0"/>
<path class="p" stroke="#482979" d="M417.8 907.7h0"/>
<path class="p" stroke="#481668" d="M453.5 909.6h0"/>
<path class="p" stroke="#306a8e" d="M508.0 912.1h0"/>
<path class="p" stroke="#482979" d="M390.6 916.3h0"/>
<path class="p" stroke="#481668" d="M426.9 914.6h0"/>
<path class="p" stroke="#481668" d="M422.7 918.4h0"/>
<path class="p" stroke="#460b5e" d="M419.9 921.9h0"/>
<path class="p" stroke="#440154" d="M415.0 926.8h0"/>
<path class="p" stroke="#440154" d="M422.7 931.0h0"/>
<path class="p" stroke="#482979" d="M436.7 922.6h0"/>
<path class="p" stroke="#482979" d="M441.6 923.3h0"/>
<path class="p" stroke="#481668" d="M461.1 920.2h0"/>
<path class="p" stroke="#46327e" d="M476.5 914.9h0"/>
<path class="p" stroke="#482979" d="M472.3 921.2h0"/>
<path class="p" stroke="#481f70" d="M475.8 926.1h0"/>
<path class="p" stroke="#2a788e" d="M538.4 917.7h0"/>
<path class="p" stroke="#414487" d="M534.9 926.1h0"/>
<path class="p" stroke="#46327e" d="M486.7 924.7h0"/>
<path class="p" stroke="#443a83" d="M494.0 930.3h0"/>
<path class="p" stroke="#443a83" d="M500.3 931.0h0"/>
<path class="p" stroke="#414487" d="M504.9 924.0h0"/>
<path class="p" stroke="#3e4c8a" d="M378.7 928.2h0"/>
<path class="p" stroke="#3e4c8a" d="M464.4 932.4h0"/>
<path class="p" stroke="#443a83" d="M513.6 934.5h0"/>
<path class="p" stroke="#481f70" d="M403.9 931.0h0"/>
<path class="p" stroke="#481f70" d="M399.0 935.9h0"/>
<path class="p" stroke="#481668" d="M390.6 941.5h0"/>
<path class="p" stroke="#481f70" d="M416.4 939.1h0"/>
<path class="p" stroke="#482979" d="M443.7 938.0h0"/>
<path class="p" stroke="#481f70" d="M436.0 940.8h0"/>
<path class="p" stroke="#481668" d="M405.9 947.8h0"/>
<path class="p" stroke="#46327e" d="M477.9 940.1h0"/>
<path class="p" stroke="#481668" d="M485.6 942.2h0"/>
<path class="p" stroke="#481668" d="M493.3 938.7h0"/>
<path class="p" stroke="#481668" d="M485.3 949.2h0"/>
<path class="p" stroke="#414487" d="M524.5 945.2h0"/>
<path class="p" stroke="#1f9a8a" d="M562.0 941.5h0"/>
<path class="p" stroke="#22a884" d="M582.7 943.3h0"/>
<path class="p" stroke="#28ae80" d="M575.5 949.2h0"/>
<path class="p" stroke="#481f70" d="M481.1 958.0h0"/>
<path class="p" stroke="#440154" d="M436.4 971.1h0"/>
<path class="p" stroke="#440154" d="M449.5 973.6h0"/>
<path class="p" stroke="#440154" d="M477.9 965.9h0"/>
<path class="p" stroke="#482979" d="M507.3 963.8h0"/>
<path class="p" stroke="#46327e" d="M523.3 964.5h0"/>
<path class="p" stroke="#46327e" d="M528.2 968.0h0"/>
<path class="p" stroke="#306a8e" d="M538.7 961.7h0"/>
<path class="p" stroke="#3a538b" d="M538.0 971.5h0"/>
<path class="p" stroke="#2c718e" d="M554.1 962.4h0"/>
<path class="p" stroke="#306a8e" d="M558.3 965.9h0"/>
<path class="p" stroke="#414487" d="M565.3 970.1h0"/>
<path class="p" stroke="#33638d" d="M570.1 964.5h0"/>
<path class="p" stroke="#33638d" d="M573.6 965.2h0"/>
<path class="p" stroke="#1f9a8a" d="M591.1 964.5h0"/>
<path class="p" stroke="#482979" d="M494.3 978.5h0"/>
<path class="p" stroke="#481668" d="M505.4 982.0h0"/>
<path class="p" stroke="#482979" d="M514.2 982.7h0"/>
<path class="p" stroke="#440154" d="M496.1 988.9h0"/>
<path class="p" stroke="#443a83" d="M545.4 978.9h0"/>
<path class="p" stroke="#33638d" d="M566.7 982.0h0"/>
<path class="p" stroke="#20938c" d="M603.0 977.5h0"/>
<path class="p" stroke="#1f9a8a" d="M609.3 977.8h0"/>
<path class="p" stroke="#20938c" d="M578.8 988.7h0"/>
<path class="p" stroke="#306a8e" d="M557.8 990.6h0"/>
<path class="p" stroke="#28ae80" d="M618.4 988.2h0"/>
<path class="p" stroke="#1f9a8a" d="M611.1 994.3h0"/>
<path class="p" stroke="#482979" d="M529.6 994.5h0"/>
<path class="p" stroke="#481668" d="M463.0 1002.2h0"/>
<path class="p" stroke="#481f70" d="M543.6 1007.1h0"/>
<path class="p" stroke="#481f70" d="M553.7 1007.8h0"/>
<path class="p" stroke="#3a538b" d="M568.7 1006.0h0"/>
<path class="p" stroke="#3a538b" d="M580.2 1006.0h0"/>
<path class="p" stroke="#306a8e" d="M597.1 1008.8h0"/>
<path class="p" stroke="#443a83" d="M562.5 1013.4h0"/>
<path class="p" stroke="#443a83" d="M565.3 1018.3h0"/>
<path class="p" stroke="#440154" d="M537.7 1015.9h0"/>
<path class="p" stroke="#481f70" d="M548.1 1025.0h0"/>
<path class="p" stroke="#481f70" d="M545.4 1033.4h0"/>
<path class="p" stroke="#481668" d="M496.1 1037.9h0"/>
<path class="p" stroke="#440154" d="M528.2 1044.1h0"/>
<path class="p" stroke="#365c8d" d="M533.4 1040.2h0"/>
<path class="p" stroke="#3a538b" d="M591.8 1053.0h0"/>
<path class="p" stroke="#46327e" d="M579.9 1056.3h0"/>
<path class="p" stroke="#460b5e" d="M555.5 1070.0h0"/>
<path class="p" stroke="#481668" d="M525.8 1088.4h0"/>
<path class="p" stroke="#306a8e" d="M612.3 1085.4h0"/>
<path class="p" stroke="#306a8e" d="M614.9 1117.8h0"/>
<path class="p" stroke="#414487" d="M593.2 1122.8h0"/>
<path class="p" stroke="#460b5e" d="M560.8 1145.7h0"/>
<path class="p" stroke="#414487" d="M563.9 1144.8h0"/>
<path class="p" stroke="#482979" d="M583.4 1149.7h0"/>
<path class="p" stroke="#46327e" d="M592.9 1149.0h0"/>
<path class="p" stroke="#414487" d="M594.9 1161.5h0"/>
<path class="p" stroke="#a0da39" d="M664.4 1057.4h0"/>
<path class="p" stroke="#fde725" d="M686.9 1068.0h0"/>
<path class="p" stroke="#fde725" d="M685.1 1126.2h0"/>
</g>
<rect x="138.7" y="764.5" width="374.6" height="622.7" fill="#00f" fill-opacity="0.05"/><rect x="513.3" y="764.5" width="374.7" height="622.7" fill="#f00" fill-opacity="0.05"/>
<line x1="513.3" y1="1387.2" x2="513.3" y2="764.5" stroke="#000" stroke-width="4.6" stroke-dasharray="17.11 7.40"/>
<path class="k" d="M138.7 1387.2v10.8M513.3 1387.2v10.8M888 1387.2v10.8M251.5 1387.2v6.2M317.5 1387.2v6.2M364.3 1387.2v6.2M400.6 1387.2v6.2M430.2 1387.2v6.2M455.3 1387.2v6.2M477 1387.2v6.2M496.2 1387.2v6.2M626.1 1387.2v6.2M692.1 1387.2v6.2M738.9 1387.2v6.2M775.2 1387.2v6.2M804.9 1387.2v6.2M830 1387.2v6.2M851.7 1387.2v6.2M870.9 1387.2v6.2M138.7 1387.2h-10.8M138.7 1231.5h-10.8M138.7 1075.8h-10.8M138.7 920.2h-10.8M138.7 764.5h-10.8M138.7 1340.3h-6.2M138.7 1312.9h-6.2M138.7 1293.5h-6.2M138.7 1278.4h-6.2M138.7 1266.1h-6.2M138.7 1255.6h-6.2M138.7 1246.6h-6.2M138.7 1238.6h-6.2M138.7 1184.7h-6.2M138.7 1157.2h-6.2M138.7 1137.8h-6.2M138.7 1122.7h-6.2M138.7 1110.4h-6.2M138.7 1100h-6.2M138.7 1090.9h-6.2M138.7 1083h-6.2M138.7 1029h-6.2M138.7 1001.6h-6.2M138.7 982.1h-6.2M138.7 967h-6.2M138.7 954.7h-6.2M138.7 944.3h-6.2M138.7 935.3h-6.2M138.7 927.3h-6.2M138.7 873.3h-6.2M138.7 845.9h-6.2M138.7 826.4h-6.2M138.7 811.4h-6.2M138.7 799h-6.2M138.7 788.6h-6.2M138.7 779.6h-6.2M138.7 771.6h-6.2"/>
<rect class="k" x="138.7" y="764.5" width="749.3" height="622.7"/>
<text class="t" x="138.7" y="1432.7" text-anchor="middle">10<tspan dy="-11.2" font-size="21.58">−1</tspan></text>
<text class="t" x="513.3" y="1432.7" text-anchor="middle">10<tspan dy="-11.2" font-size="21.58">0</tspan></text>
<text class="t" x="888" y="1432.7" text-anchor="middle">10<tspan dy="-11.2" font-size="21.58">1</tspan></text>
<text class="t" x="117.4" y="1397.9" text-anchor="end">10<tspan dy="-11.2" font-size="21.58">−3</tspan></text>
<text class="t" x="117.4" y="1242.2" text-anchor="end">10<tspan dy="-11.2" font-size="21.58">−2</tspan></text>
<text class="t" x="117.4" y="1086.5" text-anchor="end">10<tspan dy="-11.2" font-size="21.58">−1</tspan></text>
<text class="t" x="117.4" y="930.9" text-anchor="end">10<tspan dy="-11.2" font-size="21.58">0</tspan></text>
<text class="t" x="117.4" y="775.2" text-anchor="end">10<tspan dy="-11.2" font-size="21.58">1</tspan></text>
<text class="t" x="513.3" y="1475.7" text-anchor="middle"><tspan class="i">Z</tspan><tspan dy="4.2" font-size="21.58">rms</tspan><tspan dy="-4.2">/Δ</tspan><tspan class="i">Z</tspan><tspan dy="4.2" font-size="21.58">AB</tspan></text>
<text class="t" transform="translate(23.7 1075.8) rotate(-90)" text-anchor="middle">significance of Δ<tspan class="i">Z</tspan><tspan dy="4.2" font-size="21.58">AB</tspan></text>
<text class="b" x="872.5" y="818.1" text-anchor="end" fill="#f00" style="fill:#f00">Hot filaments</text>
<text class="b" x="153.7" y="1349.5" style="fill:#00f">Cold filaments</text>
<text class="b" x="864" y="1368.1" text-anchor="end">Sample-3</text>
</g>
<g id="panel4">
<clipPath id="cp3"><rect x="1112.8" y="764.5" width="749.4" height="622.7"/></clipPath>
<g clip-path="url(#cp3)">
<path class="p" stroke="#440154" d="M1353.9 916.6h0M1343.6 940.7h0M1367.5 952.5h0M1398.1 961.0h0M1373.5 969.9h0M1306.0 909.4h0M1453.8 1010.1h0M1298.3 913.3h0M1497.7 1073.8h0M1453.3 993.2h0M1442.3 1050.5h0M1453.4 1036.0h0M1489.4 1113.7h0M1327.8 920.4h0M1320.5 936.4h0M1431.2 973.5h0M1450.0 1047.9h0M1377.5 959.2h0M1392.0 903.7h0M1349.4 950.8h0M1317.3 935.0h0M1254.5 885.1h0M1402.0 979.7h0M1353.2 954.0h0M1456.1 1007.4h0"/>
<path class="p" stroke="#460b5e" d="M1446.7 997.4h0M1397.7 940.3h0M1435.7 980.9h0M1326.3 919.2h0M1346.5 898.8h0M1452.4 1010.9h0M1462.9 937.2h0M1493.0 991.3h0M1353.8 930.1h0M1443.2 990.5h0M1291.4 895.3h0M1369.3 927.0h0M1471.3 1004.6h0M1463.8 981.2h0M1354.9 936.1h0M1366.7 950.4h0M1421.7 983.1h0M1268.5 889.7h0M1505.5 969.0h0M1368.0 950.5h0M1305.3 905.3h0M1452.3 1000.0h0M1392.8 920.9h0M1474.6 1011.2h0M1355.4 944.8h0M1422.2 940.4h0M1399.0 945.8h0M1403.9 962.9h0M1401.7 956.4h0M1478.4 1013.6h0M1470.6 924.8h0M1291.8 912.6h0M1392.3 963.4h0M1369.9 956.0h0M1516.0 1071.6h0"/>
<path class="p" stroke="#481668" d="M1480.5 1025.4h0M1369.6 937.4h0M1416.3 961.8h0M1341.3 900.3h0M1405.0 960.5h0M1351.0 917.5h0M1414.1 961.4h0M1441.6 961.7h0M1418.4 899.4h0M1488.0 998.1h0M1431.5 954.2h0M1381.9 935.1h0M1313.5 890.4h0M1347.7 929.0h0M1311.6 898.2h0M1347.8 904.9h0M1377.1 949.1h0M1372.8 927.6h0M1369.0 938.6h0M1518.1 1067.5h0M1466.3 950.6h0M1344.0 888.8h0M1316.5 910.1h0M1282.0 893.8h0M1362.8 931.1h0M1459.8 984.5h0M1322.8 908.7h0M1348.5 921.4h0M1433.4 975.1h0M1486.4 1075.2h0"/>
<path class="p" stroke="#481f70" d="M1386.5 917.4h0M1475.0 961.6h0M1448.8 984.3h0M1322.8 865.5h0M1333.0 887.4h0M1355.9 907.9h0M1403.7 938.2h0M1448.2 923.7h0M1452.1 982.4h0M1427.2 966.3h0M1444.6 951.0h0M1476.9 1004.2h0M1319.8 878.4h0M1381.2 939.5h0M1484.6 1028.8h0M1452.7 961.8h0M1306.3 868.4h0M1406.0 953.3h0M1368.2 916.4h0M1335.0 914.7h0M1385.3 931.0h0M1411.1 943.1h0M1438.3 974.5h0M1399.3 931.7h0M1363.3 858.8h0M1348.5 916.2h0M1371.7 898.4h0M1415.9 954.2h0M1400.6 938.2h0M1369.9 912.3h0M1470.5 1010.8h0"/>
<path class="p" stroke="#482979" d="M1561.8 1102.8h0M1355.7 878.7h0M1510.8 1019.0h0M1398.4 892.9h0M1389.3 899.0h0M1421.6 947.0h0M1406.5 918.0h0M1293.7 872.4h0M1456.2 965.1h0M1514.4 966.0h0M1482.1 958.3h0M1376.0 905.5h0M1366.9 902.9h0M1380.1 915.8h0M1471.1 974.0h0M1417.5 949.3h0M1338.1 909.8h0M1344.1 892.0h0M1351.6 908.7h0M1259.0 881.3h0M1501.5 1054.3h0M1506.2 1060.0h0M1428.8 946.2h0M1431.6 954.0h0M1406.6 921.4h0M1556.1 1013.2h0M1442.3 954.2h0M1405.3 940.0h0"/>
<path class="p" stroke="#46327e" d="M1268.1 854.9h0M1506.3 967.1h0M1509.6 1035.8h0M1524.0 998.4h0M1434.7 935.3h0M1447.2 947.8h0M1317.5 876.9h0M1330.3 902.4h0M1431.1 921.9h0M1524.8 985.0h0M1364.8 913.8h0M1458.6 952.0h0M1328.5 865.2h0M1469.4 960.8h0M1531.5 1053.0h0M1353.3 895.9h0M1512.6 984.9h0M1350.8 866.5h0M1376.9 912.2h0M1399.5 927.6h0M1511.4 961.2h0M1352.6 901.5h0M1529.0 1046.4h0M1327.1 889.4h0M1488.0 949.9h0M1504.1 981.5h0M1514.0 1009.3h0M1345.2 886.8h0M1510.9 964.7h0M1432.3 937.2h0M1526.1 1117.8h0M1570.6 1015.9h0M1497.9 988.3h0M1319.8 868.6h0"/>
<path class="p" stroke="#443a83" d="M1518.3 988.2h0M1507.0 1010.2h0M1424.5 915.3h0M1379.5 903.8h0M1477.3 956.2h0M1516.3 1027.3h0M1392.6 910.1h0M1525.7 1022.6h0M1489.7 966.8h0M1481.8 954.8h0M1349.4 891.7h0M1493.2 957.0h0M1484.4 925.2h0M1346.5 892.6h0M1458.8 950.6h0M1395.6 911.3h0M1324.1 900.5h0M1463.1 941.8h0M1342.7 880.2h0M1515.4 1059.6h0M1417.2 924.2h0M1481.0 952.4h0M1395.1 909.8h0M1317.5 869.5h0M1391.3 918.9h0"/>
<path class="p" stroke="#414487" d="M1301.5 849.9h0M1441.3 918.8h0M1528.2 996.9h0M1456.6 911.3h0M1482.9 948.2h0M1398.4 918.0h0M1508.5 965.0h0M1475.2 951.2h0M1515.0 1006.8h0M1355.3 882.5h0M1481.7 954.6h0M1491.8 952.6h0M1326.3 880.5h0"/>
<path class="p" stroke="#3e4c8a" d="M1453.8 929.6h0M1521.8 950.4h0M1495.5 962.4h0M1420.0 888.8h0M1519.7 963.2h0M1262.3 837.8h0M1487.6 922.4h0M1341.9 886.3h0M1413.8 916.5h0M1481.1 937.7h0M1499.1 921.5h0M1371.1 900.6h0M1320.3 858.9h0M1502.3 949.3h0M1411.1 904.3h0M1545.8 1015.1h0M1476.1 943.1h0M1570.9 974.4h0"/>
<path class="p" stroke="#3a538b" d="M1499.0 903.5h0M1520.4 961.0h0M1296.1 860.9h0M1528.1 968.3h0M1417.3 901.9h0M1501.3 961.1h0M1521.7 969.4h0M1491.5 914.6h0M1408.2 902.5h0M1479.7 950.1h0M1383.9 887.5h0M1401.6 900.1h0"/>
<path class="p" stroke="#365c8d" d="M1327.4 867.3h0M1515.8 959.0h0M1579.7 1057.5h0M1349.8 874.7h0M1305.7 852.8h0M1359.6 877.5h0M1394.1 887.5h0M1512.5 971.3h0M1518.9 967.9h0M1447.4 902.0h0"/>
<path class="p" stroke="#33638d" d="M1553.7 1012.1h0M1408.6 889.3h0M1482.6 922.3h0M1505.3 957.8h0M1584.1 1120.1h0M1410.4 894.8h0M1490.0 918.2h0M1558.1 1039.6h0M1536.2 970.6h0M1360.9 863.4h0M1372.9 872.6h0M1517.7 955.0h0M1450.9 919.0h0M1495.4 893.0h0M1548.9 1027.6h0M1530.1 991.4h0M1505.7 950.9h0"/>
<path class="p" stroke="#306a8e" d="M1518.3 952.9h0M1533.3 987.1h0M1399.8 879.9h0M1552.6 982.0h0M1369.8 877.7h0M1540.4 994.3h0M1535.7 991.3h0M1419.6 890.2h0M1519.5 937.7h0M1505.7 950.0h0"/>
<path class="p" stroke="#2c718e" d="M1598.8 1093.0h0M1424.4 870.4h0M1526.2 962.3h0M1494.2 935.2h0M1441.8 899.5h0M1491.8 905.7h0M1571.7 984.5h0M1513.1 948.8h0M1432.3 904.0h0M1570.5 1051.0h0M1575.0 979.9h0M1385.6 876.3h0M1448.2 903.9h0M1505.2 941.6h0M1478.9 914.9h0"/>
<path class="p" stroke="#2a788e" d="M1483.2 925.4h0M1544.3 978.2h0M1449.2 882.2h0M1510.1 947.7h0M1502.0 919.6h0M1491.8 925.9h0M1591.8 1089.7h0M1433.9 891.7h0M1464.7 914.6h0"/>
<path class="p" stroke="#277f8e" d="M1446.2 897.2h0M1512.7 945.3h0M1371.6 843.7h0M1512.9 943.6h0M1420.5 865.9h0M1531.7 944.0h0"/>
<path class="p" stroke="#24868e" d="M1428.5 875.8h0M1476.0 887.8h0M1547.7 973.5h0M1528.9 948.4h0M1448.4 887.9h0M1428.4 892.7h0M1545.4 972.3h0M1534.7 953.7h0M1346.1 853.7h0M1576.2 1042.2h0M1566.5 974.7h0"/>
<path class="p" stroke="#228d8d" d="M1497.3 918.3h0M1401.6 868.4h0M1494.9 904.8h0M1435.1 889.8h0M1500.3 897.7h0M1493.0 908.8h0M1498.6 914.3h0M1379.6 855.9h0M1521.4 945.3h0M1607.9 1076.5h0M1334.1 847.1h0"/>
<path class="p" stroke="#20938c" d="M1500.4 895.9h0M1384.6 851.4h0M1486.5 915.0h0M1517.8 933.2h0M1599.9 1104.0h0M1513.1 914.6h0M1399.8 868.7h0"/>
<path class="p" stroke="#1f9a8a" d="M1352.2 836.5h0M1460.0 892.3h0M1403.9 869.8h0M1563.7 991.1h0M1574.0 1003.8h0M1578.9 1007.4h0M1562.1 968.2h0M1512.3 933.8h0"/>
<path class="p" stroke="#1fa187" d="M1461.9 896.0h0M1388.3 848.7h0M1570.3 986.6h0M1474.4 889.2h0M1532.9 954.8h0M1466.5 887.9h0"/>
<path class="p" stroke="#22a884" d="M1396.1 864.6h0M1441.8 879.9h0M1525.0 933.4h0M1527.7 931.2h0M1525.7 929.7h0"/>
<path class="p" stroke="#28ae80" d="M1564.2 970.0h0M1567.2 963.1h0M1430.0 875.2h0M1437.7 854.9h0M1452.4 861.0h0M1569.0 981.7h0"/>
<path class="p" stroke="#32b67a" d="M1522.6 915.2h0M1429.1 873.5h0M1479.5 888.1h0M1595.9 1035.5h0M1592.4 1024.1h0M1613.7 1049.1h0M1470.5 881.6h0M1567.9 976.4h0M1477.2 900.6h0M1480.4 898.8h0"/>
<path class="p" stroke="#3dbc74" d="M1552.4 957.0h0"/>
<path class="p" stroke="#4ac16d" d="M1487.7 893.3h0M1480.9 893.1h0M1510.3 916.9h0M1523.5 892.0h0"/>
<path class="p" stroke="#5ac864" d="M1582.2 989.1h0M1430.4 854.4h0M1513.2 891.0h0M1455.6 861.0h0M1582.2 980.1h0"/>
<path class="p" stroke="#69cd5b" d="M1616.4 1034.8h0M1535.6 925.9h0"/>
<path class="p" stroke="#7ad151" d="M1421.2 852.4h0M1549.6 893.6h0M1417.2 835.0h0M1528.8 902.8h0M1477.7 893.7h0M1492.1 864.4h0"/>
<path class="p" stroke="#8ed645" d="M1363.7 825.5h0M1538.3 918.7h0M1628.9 1069.5h0M1463.9 866.2h0M1542.3 933.2h0M1550.6 940.9h0M1543.1 930.6h0M1551.5 936.3h0"/>
<path class="p" stroke="#a0da39" d="M1562.2 938.3h0M1481.4 880.9h0M1546.4 914.4h0M1521.2 895.0h0M1476.8 875.2h0M1557.0 947.4h0"/>
<path class="p" stroke="#b2dd2d" d="M1508.5 896.4h0M1586.8 952.7h0M1424.6 843.4h0M1514.9 907.3h0M1536.7 922.1h0"/>
<path class="p" stroke="#c8e020" d="M1590.1 945.0h0M1452.4 869.5h0M1520.2 904.6h0M1501.8 885.6h0M1536.3 914.3h0M1590.7 977.0h0"/>
<path class="p" stroke="#dae319" d="M1569.0 915.0h0M1523.5 948.7h0M1586.6 958.9h0M1531.2 904.1h0"/>
<path class="p" stroke="#ece51b" d="M1596.1 985.0h0M1591.7 963.9h0M1545.3 913.4h0"/>
<path class="p" stroke="#fde725" d="M1577.5 898.5h0M1605.6 928.9h0M1628.7 992.7h0M1568.0 934.9h0M1571.7 873.0h0M1482.8 851.0h0M1585.6 890.4h0M1601.8 923.9h0M1607.5 919.2h0M1589.7 936.4h0M1590.9 910.3h0M1512.2 876.9h0M1614.6 1000.7h0M1626.9 1006.4h0M1627.2 1005.4h0M1601.5 934.1h0M1522.8 875.6h0M1525.8 908.6h0M1550.6 862.7h0M1583.7 883.5h0M1519.4 898.3h0M1482.8 831.6h0M1548.6 899.9h0M1428.9 847.8h0M1450.1 850.6h0M1631.5 953.5h0M1609.1 929.4h0M1433.4 813.5h0M1562.7 904.3h0M1436.5 851.1h0M1505.6 889.2h0M1580.3 900.5h0M1529.3 896.0h0M1554.9 880.2h0M1557.0 877.1h0M1571.2 920.9h0M1442.9 836.4h0M1528.2 857.4h0M1613.1 980.1h0M1540.1 887.9h0M1574.7 862.6h0M1578.0 928.0h0M1634.1 1004.3h0M1558.4 916.0h0M1583.5 922.6h0M1583.4 904.3h0M1521.7 874.8h0M1568.3 880.7h0M1497.9 880.0h0M1621.9 966.6h0M1587.2 936.2h0M1565.5 877.8h0M1579.2 895.5h0M1441.1 847.0h0M1505.4 880.8h0M1518.5 865.9h0M1579.6 939.3h0M1499.4 888.5h0M1556.1 872.5h0M1597.6 978.9h0M1565.8 903.2h0M1611.0 929.1h0M1600.4 937.8h0M1343.3 806.7h0M1356.8 817.6h0M1543.1 881.1h0M1403.1 843.7h0M1589.4 904.3h0M1517.2 860.5h0M1618.6 962.3h0M1515.7 860.4h0M1512.2 873.1h0M1566.5 919.8h0M1607.7 950.7h0M1599.4 949.6h0M1516.3 855.1h0M1532.1 890.7h0M1562.1 910.8h0M1499.0 879.6h0M1573.2 878.7h0M1574.7 909.5h0M1549.9 873.6h0M1552.9 922.3h0M1559.5 929.4h0M1443.1 844.7h0M1605.7 989.0h0M1614.0 1000.0h0M1625.8 975.3h0"/>
<path class="p" stroke="#440154" d="M1462.0 997.5h0M1340.7 948.6h0M1447.2 995.9h0M1371.1 950.0h0M1374.2 942.3h0M1321.0 909.3h0M1280.4 902.9h0M1423.8 976.4h0M1377.5 929.3h0M1388.8 963.9h0M1274.6 902.8h0M1475.1 989.9h0M1272.2 897.6h0M1455.0 1009.4h0M1460.3 1042.3h0M1285.3 891.0h0M1415.5 980.5h0M1437.8 1007.7h0M1475.1 1081.5h0M1346.9 944.5h0"/>
<path class="p" stroke="#460b5e" d="M1502.4 980.9h0M1449.0 999.5h0M1263.0 868.5h0M1387.2 949.5h0M1357.0 940.8h0M1451.0 1000.6h0M1451.1 1002.5h0M1439.9 980.0h0M1447.5 1026.7h0M1465.5 1031.6h0M1341.6 935.3h0M1372.2 955.7h0M1422.4 989.4h0M1331.9 923.1h0M1370.2 931.9h0M1437.0 970.6h0M1341.1 924.1h0M1474.6 1079.1h0M1429.7 927.9h0M1417.7 962.1h0M1352.3 938.0h0M1477.8 1035.4h0M1422.1 956.8h0M1355.2 906.5h0M1411.1 961.4h0M1348.3 941.1h0M1346.5 909.1h0M1264.5 884.9h0M1402.9 964.8h0M1414.7 973.6h0M1459.7 1017.5h0M1468.3 1020.8h0M1460.6 986.2h0M1349.1 927.7h0M1274.9 899.0h0M1453.1 980.0h0M1327.3 927.1h0M1284.5 891.8h0M1437.9 986.5h0M1402.8 928.5h0M1340.9 915.5h0M1437.7 988.5h0M1388.2 931.7h0"/>
<path class="p" stroke="#481668" d="M1378.0 935.8h0M1485.6 1022.3h0M1404.9 965.0h0M1492.6 944.2h0M1473.4 1022.3h0M1374.5 931.0h0M1420.0 957.8h0M1320.9 910.5h0M1375.2 932.8h0M1536.6 1089.3h0M1404.4 940.1h0M1427.9 975.6h0M1391.6 953.7h0M1401.3 954.4h0M1325.4 896.3h0M1428.3 972.5h0M1480.1 1103.0h0M1479.7 1028.1h0M1395.6 961.0h0M1333.4 919.9h0M1426.7 941.3h0M1356.8 910.8h0M1444.1 985.9h0M1399.2 943.3h0M1297.9 899.7h0M1454.8 1003.7h0M1421.2 973.0h0M1540.5 1072.0h0M1409.4 916.3h0M1486.4 1118.1h0M1384.8 925.2h0M1514.1 1086.3h0M1448.1 991.2h0"/>
<path class="p" stroke="#481f70" d="M1296.9 899.1h0M1449.8 936.6h0M1381.4 923.1h0M1503.0 1013.0h0M1460.0 992.1h0M1498.6 1049.3h0M1503.0 1028.7h0M1273.6 882.9h0M1503.0 1099.3h0M1465.6 987.9h0M1429.5 948.9h0M1369.5 912.4h0M1398.9 933.7h0M1431.0 955.4h0M1421.5 938.8h0M1349.1 916.4h0M1330.9 893.7h0M1465.3 994.8h0M1377.7 896.6h0M1378.1 930.8h0M1436.6 934.7h0M1502.2 1085.8h0M1484.9 1029.1h0M1361.2 919.6h0M1497.4 982.5h0M1423.2 929.8h0M1445.4 982.8h0"/>
<path class="p" stroke="#482979" d="M1465.7 935.8h0M1522.2 1031.1h0M1398.8 892.4h0M1486.1 965.3h0M1275.3 861.5h0M1353.3 900.5h0M1408.1 937.8h0M1381.3 898.5h0M1498.9 1013.4h0M1421.8 922.2h0M1319.3 880.4h0M1433.5 944.6h0M1510.9 1000.8h0M1402.4 919.4h0M1365.0 904.7h0M1332.7 866.1h0M1482.6 968.4h0M1442.8 939.9h0M1436.5 951.8h0M1523.5 1022.9h0M1539.4 1062.3h0M1456.7 974.3h0M1364.9 909.1h0M1414.3 923.8h0M1403.6 943.9h0M1499.8 982.6h0M1459.9 977.8h0M1463.1 980.9h0M1458.3 956.7h0M1430.3 946.0h0M1492.9 994.0h0M1490.7 975.7h0M1353.7 887.0h0M1281.6 872.6h0M1521.4 1018.5h0M1434.3 952.0h0M1420.8 948.0h0"/>
<path class="p" stroke="#46327e" d="M1483.5 971.3h0M1360.7 908.5h0M1522.9 1052.1h0M1399.0 918.9h0M1439.7 932.1h0M1518.0 1026.9h0M1412.0 924.0h0M1407.6 902.0h0M1495.2 970.3h0M1307.4 868.1h0M1472.1 950.5h0M1525.1 1109.3h0M1505.2 1015.2h0M1496.9 989.9h0M1506.2 989.7h0M1545.4 1034.8h0M1506.9 1017.4h0M1479.4 982.7h0M1383.5 891.8h0M1314.8 868.9h0M1445.3 891.9h0M1410.0 893.4h0M1385.6 916.7h0M1469.2 972.0h0M1329.7 870.6h0M1402.3 891.0h0M1280.6 857.2h0M1535.2 976.9h0M1403.2 913.8h0M1361.6 894.1h0M1262.3 866.1h0M1484.3 971.8h0M1512.1 998.0h0M1369.5 909.3h0M1366.4 881.1h0"/>
<path class="p" stroke="#443a83" d="M1534.2 1021.5h0M1371.7 885.6h0M1381.6 911.5h0M1415.7 924.0h0M1378.1 912.4h0M1427.9 927.4h0M1499.1 933.4h0M1343.6 883.4h0M1380.4 908.4h0M1547.6 1063.2h0M1381.0 899.7h0M1498.9 930.0h0M1532.4 1089.6h0M1332.1 877.0h0M1508.8 998.1h0M1374.0 880.0h0M1560.0 1051.2h0M1540.2 1009.8h0M1477.6 889.8h0M1495.1 995.7h0M1353.4 883.3h0M1488.4 961.8h0M1508.6 1010.8h0M1330.2 857.0h0M1439.6 928.7h0M1404.6 918.5h0M1521.7 998.8h0M1454.3 947.0h0M1487.5 947.9h0"/>
<path class="p" stroke="#414487" d="M1534.9 1021.2h0M1517.9 970.9h0M1529.3 972.6h0M1501.9 956.5h0M1540.8 1064.7h0M1449.0 923.9h0M1489.7 934.2h0M1306.0 854.0h0M1457.2 938.5h0M1521.5 1022.4h0M1478.0 947.6h0M1505.8 981.9h0M1416.0 918.0h0M1543.3 1070.4h0M1522.0 1052.3h0M1416.6 913.4h0M1350.5 873.5h0M1453.5 920.3h0M1511.1 983.1h0M1377.2 891.9h0M1512.1 1002.0h0M1470.7 943.3h0M1495.2 957.7h0M1315.5 882.0h0"/>
<path class="p" stroke="#3e4c8a" d="M1499.8 953.5h0M1415.7 911.5h0M1467.0 935.0h0M1515.0 954.2h0M1393.4 884.2h0M1536.4 1049.3h0M1432.9 906.3h0M1520.9 1012.6h0M1393.6 876.4h0M1486.0 917.0h0M1371.5 871.8h0M1384.4 900.7h0"/>
<path class="p" stroke="#3a538b" d="M1418.9 911.2h0M1429.4 918.7h0M1342.2 863.1h0M1437.3 890.3h0M1527.5 1007.0h0M1492.6 955.4h0M1425.8 912.3h0M1383.6 901.1h0M1417.4 906.5h0M1330.8 855.6h0"/>
<path class="p" stroke="#365c8d" d="M1563.4 1000.5h0M1567.5 1046.3h0M1418.5 909.3h0M1426.7 902.3h0M1548.9 1030.5h0M1295.1 856.8h0M1434.7 901.4h0M1445.3 900.1h0M1365.7 872.2h0M1382.1 887.6h0M1489.9 949.8h0M1452.5 924.1h0M1500.7 938.9h0"/>
<path class="p" stroke="#33638d" d="M1504.0 957.7h0M1370.2 874.6h0M1513.2 966.1h0M1454.1 901.2h0M1403.2 884.9h0M1566.3 1074.4h0M1563.5 1075.2h0M1446.1 889.1h0M1319.0 851.6h0M1530.7 983.1h0M1474.7 925.9h0M1490.7 944.4h0M1376.3 884.5h0"/>
<path class="p" stroke="#306a8e" d="M1435.2 905.3h0M1513.6 954.1h0M1390.7 861.5h0M1519.9 918.8h0M1390.3 886.1h0M1377.5 861.5h0M1527.5 969.2h0M1530.6 978.5h0M1598.2 1107.0h0M1572.4 1000.8h0M1514.2 953.1h0M1298.4 854.4h0"/>
<path class="p" stroke="#2c718e" d="M1588.5 1049.8h0M1362.8 854.2h0M1524.0 947.0h0M1527.1 967.7h0M1517.0 960.5h0M1474.0 924.0h0M1467.0 908.2h0M1493.4 936.3h0M1506.0 935.4h0M1479.9 924.8h0M1536.7 984.5h0M1618.7 1028.1h0M1528.5 972.8h0M1453.7 897.3h0"/>
<path class="p" stroke="#2a788e" d="M1480.8 902.3h0M1403.4 856.3h0M1522.9 934.0h0M1590.2 1063.6h0M1366.3 863.5h0M1574.3 1016.2h0M1520.3 948.6h0M1587.1 966.9h0M1553.7 980.5h0M1550.2 966.4h0M1523.4 942.4h0"/>
<path class="p" stroke="#277f8e" d="M1375.2 852.5h0M1549.9 965.3h0M1590.8 1068.9h0M1385.4 866.9h0M1492.2 914.4h0M1504.6 921.6h0M1404.7 871.6h0"/>
<path class="p" stroke="#24868e" d="M1533.6 963.6h0M1497.1 915.5h0M1474.8 903.5h0M1481.5 914.4h0M1499.5 924.4h0M1560.5 979.3h0M1398.7 871.2h0M1512.0 940.2h0M1513.4 942.9h0M1542.6 962.4h0"/>
<path class="p" stroke="#228d8d" d="M1523.1 951.7h0M1473.8 886.3h0M1542.5 960.1h0M1462.1 871.7h0M1458.5 900.1h0M1408.1 874.3h0M1601.5 1072.5h0M1548.6 981.9h0M1533.3 939.0h0"/>
<path class="p" stroke="#20938c" d="M1520.9 947.8h0M1511.4 938.8h0M1457.4 890.0h0M1493.3 924.2h0M1532.4 957.5h0M1429.8 886.2h0M1536.8 949.9h0M1386.8 863.8h0M1427.6 887.7h0M1326.9 837.4h0"/>
<path class="p" stroke="#1f9a8a" d="M1467.9 888.6h0M1569.0 993.5h0M1449.3 881.4h0M1557.6 984.3h0M1556.5 978.0h0M1449.2 878.7h0M1475.6 889.1h0"/>
<path class="p" stroke="#1fa187" d="M1586.4 1027.5h0M1481.9 897.3h0M1411.3 873.9h0M1389.8 865.0h0"/>
<path class="p" stroke="#22a884" d="M1480.9 908.5h0M1513.8 924.7h0M1495.4 902.2h0M1601.9 994.7h0M1444.6 889.2h0M1529.1 943.4h0"/>
<path class="p" stroke="#28ae80" d="M1543.8 958.2h0M1407.4 864.4h0M1459.0 876.9h0M1529.1 931.3h0M1474.7 904.0h0M1578.9 952.7h0M1550.3 965.6h0"/>
<path class="p" stroke="#32b67a" d="M1596.8 1031.7h0M1415.5 856.5h0M1420.9 859.2h0M1393.3 843.7h0M1571.1 980.8h0M1582.5 1001.5h0M1490.7 896.8h0M1624.1 1038.8h0"/>
<path class="p" stroke="#3dbc74" d="M1541.7 946.1h0M1382.4 839.0h0M1537.9 942.4h0M1506.0 901.5h0"/>
<path class="p" stroke="#4ac16d" d="M1566.6 953.5h0M1368.0 838.2h0M1559.5 961.6h0M1446.8 865.5h0"/>
<path class="p" stroke="#5ac864" d="M1554.6 937.7h0M1508.5 898.4h0M1577.4 969.1h0M1466.6 874.1h0M1496.6 898.6h0M1459.0 871.6h0"/>
<path class="p" stroke="#69cd5b" d="M1541.8 892.9h0M1627.2 1075.8h0M1456.5 873.3h0"/>
<path class="p" stroke="#7ad151" d="M1585.6 981.7h0M1546.8 915.0h0M1548.2 930.9h0"/>
<path class="p" stroke="#8ed645" d="M1538.2 911.7h0M1499.5 899.1h0M1524.6 918.5h0M1581.9 959.1h0M1576.9 966.7h0"/>
<path class="p" stroke="#a0da39" d="M1513.3 885.2h0M1546.9 907.7h0M1532.6 923.2h0M1482.3 883.3h0M1517.1 899.0h0M1581.1 953.3h0M1407.1 842.4h0M1444.1 854.5h0"/>
<path class="p" stroke="#b2dd2d" d="M1358.9 836.2h0M1581.9 955.7h0M1525.8 917.8h0M1439.1 867.0h0"/>
<path class="p" stroke="#c8e020" d="M1532.8 913.2h0M1531.6 902.4h0M1436.2 857.5h0"/>
<path class="p" stroke="#dae319" d="M1466.3 858.6h0M1574.8 943.8h0M1402.2 850.4h0M1443.5 875.4h0M1343.8 818.7h0M1513.3 892.0h0M1527.5 862.3h0"/>
<path class="p" stroke="#ece51b" d="M1486.6 872.1h0M1533.8 893.3h0"/>
<path class="p" stroke="#fde725" d="M1521.3 849.5h0M1533.0 864.0h0M1522.4 887.8h0M1550.3 887.9h0M1605.3 973.8h0M1571.9 878.8h0M1607.7 937.4h0M1558.5 891.3h0M1632.5 1016.5h0M1588.8 888.9h0M1586.1 893.9h0M1552.4 889.9h0M1409.1 815.7h0M1447.6 856.4h0M1576.6 894.8h0M1603.5 912.6h0M1619.5 949.1h0M1569.5 899.8h0M1609.5 986.3h0M1495.3 862.2h0M1539.9 850.3h0M1407.7 847.2h0M1527.6 853.4h0M1410.7 830.2h0M1403.1 825.9h0M1564.0 925.4h0M1625.5 899.9h0M1545.5 903.4h0M1550.6 907.7h0M1620.4 947.5h0M1454.9 840.0h0M1543.0 900.8h0M1503.5 830.0h0M1420.4 870.7h0M1456.7 848.7h0M1591.4 968.1h0M1546.1 874.7h0M1464.2 828.9h0M1339.1 810.4h0M1588.5 956.9h0M1546.8 904.0h0M1532.8 909.4h0M1585.8 925.1h0M1565.8 887.0h0M1596.6 969.5h0M1567.3 926.0h0M1496.0 854.6h0M1614.4 905.0h0M1488.8 869.1h0M1533.5 889.9h0M1538.1 867.6h0M1513.6 852.9h0M1545.8 896.7h0M1514.5 886.5h0M1605.2 957.8h0M1580.6 896.9h0M1516.8 895.6h0M1524.2 884.9h0M1602.7 950.3h0M1559.9 892.4h0M1462.9 853.4h0M1554.9 925.8h0M1590.6 925.0h0M1555.3 895.7h0M1489.9 868.8h0M1571.8 914.3h0M1528.0 887.2h0M1604.8 924.3h0M1633.7 1048.4h0M1608.9 898.2h0"/>
<path class="p" stroke="#440154" d="M1453.8 980.8h0M1513.3 998.1h0M1487.3 1092.1h0M1343.8 942.2h0M1470.4 1087.6h0M1561.8 1097.7h0M1421.1 993.6h0M1305.6 912.1h0M1442.9 993.6h0M1456.7 1006.1h0M1414.4 984.9h0M1450.6 994.1h0M1468.1 1088.5h0M1450.1 951.4h0M1372.7 961.0h0"/>
<path class="p" stroke="#460b5e" d="M1411.6 961.0h0M1496.4 984.5h0M1264.5 885.4h0M1380.4 946.7h0M1470.3 1015.5h0M1502.3 1082.2h0M1319.7 893.7h0M1348.5 929.0h0M1476.1 1032.5h0M1313.9 900.2h0M1281.4 896.3h0M1326.3 919.1h0M1340.4 926.0h0M1373.4 930.7h0M1481.7 954.9h0M1305.0 904.7h0M1472.3 1051.2h0M1323.7 909.7h0M1350.7 943.8h0M1321.9 919.9h0M1456.4 1016.9h0M1509.5 1094.9h0M1472.8 949.4h0M1306.1 899.8h0M1401.3 933.0h0M1576.9 1129.1h0M1505.6 1046.9h0M1393.9 945.8h0M1379.0 960.8h0M1298.2 883.4h0M1298.7 906.6h0M1302.2 925.0h0M1466.1 1080.1h0M1482.6 1046.3h0M1477.4 982.2h0M1304.0 913.7h0M1474.6 1069.3h0M1344.7 915.6h0M1396.9 954.4h0M1342.0 937.5h0M1509.7 1088.9h0M1474.6 1021.1h0M1476.0 1122.3h0"/>
<path class="p" stroke="#481668" d="M1388.5 948.3h0M1520.4 1080.9h0M1368.2 939.4h0M1372.9 942.3h0M1476.0 1010.4h0M1286.6 884.3h0M1336.8 915.9h0M1383.2 934.2h0M1352.2 922.8h0M1446.7 985.1h0M1354.9 938.2h0M1407.1 960.8h0M1332.7 909.9h0M1397.3 918.9h0M1316.0 901.2h0M1375.2 936.2h0M1347.7 934.7h0M1435.2 965.0h0M1393.7 956.8h0M1423.1 945.6h0M1441.0 971.2h0M1379.2 928.6h0M1458.2 933.4h0M1414.5 959.3h0M1418.6 948.2h0M1515.9 984.3h0M1480.6 1066.0h0M1520.1 1040.9h0M1476.4 953.9h0M1389.0 928.6h0M1389.4 936.0h0M1501.9 1081.1h0M1368.7 933.6h0M1393.7 959.7h0M1293.9 894.1h0M1366.2 929.8h0M1300.1 903.4h0M1476.5 1073.8h0M1389.6 926.7h0M1340.7 915.7h0M1384.3 917.9h0M1438.7 933.9h0M1491.7 1020.7h0M1354.0 933.3h0M1337.0 925.1h0M1478.1 960.7h0"/>
<path class="p" stroke="#481f70" d="M1416.9 960.1h0M1476.4 952.1h0M1349.1 889.3h0M1438.3 942.1h0M1416.8 946.3h0M1475.3 1003.0h0M1496.2 1086.2h0M1458.1 962.4h0M1465.8 985.0h0M1434.7 971.3h0M1512.0 995.2h0M1513.1 1082.4h0M1358.7 921.0h0M1420.9 935.1h0M1431.6 970.6h0M1503.7 1030.1h0M1379.1 880.9h0M1503.2 1021.7h0M1388.9 911.6h0M1473.2 1017.0h0M1357.4 907.4h0M1541.6 1028.6h0M1352.8 911.2h0M1345.3 901.2h0M1280.2 895.3h0M1420.2 935.5h0M1510.1 1061.4h0M1465.5 978.6h0M1379.9 919.8h0M1431.8 951.3h0M1483.3 987.2h0M1352.6 923.0h0M1459.6 945.4h0M1525.8 1080.1h0M1295.8 873.9h0M1502.2 1006.9h0M1353.4 890.7h0M1518.9 1052.2h0M1499.6 1111.4h0"/>
<path class="p" stroke="#482979" d="M1353.9 908.2h0M1419.3 951.2h0M1502.1 1030.7h0M1316.7 881.2h0M1448.9 927.2h0M1500.5 1020.3h0M1283.7 873.6h0M1328.4 883.7h0M1434.9 940.9h0M1448.0 962.1h0M1270.1 858.5h0M1462.9 960.8h0M1261.4 872.3h0M1489.1 1002.1h0M1418.0 903.8h0M1495.6 1039.6h0M1485.1 1014.3h0M1358.8 905.0h0M1511.6 977.7h0M1344.7 888.3h0M1493.3 1017.2h0M1489.1 1009.0h0M1459.1 959.3h0M1503.3 1046.7h0M1471.6 961.0h0M1392.6 914.1h0M1466.3 937.0h0M1487.7 912.7h0M1483.2 991.4h0"/>
<path class="p" stroke="#46327e" d="M1437.7 943.0h0M1521.2 966.7h0M1374.9 897.1h0M1353.0 895.1h0M1361.1 902.5h0M1554.1 1009.4h0M1526.1 984.8h0M1511.4 1043.8h0M1509.5 1055.4h0M1369.2 896.7h0M1501.6 996.8h0M1481.9 969.1h0M1484.4 956.9h0M1415.3 931.5h0M1526.7 1105.2h0M1444.7 884.0h0M1520.0 1035.7h0M1500.6 1011.9h0M1369.4 910.1h0M1476.2 948.4h0M1385.5 902.7h0M1340.5 890.8h0M1480.8 970.8h0M1355.8 895.8h0M1420.6 920.2h0M1498.0 986.1h0M1299.2 875.7h0M1329.2 977.7h0M1388.2 916.0h0M1317.1 880.7h0"/>
<path class="p" stroke="#443a83" d="M1511.8 1011.9h0M1533.4 1043.2h0M1354.8 892.3h0M1463.2 934.1h0M1512.8 993.8h0M1431.7 939.0h0M1377.0 889.8h0M1568.6 1089.5h0M1368.8 892.2h0M1502.0 936.3h0M1506.8 993.4h0M1519.9 1031.2h0M1519.5 1028.6h0M1508.9 1004.1h0M1523.5 1051.5h0M1514.9 970.6h0M1340.0 893.1h0M1410.0 929.6h0M1524.1 1047.7h0M1344.1 888.0h0M1534.9 1039.1h0M1362.2 883.9h0M1466.0 956.3h0M1426.8 876.5h0M1521.7 1055.9h0"/>
<path class="p" stroke="#414487" d="M1561.2 1101.7h0M1412.2 928.4h0M1555.7 1043.7h0M1545.5 1033.1h0M1387.7 873.1h0M1351.2 874.2h0M1530.9 1049.7h0M1529.3 1003.9h0M1374.6 897.0h0M1520.9 1034.9h0M1475.9 944.9h0M1520.3 1014.3h0M1455.1 922.2h0M1444.3 916.8h0M1549.2 1016.8h0M1397.8 878.5h0"/>
<path class="p" stroke="#3e4c8a" d="M1418.9 920.7h0M1506.0 951.7h0M1395.8 879.5h0M1553.4 1077.2h0M1538.0 1064.7h0M1524.7 988.6h0M1346.8 871.4h0M1316.8 866.3h0M1480.2 948.0h0M1394.5 898.9h0M1418.4 915.2h0M1480.0 944.1h0M1440.5 921.2h0M1532.4 1002.6h0M1554.8 1078.1h0M1510.1 978.3h0M1462.6 941.1h0M1459.5 913.1h0M1524.3 933.0h0M1527.0 1025.5h0"/>
<path class="p" stroke="#3a538b" d="M1564.8 1062.3h0M1527.4 946.9h0M1367.1 890.6h0M1565.6 1106.9h0M1455.7 928.6h0M1438.3 910.4h0M1322.8 870.1h0M1453.2 916.5h0M1486.9 945.9h0M1558.7 1061.5h0M1476.1 942.1h0"/>
<path class="p" stroke="#365c8d" d="M1501.9 950.5h0M1466.4 930.2h0M1374.1 891.1h0M1530.1 999.6h0M1497.3 932.0h0M1519.4 986.6h0M1497.3 956.2h0"/>
<path class="p" stroke="#33638d" d="M1463.4 927.3h0M1382.8 882.5h0M1386.1 887.2h0M1397.5 881.2h0M1475.5 920.7h0M1576.4 1120.4h0M1501.7 946.6h0M1385.9 886.2h0M1573.9 1094.5h0M1503.4 952.1h0M1474.8 913.2h0M1444.8 911.8h0M1407.0 877.3h0M1431.3 891.3h0M1565.1 1013.6h0M1499.1 950.7h0"/>
<path class="p" stroke="#306a8e" d="M1466.4 920.7h0M1509.1 948.0h0M1369.9 872.1h0M1551.6 978.7h0M1513.8 937.3h0M1379.3 863.9h0M1483.1 888.9h0M1463.7 900.0h0M1453.9 910.4h0M1427.1 900.8h0M1407.8 888.1h0M1378.1 875.0h0M1530.8 958.1h0M1485.3 929.6h0M1498.9 933.1h0M1530.2 960.9h0M1458.1 911.6h0M1395.0 847.0h0"/>
<path class="p" stroke="#2c718e" d="M1455.6 870.5h0M1407.6 897.6h0M1457.6 894.0h0M1519.3 936.1h0M1580.9 1073.2h0M1499.5 945.3h0M1507.4 914.1h0M1333.2 846.8h0M1388.7 866.2h0M1576.8 1055.8h0M1327.3 855.4h0M1492.7 881.4h0M1456.4 896.1h0"/>
<path class="p" stroke="#2a788e" d="M1531.7 967.0h0M1465.1 905.7h0M1531.8 977.8h0M1508.0 935.2h0M1558.3 991.6h0"/>
<path class="p" stroke="#277f8e" d="M1505.9 933.9h0M1538.6 947.8h0M1446.3 870.9h0M1441.3 895.4h0M1476.1 892.2h0M1516.7 942.2h0M1486.4 915.3h0M1438.6 888.9h0M1373.8 872.2h0"/>
<path class="p" stroke="#24868e" d="M1457.0 896.1h0M1459.3 908.6h0M1529.2 955.7h0M1443.3 887.2h0M1452.0 901.4h0"/>
<path class="p" stroke="#228d8d" d="M1542.4 912.3h0M1433.6 883.4h0M1533.9 964.5h0M1567.4 1004.2h0"/>
<path class="p" stroke="#20938c" d="M1451.7 873.6h0M1537.7 947.1h0M1476.1 887.3h0M1406.9 853.0h0M1500.6 914.2h0M1605.8 1052.1h0M1452.4 886.3h0M1511.8 935.3h0M1588.7 1050.1h0M1347.8 848.7h0"/>
<path class="p" stroke="#1f9a8a" d="M1506.7 927.1h0M1494.6 903.0h0M1472.1 900.1h0M1538.8 952.9h0M1522.0 934.2h0M1511.2 915.6h0M1512.6 930.5h0M1608.6 980.0h0"/>
<path class="p" stroke="#1fa187" d="M1397.0 856.1h0M1452.6 878.7h0M1479.6 915.0h0M1528.0 937.7h0"/>
<path class="p" stroke="#22a884" d="M1512.3 921.9h0M1444.1 880.6h0M1429.2 872.3h0M1463.0 892.0h0M1548.0 962.0h0M1457.5 860.3h0"/>
<path class="p" stroke="#28ae80" d="M1567.5 954.8h0M1491.8 905.0h0M1529.2 933.0h0M1604.3 1031.0h0M1539.1 933.1h0M1567.5 971.4h0M1491.3 897.8h0M1601.5 1018.7h0M1576.2 983.2h0M1478.1 900.8h0M1491.8 907.5h0"/>
<path class="p" stroke="#32b67a" d="M1570.2 976.7h0M1452.5 862.8h0M1514.2 914.1h0M1433.0 850.5h0M1512.7 915.6h0"/>
<path class="p" stroke="#3dbc74" d="M1495.2 906.4h0M1420.7 874.0h0M1523.9 924.8h0M1519.4 894.5h0"/>
<path class="p" stroke="#4ac16d" d="M1510.9 913.0h0M1514.6 906.5h0M1602.3 987.8h0M1485.8 868.1h0M1498.9 907.1h0M1586.3 970.2h0M1490.9 894.5h0M1472.9 865.8h0"/>
<path class="p" stroke="#5ac864" d="M1546.5 936.7h0M1559.0 942.0h0M1431.6 849.0h0M1471.8 884.3h0M1510.1 871.9h0M1448.9 863.5h0M1446.9 863.7h0"/>
<path class="p" stroke="#69cd5b" d="M1579.3 978.9h0M1499.6 904.5h0M1547.7 945.2h0"/>
<path class="p" stroke="#7ad151" d="M1496.2 863.3h0M1373.7 829.5h0"/>
<path class="p" stroke="#8ed645" d="M1465.7 870.5h0M1610.2 1010.6h0M1631.4 1072.8h0"/>
<path class="p" stroke="#a0da39" d="M1479.7 867.5h0M1519.5 912.0h0M1448.1 868.8h0M1572.7 954.0h0"/>
<path class="p" stroke="#b2dd2d" d="M1513.1 889.7h0"/>
<path class="p" stroke="#c8e020" d="M1492.9 872.8h0M1600.4 989.3h0"/>
<path class="p" stroke="#dae319" d="M1483.9 849.8h0M1523.6 915.7h0M1532.5 911.4h0M1451.8 860.5h0M1580.7 958.0h0"/>
<path class="p" stroke="#ece51b" d="M1560.0 917.2h0M1413.3 846.3h0M1552.3 926.4h0M1572.3 950.7h0M1356.5 808.7h0"/>
<path class="p" stroke="#fde725" d="M1473.0 851.5h0M1423.3 834.7h0M1544.3 903.9h0M1539.2 859.2h0M1488.4 853.5h0M1633.7 960.9h0M1552.3 893.0h0M1560.0 907.8h0M1626.0 914.6h0M1386.0 823.9h0M1493.5 857.6h0M1558.1 894.4h0M1582.1 933.4h0M1491.5 857.2h0M1544.2 906.3h0M1556.3 912.3h0M1621.3 972.9h0M1599.9 907.0h0M1588.1 887.1h0M1405.5 826.4h0M1616.1 955.4h0M1394.1 806.8h0M1629.8 933.7h0M1562.1 925.1h0M1499.7 866.6h0M1614.3 928.1h0M1634.9 994.9h0M1589.3 872.6h0M1536.0 873.3h0M1515.6 859.0h0M1577.9 881.4h0M1632.6 1007.0h0M1390.7 832.7h0M1521.0 884.2h0M1545.5 926.2h0M1441.0 850.8h0M1575.0 914.0h0M1543.2 907.2h0M1602.5 932.9h0M1578.7 909.1h0M1498.8 876.6h0M1530.7 895.9h0M1594.5 960.8h0M1452.1 842.9h0M1324.2 822.5h0M1527.7 889.3h0M1561.2 905.5h0M1526.1 892.9h0M1554.4 919.8h0M1437.7 836.4h0M1517.4 865.1h0M1548.1 889.6h0M1486.6 850.6h0M1632.6 1002.9h0M1522.6 893.4h0M1557.9 918.3h0M1519.8 870.6h0M1494.4 865.6h0M1596.3 898.9h0M1553.3 913.6h0M1394.1 816.8h0M1473.0 823.2h0M1483.2 866.3h0M1614.2 959.3h0M1403.1 840.7h0M1608.0 897.2h0M1474.2 860.1h0M1453.5 853.2h0M1412.6 837.4h0M1563.2 902.4h0M1582.0 928.9h0M1505.9 885.1h0M1561.1 924.9h0M1582.6 898.2h0M1618.5 988.3h0M1448.3 848.1h0M1607.2 961.3h0M1556.1 895.7h0M1597.0 929.7h0M1514.1 853.0h0M1571.9 912.8h0"/>
<path class="p" stroke="#440154" d="M1300.2 921.6h0M1451.3 1033.1h0M1368.5 956.0h0M1323.8 916.7h0M1356.0 951.3h0M1367.4 947.2h0M1332.1 947.2h0M1317.4 923.9h0M1388.3 968.2h0M1278.4 914.6h0M1354.8 939.8h0M1441.6 1001.8h0M1340.7 934.1h0M1348.0 971.2h0M1278.7 905.0h0M1422.6 976.7h0M1317.1 924.3h0M1395.9 956.9h0M1474.1 1031.1h0M1404.5 978.9h0M1357.7 924.1h0M1449.1 995.5h0"/>
<path class="p" stroke="#460b5e" d="M1334.2 928.0h0M1272.9 883.2h0M1455.1 1006.2h0M1472.3 1053.3h0M1343.5 907.8h0M1301.0 901.2h0M1467.3 976.7h0M1485.9 1095.0h0M1273.9 871.2h0M1341.5 895.5h0M1474.8 1024.2h0M1344.9 934.2h0M1357.0 939.7h0M1469.1 1098.1h0M1416.2 980.3h0M1354.5 926.6h0M1470.0 1050.5h0M1455.4 985.2h0M1492.5 1016.5h0M1370.5 946.6h0M1493.8 1028.3h0M1483.0 1105.5h0M1369.6 951.3h0M1471.8 1068.2h0M1415.9 981.7h0M1435.4 989.1h0M1361.7 951.2h0M1359.3 948.9h0M1339.8 907.3h0M1522.3 1078.0h0M1443.6 983.8h0M1346.9 931.4h0M1470.8 1003.1h0M1379.1 959.5h0M1493.5 971.0h0M1516.1 1126.0h0M1316.8 917.1h0M1453.8 1006.6h0M1460.1 959.7h0M1349.0 932.8h0M1397.8 970.2h0"/>
<path class="p" stroke="#481668" d="M1326.3 918.5h0M1373.5 948.7h0M1532.5 1054.5h0M1368.2 912.9h0M1333.8 921.6h0M1285.7 885.1h0M1403.0 958.0h0M1342.8 916.4h0M1410.7 938.3h0M1426.1 969.6h0M1396.8 876.9h0M1413.5 964.9h0M1455.8 943.5h0M1419.4 952.7h0M1502.0 1032.2h0M1498.4 976.5h0M1372.9 933.5h0M1380.8 945.5h0M1484.4 1003.8h0M1370.2 926.6h0M1478.7 1085.2h0M1300.8 882.2h0M1445.0 987.8h0M1352.8 859.3h0M1425.1 988.8h0M1348.3 921.7h0M1303.8 894.9h0M1310.5 885.8h0M1421.5 941.3h0M1523.8 1099.4h0M1471.0 943.9h0M1474.5 1010.0h0M1523.1 1027.1h0M1348.2 911.7h0"/>
<path class="p" stroke="#481f70" d="M1530.8 1111.1h0M1400.2 954.2h0M1360.4 901.2h0M1491.8 1059.1h0M1511.3 994.0h0M1283.8 880.3h0M1384.0 920.6h0M1484.0 961.6h0M1479.2 973.1h0M1482.8 982.0h0M1370.7 926.6h0M1425.2 909.7h0M1449.7 946.2h0M1503.0 994.0h0M1516.6 1063.0h0M1493.6 1061.9h0M1483.4 1016.5h0M1501.8 1104.3h0M1329.7 901.2h0M1482.4 1003.8h0M1509.4 1099.6h0M1428.3 958.8h0M1513.7 1009.8h0M1328.0 907.1h0M1466.1 966.3h0M1352.7 910.6h0M1271.8 862.2h0M1442.2 962.1h0M1414.0 945.2h0M1429.3 945.5h0M1360.6 929.8h0M1463.9 971.4h0M1362.7 920.0h0M1483.4 1022.9h0M1492.0 1013.3h0M1494.9 1100.5h0M1478.7 1002.9h0"/>
<path class="p" stroke="#482979" d="M1411.3 942.5h0M1488.3 987.0h0M1491.9 1058.9h0M1448.3 940.3h0M1406.4 915.5h0M1444.7 955.1h0M1369.6 888.6h0M1355.1 900.3h0M1492.0 1044.9h0M1359.8 919.0h0M1368.9 911.6h0M1500.9 1028.5h0M1468.2 979.5h0M1382.6 895.6h0M1507.8 1009.9h0M1497.9 1024.6h0M1345.8 904.6h0M1526.4 1049.9h0M1518.1 1027.0h0M1503.9 1070.7h0M1499.6 1040.5h0M1501.4 970.2h0M1368.4 901.3h0M1378.9 909.8h0M1397.2 898.2h0M1418.4 937.4h0M1370.4 907.2h0M1382.2 932.0h0M1538.8 1014.6h0M1404.9 900.9h0M1278.8 874.3h0M1355.2 911.2h0M1491.0 958.6h0M1502.7 1011.3h0M1371.9 914.8h0M1516.5 1004.9h0M1527.0 1088.4h0M1426.1 946.5h0M1409.0 945.9h0M1490.9 997.9h0M1320.7 901.4h0M1495.1 978.1h0M1478.0 955.3h0M1436.2 933.3h0"/>
<path class="p" stroke="#46327e" d="M1485.5 975.4h0M1350.7 867.1h0M1388.5 916.7h0M1361.9 895.0h0M1414.5 917.4h0M1471.1 960.7h0M1497.0 927.9h0M1291.9 857.3h0M1343.4 880.4h0M1396.7 926.0h0M1332.3 885.8h0M1466.9 967.4h0M1344.4 897.1h0M1454.5 941.3h0M1323.0 870.5h0M1426.9 926.0h0M1521.0 1069.0h0M1366.3 908.4h0M1474.3 928.1h0M1432.6 933.0h0M1346.9 888.4h0M1453.7 956.3h0"/>
<path class="p" stroke="#443a83" d="M1389.1 881.0h0M1423.2 926.9h0M1456.2 950.8h0M1509.1 996.4h0M1485.7 973.5h0M1493.2 965.2h0M1404.1 899.1h0M1372.4 881.3h0M1509.4 982.2h0M1477.5 945.9h0M1396.5 919.1h0M1299.6 876.6h0M1519.5 984.0h0M1360.5 901.3h0M1524.9 1044.3h0M1380.9 882.2h0M1494.5 975.7h0M1381.8 908.5h0M1474.1 945.3h0M1551.4 1007.7h0M1334.3 864.0h0M1433.5 924.9h0M1327.6 880.5h0M1473.3 947.5h0M1435.2 929.1h0M1446.8 941.5h0M1305.0 878.6h0M1346.4 879.1h0M1533.8 1054.3h0M1509.2 995.9h0"/>
<path class="p" stroke="#414487" d="M1530.3 1005.7h0M1345.1 892.7h0M1523.3 1022.3h0M1463.4 938.1h0M1536.9 1057.0h0M1463.2 899.8h0M1446.0 891.8h0M1482.7 958.7h0M1527.4 1051.6h0M1426.6 902.0h0M1472.3 945.9h0M1430.7 916.1h0M1511.7 987.1h0"/>
<path class="p" stroke="#3e4c8a" d="M1573.6 1081.5h0M1516.9 966.8h0M1427.7 924.5h0M1528.3 1003.0h0M1540.5 1025.2h0M1420.9 912.2h0M1486.4 953.5h0M1552.6 1087.2h0M1505.0 968.5h0M1368.0 873.9h0M1482.9 942.0h0M1402.6 904.7h0M1538.5 1034.8h0M1434.0 929.7h0M1542.3 1049.6h0"/>
<path class="p" stroke="#3a538b" d="M1374.3 892.8h0M1478.4 921.4h0M1516.4 980.4h0M1546.6 1024.9h0M1467.2 917.4h0M1398.9 883.7h0M1318.8 846.9h0M1475.3 902.8h0M1464.1 936.5h0M1495.6 956.5h0M1303.5 847.0h0M1503.5 947.3h0M1423.5 906.1h0M1509.6 959.2h0M1518.7 977.4h0M1274.3 850.7h0M1555.3 1050.1h0M1421.0 901.6h0M1517.6 992.1h0"/>
<path class="p" stroke="#365c8d" d="M1532.0 982.5h0M1508.4 934.6h0M1463.1 910.6h0M1562.7 1027.9h0M1564.5 1034.7h0M1506.6 947.9h0M1277.4 841.9h0M1434.5 897.9h0M1469.4 934.8h0M1481.5 936.7h0M1547.8 1039.7h0M1480.2 936.2h0M1548.1 1037.3h0"/>
<path class="p" stroke="#33638d" d="M1424.5 893.2h0M1481.1 929.5h0M1408.3 901.6h0M1425.4 895.4h0M1528.2 969.8h0M1438.0 900.5h0M1550.5 1030.3h0M1525.3 974.5h0M1467.2 914.7h0M1468.5 918.0h0M1463.9 915.5h0M1483.4 941.4h0M1510.0 952.9h0M1571.5 1089.4h0M1353.0 864.6h0M1526.6 968.5h0"/>
<path class="p" stroke="#306a8e" d="M1557.3 1004.8h0M1371.3 851.8h0M1391.5 862.1h0M1575.1 1036.1h0M1490.5 927.8h0M1464.8 916.0h0M1404.7 883.8h0M1489.8 933.3h0M1508.7 953.7h0M1536.1 983.0h0M1415.2 895.2h0"/>
<path class="p" stroke="#2c718e" d="M1441.0 895.0h0M1535.9 948.3h0M1399.5 889.6h0M1456.7 912.6h0M1578.6 1076.8h0M1542.6 990.7h0M1593.5 1112.7h0M1525.3 960.5h0M1377.3 860.8h0M1498.8 934.2h0"/>
<path class="p" stroke="#2a788e" d="M1564.5 1026.5h0M1505.6 945.9h0M1394.1 873.0h0M1548.0 929.3h0M1561.7 1010.7h0M1568.7 1025.0h0M1498.4 935.7h0M1314.4 844.1h0M1578.8 1037.2h0M1562.1 980.8h0M1519.3 938.8h0"/>
<path class="p" stroke="#277f8e" d="M1573.4 1031.5h0M1446.4 890.0h0M1346.8 847.8h0M1525.4 955.7h0M1458.2 905.6h0M1411.6 881.2h0M1420.9 887.6h0M1545.9 974.3h0M1435.7 896.2h0M1490.7 921.5h0"/>
<path class="p" stroke="#24868e" d="M1480.6 904.6h0M1506.6 924.8h0M1604.7 1070.0h0M1394.3 860.9h0M1482.8 919.0h0M1458.4 868.9h0M1501.3 908.2h0M1505.0 930.0h0M1526.0 940.3h0M1439.6 887.3h0M1529.9 937.7h0"/>
<path class="p" stroke="#228d8d" d="M1463.7 884.3h0M1449.2 890.1h0M1384.4 866.1h0M1511.8 937.8h0"/>
<path class="p" stroke="#20938c" d="M1516.5 937.1h0M1578.3 976.5h0M1572.2 1001.1h0M1293.1 843.5h0M1503.4 924.0h0M1568.8 982.3h0"/>
<path class="p" stroke="#1f9a8a" d="M1590.2 1026.9h0M1554.0 973.4h0M1433.6 883.5h0M1565.9 969.0h0M1550.5 970.9h0"/>
<path class="p" stroke="#1fa187" d="M1442.8 874.2h0M1556.0 979.7h0M1481.2 896.8h0M1321.5 829.8h0"/>
<path class="p" stroke="#22a884" d="M1581.7 1011.5h0M1412.5 867.0h0M1489.7 879.9h0M1451.7 876.5h0"/>
<path class="p" stroke="#28ae80" d="M1391.2 843.6h0M1484.5 897.2h0M1543.8 951.8h0"/>
<path class="p" stroke="#32b67a" d="M1611.8 1070.8h0M1503.9 919.4h0M1496.3 905.9h0M1519.0 928.1h0M1532.8 948.5h0M1608.9 1044.9h0"/>
<path class="p" stroke="#3dbc74" d="M1480.4 888.1h0M1487.0 872.3h0M1550.9 960.2h0M1577.3 961.9h0"/>
<path class="p" stroke="#4ac16d" d="M1558.3 921.3h0M1557.7 943.7h0M1534.7 933.2h0M1558.1 943.6h0M1598.0 1009.9h0M1572.1 964.7h0"/>
<path class="p" stroke="#5ac864" d="M1610.7 1038.6h0M1528.0 919.1h0M1451.3 866.1h0M1535.1 936.3h0M1529.9 930.2h0M1497.7 894.8h0"/>
<path class="p" stroke="#69cd5b" d="M1524.6 931.2h0M1522.5 924.6h0M1456.1 878.1h0M1414.2 858.6h0M1583.5 971.5h0"/>
<path class="p" stroke="#7ad151" d="M1566.8 963.2h0M1531.9 933.0h0"/>
<path class="p" stroke="#8ed645" d="M1588.8 983.2h0M1506.4 898.6h0M1402.1 848.1h0M1358.1 840.4h0"/>
<path class="p" stroke="#a0da39" d="M1563.1 943.1h0M1346.0 835.8h0M1567.1 948.3h0M1531.2 911.6h0M1494.6 889.4h0M1350.0 818.3h0M1415.3 843.8h0M1584.5 976.3h0M1596.9 911.6h0"/>
<path class="p" stroke="#b2dd2d" d="M1605.5 989.3h0M1583.4 949.8h0M1529.8 913.7h0M1513.4 908.8h0M1555.6 945.3h0"/>
<path class="p" stroke="#c8e020" d="M1613.5 1010.6h0M1635.8 1005.2h0M1475.3 862.2h0M1475.8 855.7h0"/>
<path class="p" stroke="#dae319" d="M1497.1 886.5h0M1608.3 955.0h0M1585.9 953.0h0M1456.3 874.9h0M1629.4 1016.8h0M1553.3 931.6h0"/>
<path class="p" stroke="#ece51b" d="M1550.7 918.6h0M1555.1 909.1h0M1464.8 867.4h0M1508.4 886.8h0M1447.0 858.6h0"/>
<path class="p" stroke="#fde725" d="M1568.2 909.0h0M1441.8 854.1h0M1537.6 849.9h0M1449.3 850.3h0M1438.2 822.9h0M1599.4 969.5h0M1546.4 893.8h0M1479.5 845.4h0M1573.1 930.9h0M1517.6 858.8h0M1527.8 888.0h0M1380.5 827.1h0M1501.9 874.9h0M1477.3 852.2h0M1554.2 903.6h0M1559.7 877.8h0M1476.8 849.6h0M1507.3 869.6h0M1537.4 865.2h0M1434.0 824.1h0M1585.0 942.5h0M1490.6 865.6h0M1545.4 862.4h0M1609.6 947.0h0M1384.2 808.6h0M1529.6 866.2h0M1557.3 907.5h0M1591.2 907.0h0M1480.0 840.1h0M1479.4 842.5h0M1427.9 839.0h0M1559.0 895.8h0M1623.4 956.4h0M1611.0 972.2h0M1482.5 857.6h0M1424.5 824.6h0M1558.0 913.1h0M1598.5 918.2h0M1570.6 897.3h0M1504.1 863.3h0M1584.5 923.1h0M1503.2 859.6h0M1551.0 867.2h0M1557.7 866.5h0M1440.0 851.7h0M1463.2 853.4h0M1542.1 898.0h0M1462.1 839.1h0M1454.0 843.5h0M1548.4 887.5h0M1611.4 964.0h0M1497.8 847.1h0M1614.8 953.0h0M1598.7 919.7h0M1569.7 888.4h0M1369.1 815.2h0M1561.6 873.3h0M1479.1 865.4h0M1516.0 884.6h0M1475.9 847.7h0M1623.0 925.5h0M1615.5 925.6h0M1567.4 878.4h0M1550.9 917.1h0M1591.5 943.9h0M1492.7 853.3h0M1436.0 847.9h0M1548.8 950.5h0M1551.6 885.4h0M1483.9 852.4h0M1532.4 904.2h0M1550.8 887.9h0M1633.9 909.3h0"/>
<path class="p" stroke="#440154" d="M1456.5 1027.0h0M1292.2 921.7h0M1378.4 961.4h0M1430.1 997.8h0M1305.6 909.1h0M1369.9 943.9h0M1315.0 872.1h0M1298.3 918.9h0M1481.1 944.1h0M1401.5 978.4h0M1423.9 977.1h0M1331.4 917.0h0M1406.3 939.3h0M1378.3 938.6h0M1370.3 867.5h0M1281.2 888.6h0M1422.5 961.5h0"/>
<path class="p" stroke="#460b5e" d="M1491.6 1098.4h0M1321.3 890.1h0M1413.4 947.2h0M1427.2 978.3h0M1301.1 907.0h0M1405.6 933.4h0M1459.4 1000.5h0M1320.5 909.2h0M1338.0 931.6h0M1333.6 934.9h0M1423.7 950.9h0M1427.6 949.3h0M1349.9 931.9h0M1489.9 1021.5h0M1416.2 936.2h0M1351.2 945.6h0M1444.3 1011.0h0M1357.1 911.3h0M1423.0 985.3h0M1342.3 936.9h0M1339.8 914.8h0M1431.7 938.7h0M1462.7 960.0h0M1303.4 903.7h0M1397.9 910.1h0M1442.5 985.4h0M1446.0 1017.8h0M1460.1 1008.2h0M1302.4 893.2h0M1397.5 952.3h0M1367.4 930.7h0M1483.7 1052.8h0"/>
<path class="p" stroke="#481668" d="M1469.1 951.1h0M1278.5 892.1h0M1383.2 948.3h0M1473.0 1021.6h0M1495.9 1124.2h0M1452.5 991.6h0M1393.4 958.9h0M1545.4 1104.0h0M1365.5 890.5h0M1385.2 876.0h0M1382.1 951.6h0M1392.2 944.7h0M1345.8 896.1h0M1422.3 963.3h0M1433.8 985.4h0M1478.3 1036.7h0M1349.9 886.6h0M1430.3 969.5h0M1302.5 874.5h0M1375.2 928.0h0M1389.1 943.9h0M1425.0 973.6h0M1393.7 931.3h0M1379.6 943.5h0M1498.2 1023.2h0M1432.4 937.5h0M1371.1 936.1h0M1413.8 932.5h0M1485.9 1062.8h0M1462.6 937.0h0M1458.0 945.6h0M1263.7 858.2h0M1336.4 920.8h0M1261.2 885.3h0M1479.1 1052.2h0M1499.3 1061.9h0M1389.6 921.8h0M1484.9 1094.4h0M1332.1 917.5h0M1375.1 906.5h0M1347.4 913.5h0M1357.7 910.0h0M1392.8 928.7h0M1530.4 1115.6h0"/>
<path class="p" stroke="#481f70" d="M1358.2 923.3h0M1447.8 980.2h0M1500.8 1056.6h0M1478.7 1002.0h0M1390.9 942.0h0M1374.1 929.8h0M1393.6 925.1h0M1307.3 880.1h0M1489.2 1022.7h0M1457.2 974.3h0M1280.6 864.6h0M1313.6 877.3h0M1438.5 972.6h0M1500.7 1079.6h0M1400.1 882.5h0M1504.9 1107.0h0M1400.9 944.7h0M1412.7 947.6h0M1347.9 913.6h0M1418.8 942.7h0M1433.0 952.0h0M1409.7 938.1h0M1404.2 910.5h0M1397.2 950.8h0M1366.8 903.5h0M1424.9 964.9h0"/>
<path class="p" stroke="#482979" d="M1449.3 972.0h0M1422.4 948.8h0M1528.8 1067.2h0M1388.4 922.9h0M1352.1 876.1h0M1323.1 872.2h0M1510.7 982.1h0M1305.7 892.5h0M1387.6 928.0h0M1398.7 932.7h0M1436.5 944.1h0M1498.5 1013.6h0M1427.9 930.7h0M1511.9 1130.0h0M1448.1 937.1h0M1495.5 1024.4h0M1420.4 947.0h0M1468.8 959.3h0M1495.1 973.7h0M1520.6 1123.6h0M1343.4 893.4h0M1493.2 973.3h0M1496.5 1024.3h0M1363.4 913.2h0M1506.6 986.6h0M1480.4 998.5h0M1416.4 938.8h0M1328.6 883.7h0M1308.5 849.1h0M1446.4 934.7h0M1508.6 1021.1h0M1424.7 944.9h0M1493.9 1008.6h0M1491.6 998.8h0M1486.7 1007.8h0M1490.6 1030.0h0M1505.5 1064.0h0M1495.7 1029.8h0M1364.1 885.2h0M1285.1 883.8h0M1485.6 985.4h0"/>
<path class="p" stroke="#46327e" d="M1411.5 925.1h0M1502.7 995.0h0M1513.1 1010.2h0M1349.0 897.4h0M1476.0 981.7h0M1455.1 948.6h0M1460.5 944.4h0M1443.4 954.8h0M1311.3 871.6h0M1386.2 914.5h0M1391.3 920.3h0M1504.0 972.0h0M1475.0 972.9h0M1345.8 888.6h0M1457.1 946.7h0M1366.1 893.5h0M1300.2 876.6h0M1446.3 952.9h0M1366.0 910.4h0M1503.6 986.4h0M1520.3 1080.6h0M1452.8 953.8h0M1289.2 850.2h0M1370.9 875.3h0M1309.9 884.5h0M1458.4 973.8h0M1340.0 903.8h0M1476.9 950.7h0M1515.1 1071.5h0M1577.2 1096.9h0"/>
<path class="p" stroke="#443a83" d="M1361.4 909.2h0M1522.5 984.5h0M1417.8 925.1h0M1468.3 937.6h0M1478.5 935.3h0M1393.9 896.2h0M1521.9 1055.9h0M1373.2 891.0h0M1525.6 1071.7h0M1349.0 892.4h0M1404.5 909.1h0M1539.5 1039.5h0M1471.1 941.6h0M1328.0 866.1h0M1491.3 963.2h0M1519.6 1034.1h0M1476.8 963.7h0M1464.2 947.4h0M1522.4 948.9h0M1298.9 864.8h0M1401.3 918.4h0M1549.4 1033.2h0M1492.9 946.1h0"/>
<path class="p" stroke="#414487" d="M1436.4 921.5h0M1483.7 896.3h0M1503.4 966.1h0M1484.1 956.4h0M1475.7 953.8h0M1368.0 868.7h0M1420.4 907.8h0M1471.3 940.0h0M1489.3 954.7h0M1526.6 1014.3h0M1369.6 880.8h0M1374.9 889.2h0M1401.7 908.5h0M1550.0 1082.6h0M1483.7 955.3h0M1376.5 873.9h0"/>
<path class="p" stroke="#3e4c8a" d="M1394.0 899.6h0M1429.6 906.8h0M1501.1 969.0h0M1383.1 885.2h0M1463.2 932.6h0M1380.2 891.2h0M1360.6 886.5h0M1346.6 870.7h0M1492.6 950.9h0M1558.4 1071.7h0M1425.7 900.2h0M1388.6 902.4h0M1477.2 944.4h0M1407.7 905.8h0M1398.0 904.4h0M1427.7 919.1h0"/>
<path class="p" stroke="#3a538b" d="M1561.1 1120.7h0M1432.2 907.5h0M1319.8 872.1h0M1537.7 1013.1h0M1512.5 981.8h0M1377.6 861.2h0M1372.8 902.4h0M1359.9 881.6h0M1341.8 883.3h0M1467.8 927.3h0M1268.7 829.8h0M1506.8 952.5h0M1485.6 945.2h0M1542.4 1018.1h0M1567.4 1076.6h0M1483.2 940.0h0M1492.0 951.8h0M1300.5 874.2h0M1334.2 864.5h0M1504.5 952.5h0"/>
<path class="p" stroke="#365c8d" d="M1407.6 898.0h0M1376.6 890.6h0M1545.0 1021.3h0M1530.4 977.6h0M1406.2 864.1h0M1520.8 946.3h0M1429.2 907.7h0M1537.4 1007.1h0M1546.6 996.7h0M1404.6 887.2h0M1362.5 887.4h0M1543.5 994.5h0M1508.7 968.4h0M1489.5 950.4h0M1542.2 991.9h0M1504.4 951.7h0M1431.4 900.5h0M1464.9 927.7h0M1505.6 955.3h0"/>
<path class="p" stroke="#33638d" d="M1490.1 949.0h0M1354.7 876.6h0M1488.6 944.9h0M1565.9 1063.5h0M1587.6 1089.9h0M1384.9 880.0h0M1348.0 857.3h0M1374.9 875.8h0M1395.3 886.0h0M1459.0 919.1h0M1375.9 854.1h0M1351.0 872.1h0M1479.8 916.5h0M1479.6 937.6h0"/>
<path class="p" stroke="#306a8e" d="M1518.8 911.8h0M1581.6 1094.1h0M1302.0 850.4h0M1436.0 893.2h0M1448.5 917.0h0M1432.5 867.7h0M1540.1 998.5h0M1499.9 939.3h0M1448.1 914.2h0M1503.1 952.4h0"/>
<path class="p" stroke="#2c718e" d="M1476.4 905.6h0M1430.2 892.3h0M1446.9 907.9h0M1445.5 906.3h0M1564.6 1025.7h0M1419.1 876.6h0M1506.4 940.5h0M1500.5 938.1h0M1543.9 982.1h0M1423.6 886.6h0M1463.2 892.1h0M1347.8 847.0h0M1538.8 973.5h0M1381.1 854.7h0M1378.6 884.5h0"/>
<path class="p" stroke="#2a788e" d="M1543.0 975.0h0M1480.2 928.5h0M1455.5 873.3h0M1503.4 941.7h0M1552.1 1012.1h0M1541.0 955.6h0M1380.0 881.2h0M1594.4 1099.1h0M1578.3 982.0h0M1485.0 925.5h0M1567.7 1029.4h0"/>
<path class="p" stroke="#277f8e" d="M1474.1 919.2h0M1384.8 879.4h0M1578.6 1028.4h0M1520.8 952.5h0"/>
<path class="p" stroke="#24868e" d="M1490.4 919.3h0M1480.4 915.3h0M1476.5 888.6h0M1520.7 944.9h0M1495.9 933.4h0M1335.6 822.0h0M1418.7 866.9h0"/>
<path class="p" stroke="#228d8d" d="M1530.8 952.2h0M1443.1 889.0h0M1558.6 991.6h0M1573.1 1016.2h0M1498.7 925.4h0M1531.3 957.8h0M1503.3 922.4h0M1531.3 950.8h0"/>
<path class="p" stroke="#20938c" d="M1490.9 909.4h0M1355.4 858.8h0M1488.3 915.7h0M1573.7 1000.3h0M1544.4 961.5h0M1585.4 1038.0h0M1513.9 923.1h0"/>
<path class="p" stroke="#1f9a8a" d="M1611.7 1088.4h0M1549.2 969.7h0M1564.4 985.9h0M1542.4 902.6h0M1470.9 898.2h0M1558.6 980.6h0M1570.2 992.6h0M1436.7 874.7h0"/>
<path class="p" stroke="#1fa187" d="M1443.3 888.1h0M1603.4 1067.6h0M1578.3 980.4h0M1594.7 1010.8h0M1332.3 849.4h0M1396.9 860.9h0M1477.1 890.9h0M1492.2 907.1h0M1580.3 1013.5h0"/>
<path class="p" stroke="#22a884" d="M1523.9 936.7h0M1422.8 869.7h0M1615.2 1039.8h0M1518.7 928.7h0M1550.7 947.5h0M1570.9 980.1h0"/>
<path class="p" stroke="#28ae80" d="M1485.0 895.1h0M1564.5 980.2h0"/>
<path class="p" stroke="#32b67a" d="M1461.4 890.4h0M1409.9 847.6h0M1550.5 895.0h0"/>
<path class="p" stroke="#3dbc74" d="M1434.3 867.6h0M1346.0 847.8h0M1513.2 912.4h0"/>
<path class="p" stroke="#4ac16d" d="M1487.3 896.3h0M1547.7 901.6h0M1494.4 883.3h0M1336.0 833.0h0"/>
<path class="p" stroke="#5ac864" d="M1576.3 958.7h0M1591.8 984.3h0M1502.0 903.8h0M1414.2 848.4h0M1520.4 923.0h0M1604.0 998.7h0M1503.0 904.1h0"/>
<path class="p" stroke="#69cd5b" d="M1554.5 957.2h0M1397.6 837.1h0M1619.7 1069.0h0"/>
<path class="p" stroke="#7ad151" d="M1462.8 874.9h0M1561.1 915.3h0M1609.2 971.0h0M1550.9 937.2h0M1532.1 919.8h0M1443.7 844.9h0M1521.8 911.8h0M1547.2 939.0h0M1527.4 912.6h0"/>
<path class="p" stroke="#8ed645" d="M1492.1 869.5h0M1396.8 833.3h0M1624.4 1053.3h0M1537.0 916.4h0M1478.5 860.7h0"/>
<path class="p" stroke="#a0da39" d="M1621.1 991.5h0M1574.0 962.5h0M1548.7 930.0h0M1605.1 940.6h0M1571.2 962.7h0M1429.4 846.9h0M1546.5 932.1h0M1399.7 850.6h0M1419.0 841.5h0"/>
<path class="p" stroke="#b2dd2d" d="M1597.5 978.9h0M1519.5 881.8h0"/>
<path class="p" stroke="#c8e020" d="M1587.5 962.5h0M1426.0 851.6h0M1620.0 1009.8h0M1507.8 867.0h0M1485.8 886.9h0M1605.7 996.4h0"/>
<path class="p" stroke="#dae319" d="M1473.9 855.9h0M1532.3 913.8h0"/>
<path class="p" stroke="#ece51b" d="M1552.0 930.5h0"/>
<path class="p" stroke="#fde725" d="M1528.5 880.1h0M1504.9 847.9h0M1391.3 837.5h0M1577.4 944.4h0M1513.0 863.8h0M1599.7 924.1h0M1495.6 874.2h0M1583.4 934.7h0M1633.8 937.4h0M1405.9 807.5h0M1490.6 869.5h0M1584.0 906.2h0M1473.4 854.7h0M1358.8 823.6h0M1507.6 883.3h0M1628.8 944.4h0M1462.1 822.4h0M1563.9 916.3h0M1576.4 936.3h0M1404.3 838.4h0M1530.2 870.6h0M1559.3 881.8h0M1433.4 858.2h0M1565.3 886.9h0M1594.7 913.6h0M1461.2 846.3h0M1633.4 971.0h0M1519.2 888.2h0M1510.5 857.4h0M1632.8 1002.8h0M1487.1 853.4h0M1364.3 802.5h0M1608.5 984.5h0M1587.5 889.7h0M1505.1 889.0h0M1552.6 869.0h0M1580.4 892.2h0M1434.6 846.4h0M1585.1 926.1h0M1581.8 948.1h0M1537.7 846.4h0M1517.4 852.4h0M1588.5 895.1h0M1560.4 918.9h0M1620.7 978.7h0M1432.1 853.9h0M1559.9 902.3h0M1449.6 851.3h0M1576.5 942.4h0M1617.8 891.2h0M1580.0 935.7h0M1580.4 914.6h0M1470.3 847.9h0M1574.7 887.1h0M1613.0 978.1h0M1502.1 884.8h0M1524.1 872.7h0M1550.6 896.7h0M1547.4 900.8h0M1447.8 846.2h0M1524.2 889.2h0M1444.2 838.2h0M1626.4 929.0h0M1474.2 861.2h0M1571.1 883.5h0M1566.7 895.2h0M1623.2 1004.0h0M1564.4 875.5h0M1413.3 826.3h0M1618.7 1002.5h0M1557.4 882.1h0M1480.7 852.3h0M1553.2 879.6h0M1541.5 878.0h0M1441.6 816.9h0M1575.1 903.0h0M1563.6 911.8h0M1611.5 961.4h0M1444.5 844.2h0M1510.4 883.2h0M1592.0 942.8h0"/>
<path class="p" stroke="#440154" d="M1401.3 976.1h0M1402.5 979.4h0M1343.8 949.0h0M1458.6 1036.2h0M1376.8 962.0h0M1456.3 1027.6h0M1275.1 898.3h0M1405.1 965.8h0M1487.0 1028.4h0M1486.1 1095.9h0M1214.3 782.9h0M1230.8 798.0h0M1194.2 835.3h0M1137.9 849.2h0M1159.9 855.5h0M1195.1 866.0h0M1228.4 836.0h0M1230.5 843.0h0M1239.2 836.7h0M1284.2 792.9h0M1292.7 785.9h0M1309.7 812.2h0M1283.6 913.9h0M1296.5 917.0h0M1302.1 924.0h0M1310.7 948.7h0M1481.0 1139.0h0M1512.4 1161.4h0M1513.5 1197.7h0M1522.2 1213.1h0M1532.4 1271.4h0M1409.9 779.6h0"/>
<path class="p" stroke="#460b5e" d="M1464.7 1022.1h0M1356.9 935.5h0M1437.6 971.5h0M1299.6 905.0h0M1268.5 902.1h0M1375.2 941.3h0M1416.5 947.8h0M1255.4 902.0h0M1417.8 978.8h0M1470.6 1049.0h0M1462.3 1001.2h0M1474.6 975.9h0M1465.4 1046.3h0M1398.9 958.8h0M1303.7 896.0h0M1417.2 983.1h0M1423.7 985.2h0M1356.2 933.3h0M1294.4 909.4h0M1263.8 893.9h0M1472.3 994.8h0M1270.4 891.4h0M1331.0 917.8h0M1420.8 967.3h0M1425.4 984.3h0M1314.2 929.9h0M1188.9 863.5h0M1216.8 844.4h0M1244.8 868.8h0M1517.3 1153.7h0M1480.7 1205.1h0M1537.6 1207.5h0"/>
<path class="p" stroke="#481668" d="M1330.2 907.9h0M1297.6 906.6h0M1406.9 941.5h0M1309.2 882.0h0M1317.2 883.4h0M1375.8 952.2h0M1429.8 978.5h0M1420.0 950.5h0M1498.7 960.0h0M1538.3 1022.3h0M1429.3 956.7h0M1427.1 958.1h0M1305.4 886.0h0M1423.8 950.9h0M1385.6 935.9h0M1379.5 925.9h0M1397.0 897.3h0M1305.8 890.9h0M1265.6 894.6h0M1411.0 948.8h0M1383.9 941.5h0M1413.2 939.8h0M1278.7 897.1h0M1405.9 941.1h0M1374.6 915.3h0M1365.2 886.3h0M1351.5 916.0h0M1390.0 951.2h0M1486.8 1052.9h0M1164.8 842.3h0M1134.1 856.6h0M1184.4 848.8h0M1209.1 854.1h0M1214.7 856.2h0M1211.9 861.8h0M1221.0 852.7h0M1237.8 868.1h0M1234.7 895.6h0M1537.6 1142.5h0M1505.4 1153.7h0"/>
<path class="p" stroke="#481f70" d="M1351.6 913.5h0M1398.4 938.6h0M1381.3 934.9h0M1502.8 1029.0h0M1328.4 908.4h0M1359.8 911.7h0M1481.7 993.9h0M1371.9 930.4h0M1385.2 899.5h0M1493.8 1044.8h0M1447.5 970.8h0M1520.3 1028.8h0M1374.7 923.0h0M1334.7 900.3h0M1479.7 966.9h0M1459.0 942.5h0M1326.0 888.3h0M1326.2 910.4h0M1424.7 938.1h0M1356.0 921.9h0M1342.4 908.6h0M1409.0 941.4h0M1439.7 967.0h0M1506.3 1024.7h0M1421.3 964.1h0M1283.9 891.7h0M1343.0 911.2h0M1348.5 919.7h0M1184.0 867.4h0M1227.0 874.1h0M1545.9 1144.6h0M1554.3 1149.5h0M1529.2 1156.1h0M1543.8 1156.5h0M1505.8 1181.2h0M1502.3 1188.9h0M1548.0 1194.2h0M1549.2 1203.0h0M1497.7 1203.3h0"/>
<path class="p" stroke="#482979" d="M1263.6 864.5h0M1508.7 1062.6h0M1471.8 993.2h0M1502.4 1020.4h0M1497.7 1057.4h0M1417.3 947.6h0M1511.9 1062.5h0M1421.4 952.9h0M1364.5 912.9h0M1463.5 978.2h0M1385.3 913.6h0M1411.2 926.4h0M1491.8 1021.2h0M1464.9 971.5h0M1488.7 1015.2h0M1351.1 911.8h0M1512.9 1022.5h0M1470.7 970.5h0M1338.3 896.5h0M1443.3 942.3h0M1476.3 954.1h0M1447.5 952.0h0M1440.2 956.9h0M1383.1 918.6h0M1244.1 820.3h0M1192.4 851.3h0M1162.3 873.0h0M1158.8 877.5h0M1186.5 877.9h0M1210.5 841.6h0M1207.4 869.9h0M1300.2 806.6h0M1315.0 810.1h0M1563.4 1149.5h0M1562.0 1177.4h0M1567.2 1233.8h0M1534.1 1268.3h0"/>
<path class="p" stroke="#46327e" d="M1506.1 1028.3h0M1369.1 886.3h0M1409.8 938.9h0M1358.6 919.6h0M1447.8 952.8h0M1469.4 952.5h0M1338.3 899.3h0M1413.8 937.2h0M1557.9 1070.8h0M1498.7 977.3h0M1476.8 971.1h0M1305.0 896.9h0M1522.3 1106.2h0M1503.3 972.5h0M1518.7 1046.0h0M1467.8 948.8h0M1347.9 906.1h0M1216.1 838.1h0M1222.4 861.8h0M1232.2 859.0h0M1232.2 863.9h0M1572.5 1148.8h0M1570.4 1153.7h0M1554.3 1227.3h0"/>
<path class="p" stroke="#443a83" d="M1516.3 990.7h0M1472.3 968.6h0M1541.0 1103.5h0M1289.8 854.8h0M1508.3 1010.3h0M1346.4 901.6h0M1513.4 1008.7h0M1403.0 924.3h0M1512.0 1006.4h0M1478.7 919.1h0M1392.2 918.6h0M1392.1 905.9h0M1281.8 861.6h0M1545.6 1057.4h0M1532.2 1094.3h0M1498.6 1004.3h0M1501.5 972.6h0M1484.6 926.7h0M1472.2 935.9h0M1536.6 1056.8h0M1248.2 843.7h0M1228.7 851.3h0M1236.4 853.4h0M1240.6 859.0h0M1571.1 1134.8h0M1533.8 1174.9h0"/>
<path class="p" stroke="#414487" d="M1533.3 1044.9h0M1386.4 861.1h0M1460.8 931.9h0M1422.0 906.2h0M1443.7 933.4h0M1531.0 1083.1h0M1550.8 1136.2h0M1556.4 1147.4h0M1548.0 1183.7h0M1574.3 1208.2h0M1553.9 1218.0h0M1515.6 1253.3h0"/>
<path class="p" stroke="#3e4c8a" d="M1525.6 1011.8h0M1496.7 940.1h0M1544.0 1062.3h0M1513.3 985.1h0M1408.7 908.9h0M1523.6 1011.2h0M1543.5 1008.5h0M1502.6 963.6h0M1511.4 988.1h0M1152.9 810.8h0M1559.5 1133.4h0M1583.0 1136.6h0"/>
<path class="p" stroke="#3a538b" d="M1304.1 850.7h0M1470.9 937.0h0M1493.3 945.2h0M1443.3 919.7h0M1415.6 880.6h0M1518.9 976.7h0M1410.3 894.6h0M1571.3 1071.1h0M1514.0 960.1h0M1510.3 1138.7h0M1585.1 1166.3h0M1580.9 1191.1h0M1587.9 1199.1h0M1587.2 1216.6h0M1540.4 1280.9h0"/>
<path class="p" stroke="#365c8d" d="M1469.1 914.5h0M1489.9 940.9h0M1546.9 1021.2h0M1541.6 1009.2h0M1231.9 829.0h0M1237.1 830.4h0M1246.2 875.1h0M1592.8 1133.4h0M1583.0 1160.7h0M1561.3 1185.1h0M1569.0 1213.1h0"/>
<path class="p" stroke="#33638d" d="M1373.9 886.3h0M1533.2 961.3h0M1395.1 896.0h0M1436.5 891.4h0M1478.8 928.3h0M1444.6 907.5h0M1463.1 896.0h0M1514.7 955.7h0M1488.5 919.4h0M1494.0 940.7h0M1588.2 1100.5h0M1528.1 955.5h0M1579.5 1049.5h0M1194.4 846.7h0M1594.9 1138.3h0M1594.2 1161.8h0"/>
<path class="p" stroke="#306a8e" d="M1526.8 963.0h0M1422.8 907.3h0M1581.6 1083.0h0M1345.2 874.7h0M1443.3 906.9h0M1469.8 927.5h0M1521.6 930.0h0M1263.6 793.3h0M1580.2 1153.7h0M1601.8 1287.8h0M1600.9 1331.3h0"/>
<path class="p" stroke="#2c718e" d="M1310.3 852.8h0M1398.6 891.9h0M1571.9 1032.3h0M1410.2 889.5h0M1427.1 902.7h0M1513.0 939.9h0M1567.9 1015.2h0M1586.8 1058.4h0M1559.9 1161.4h0M1566.9 1167.0h0M1604.4 1205.4h0"/>
<path class="p" stroke="#2a788e" d="M1431.2 892.6h0M1383.1 876.7h0M1465.1 909.9h0M1412.0 878.6h0M1508.9 937.6h0M1219.6 849.2h0M1540.8 1133.8h0M1601.6 1147.4h0M1596.2 1172.3h0M1571.1 1177.4h0M1586.5 1184.4h0M1594.2 1183.0h0"/>
<path class="p" stroke="#277f8e" d="M1589.0 1098.1h0M1456.7 879.6h0M1523.5 950.4h0M1461.7 881.5h0M1370.5 870.2h0M1585.8 1050.7h0M1600.8 1099.2h0M1348.2 856.8h0M1604.6 1171.2h0"/>
<path class="p" stroke="#24868e" d="M1336.8 837.3h0M1474.7 890.7h0M1546.4 977.3h0M1425.7 874.2h0M1576.0 982.8h0M1474.4 906.9h0M1580.1 1038.3h0M1613.7 1167.0h0"/>
<path class="p" stroke="#228d8d" d="M1251.0 832.5h0M1539.7 1231.9h0"/>
<path class="p" stroke="#20938c" d="M1554.8 983.0h0M1475.2 900.4h0M1457.9 894.0h0M1528.0 933.4h0M1566.0 995.1h0M1596.7 1197.7h0M1621.0 1269.0h0M1494.0 794.3h0"/>
<path class="p" stroke="#1f9a8a" d="M1521.7 922.7h0M1597.0 994.3h0M1509.5 928.4h0M1606.3 1101.5h0M1500.7 917.1h0M1491.9 910.4h0M1496.4 909.9h0M1619.3 1149.5h0M1624.2 1160.4h0M1515.9 787.1h0"/>
<path class="p" stroke="#1fa187" d="M1568.8 983.7h0M1554.2 959.6h0M1606.7 1202.9h0"/>
<path class="p" stroke="#22a884" d="M1574.2 995.0h0M1495.6 905.4h0M1609.0 1088.3h0M1629.8 1143.9h0"/>
<path class="p" stroke="#28ae80" d="M1525.4 935.4h0M1608.1 1211.7h0"/>
<path class="p" stroke="#32b67a" d="M1503.3 913.2h0M1531.0 940.0h0M1462.7 885.7h0M1564.2 975.3h0M1500.2 902.8h0"/>
<path class="p" stroke="#3dbc74" d="M1513.3 912.0h0M1623.9 1194.2h0M1620.4 1314.2h0"/>
<path class="p" stroke="#4ac16d" d="M1545.4 937.3h0M1534.2 934.3h0M1520.4 914.0h0M1554.0 943.6h0M1620.7 1104.1h0"/>
<path class="p" stroke="#5ac864" d="M1409.8 849.9h0M1427.3 847.6h0M1612.0 1036.0h0"/>
<path class="p" stroke="#69cd5b" d="M1498.4 885.5h0M1504.2 900.8h0M1531.3 918.4h0M1596.9 1186.5h0"/>
<path class="p" stroke="#7ad151" d="M1595.3 1001.1h0M1472.6 873.0h0M1635.4 1115.3h0M1638.2 1120.9h0"/>
<path class="p" stroke="#8ed645" d="M1524.6 908.0h0M1591.0 985.3h0M1627.3 1136.2h0M1642.4 1132.7h0M1636.8 1145.0h0M1629.8 1160.0h0M1644.0 1160.3h0M1641.1 1077.4h0"/>
<path class="p" stroke="#b2dd2d" d="M1525.4 892.2h0"/>
<path class="p" stroke="#c8e020" d="M1591.7 973.8h0M1533.6 905.2h0M1566.9 939.8h0M1652.6 1286.7h0M1635.9 1041.7h0M1632.4 1048.7h0"/>
<path class="p" stroke="#dae319" d="M1651.4 1212.7h0"/>
<path class="p" stroke="#ece51b" d="M1519.1 894.2h0M1629.3 1010.3h0"/>
<path class="p" stroke="#fde725" d="M1512.1 872.7h0M1487.7 868.0h0M1452.5 854.7h0M1577.8 876.8h0M1403.4 811.7h0M1529.3 895.9h0M1574.0 883.4h0M1518.4 878.7h0M1512.3 867.1h0M1600.2 973.6h0M1485.4 866.2h0M1619.7 913.2h0M1582.0 895.8h0M1551.6 918.0h0M1567.3 929.0h0M1595.6 924.1h0M1521.2 863.6h0M1457.8 863.8h0M1582.0 944.6h0M1412.8 835.3h0M1448.0 835.7h0M1563.9 911.9h0M1511.2 873.7h0M1513.8 888.4h0M1567.2 881.0h0M1576.3 910.3h0M1572.7 899.8h0M1462.9 849.4h0M1515.0 872.2h0M1552.9 915.6h0M1436.8 846.3h0M1558.9 892.9h0M1567.5 912.0h0M1377.7 814.8h0M1599.4 953.5h0M1564.0 915.8h0M1596.6 936.9h0M1468.5 863.3h0M1623.7 974.8h0M1487.8 842.7h0M1422.7 845.3h0M1613.2 927.1h0M1597.2 955.5h0M1578.3 887.6h0M1622.7 988.8h0M1437.2 850.8h0M1474.1 825.0h0M1556.8 916.8h0M1414.4 833.1h0M1616.8 928.2h0M1564.4 913.8h0M1496.1 848.9h0M1589.7 927.9h0M1448.8 834.1h0M1674.2 1134.4h0M1685.0 1134.1h0M1661.2 1167.0h0M1687.8 1254.3h0M1625.9 1124.3h0M1654.9 1109.7h0M1662.6 1103.4h0M1668.2 1107.6h0M1684.3 1118.1h0M1685.0 1127.1h0M1649.5 919.4h0M1661.1 935.2h0M1648.5 943.2h0M1638.7 951.6h0M1646.4 952.6h0M1679.2 955.1h0M1684.1 953.7h0M1689.7 951.6h0M1644.3 972.3h0M1658.5 977.4h0M1698.1 982.0h0M1642.9 990.3h0M1655.0 990.3h0M1685.5 997.4h0M1641.8 1005.1h0M1670.6 1015.2h0M1644.7 1021.9h0M1645.7 1028.4h0M1654.8 1028.2h0M1687.6 1033.8h0M1672.0 1038.9h0M1705.1 1036.8h0M1708.8 1050.8h0M1646.4 1050.5h0M1635.6 1059.9h0M1655.5 1064.1h0M1647.1 1066.2h0M1640.8 1069.7h0M1656.2 1071.1h0M1663.6 1073.9h0M1669.0 1091.0h0M1426.7 780.8h0M1509.6 801.0h0"/>
</g>
<rect x="1112.8" y="764.5" width="374.7" height="622.7" fill="#00f" fill-opacity="0.05"/><rect x="1487.5" y="764.5" width="374.7" height="622.7" fill="#f00" fill-opacity="0.05"/>
<line x1="1487.5" y1="1387.2" x2="1487.5" y2="764.5" stroke="#000" stroke-width="4.6" stroke-dasharray="17.11 7.40"/>
<path class="k" d="M1112.8 1387.2v10.8M1487.5 1387.2v10.8M1862.2 1387.2v10.8M1225.6 1387.2v6.2M1291.6 1387.2v6.2M1338.4 1387.2v6.2M1374.7 1387.2v6.2M1404.4 1387.2v6.2M1429.5 1387.2v6.2M1451.2 1387.2v6.2M1470.4 1387.2v6.2M1600.3 1387.2v6.2M1666.3 1387.2v6.2M1713.1 1387.2v6.2M1749.4 1387.2v6.2M1779.1 1387.2v6.2M1804.2 1387.2v6.2M1825.9 1387.2v6.2M1845.1 1387.2v6.2M1112.8 1387.2h-10.8M1112.8 1231.5h-10.8M1112.8 1075.8h-10.8M1112.8 920.2h-10.8M1112.8 764.5h-10.8M1112.8 1340.3h-6.2M1112.8 1312.9h-6.2M1112.8 1293.5h-6.2M1112.8 1278.4h-6.2M1112.8 1266.1h-6.2M1112.8 1255.6h-6.2M1112.8 1246.6h-6.2M1112.8 1238.6h-6.2M1112.8 1184.7h-6.2M1112.8 1157.2h-6.2M1112.8 1137.8h-6.2M1112.8 1122.7h-6.2M1112.8 1110.4h-6.2M1112.8 1100h-6.2M1112.8 1090.9h-6.2M1112.8 1083h-6.2M1112.8 1029h-6.2M1112.8 1001.6h-6.2M1112.8 982.1h-6.2M1112.8 967h-6.2M1112.8 954.7h-6.2M1112.8 944.3h-6.2M1112.8 935.3h-6.2M1112.8 927.3h-6.2M1112.8 873.3h-6.2M1112.8 845.9h-6.2M1112.8 826.4h-6.2M1112.8 811.4h-6.2M1112.8 799h-6.2M1112.8 788.6h-6.2M1112.8 779.6h-6.2M1112.8 771.6h-6.2"/>
<rect class="k" x="1112.8" y="764.5" width="749.4" height="622.7"/>
<text class="t" x="1112.8" y="1432.7" text-anchor="middle">10<tspan dy="-11.2" font-size="21.58">−1</tspan></text>
<text class="t" x="1487.5" y="1432.7" text-anchor="middle">10<tspan dy="-11.2" font-size="21.58">0</tspan></text>
<text class="t" x="1862.2" y="1432.7" text-anchor="middle">10<tspan dy="-11.2" font-size="21.58">1</tspan></text>
<text class="t" x="1091.5" y="1397.9" text-anchor="end">10<tspan dy="-11.2" font-size="21.58">−3</tspan></text>
<text class="t" x="1091.5" y="1242.2" text-anchor="end">10<tspan dy="-11.2" font-size="21.58">−2</tspan></text>
<text class="t" x="1091.5" y="1086.5" text-anchor="end">10<tspan dy="-11.2" font-size="21.58">−1</tspan></text>
<text class="t" x="1091.5" y="930.9" text-anchor="end">10<tspan dy="-11.2" font-size="21.58">0</tspan></text>
<text class="t" x="1091.5" y="775.2" text-anchor="end">10<tspan dy="-11.2" font-size="21.58">1</tspan></text>
<text class="t" x="1487.5" y="1475.7" text-anchor="middle"><tspan class="i">Z</tspan><tspan dy="4.2" font-size="21.58">rms</tspan><tspan dy="-4.2">/Δ</tspan><tspan class="i">Z</tspan><tspan dy="4.2" font-size="21.58">AB</tspan></text>
<text class="t" transform="translate(997.8 1075.8) rotate(-90)" text-anchor="middle">significance of Δ<tspan class="i">Z</tspan><tspan dy="4.2" font-size="21.58">AB</tspan></text>
<text class="b" x="1846.7" y="818.1" text-anchor="end" fill="#f00" style="fill:#f00">Hot filaments</text>
<text class="b" x="1127.8" y="1349.5" style="fill:#00f">Cold filaments</text>
<text class="b" x="1838.2" y="1368.1" text-anchor="end">Sample-4</text>
</g>
<g id="colorbar">
<rect x="1906.5" y="17" width="45.1" height="1370.2" fill="url(#vg)"/>
<rect x="1906.5" y="17" width="45.1" height="1370.2" fill="none" stroke="#000" stroke-width="2.8"/>
<text class="t" x="1973.1" y="1246.5">8</text>
<text class="t" x="1973.1" y="1094.2">10</text>
<text class="t" x="1973.1" y="942">12</text>
<text class="t" x="1973.1" y="789.7">14</text>
<text class="t" x="1973.1" y="637.5">16</text>
<text class="t" x="1973.1" y="485.2">18</text>
<text class="t" x="1973.1" y="333">20</text>
<text class="t" x="1973.1" y="180.7">22</text>
<path class="k" d="M1951.6 1235h10.8M1951.6 1082.7h10.8M1951.6 930.5h10.8M1951.6 778.2h10.8M1951.6 626h10.8M1951.6 473.7h10.8M1951.6 321.5h10.8M1951.6 169.2h10.8"/>
<text transform="translate(2031 665) rotate(90)" font-size="37.00"><tspan class="i">N</tspan><tspan class="i" dy="-14.8" font-size="25.90">A,<tspan dx="4">B</tspan></tspan><tspan dx="-50.7" dy="22.9" font-size="25.90">gal</tspan></text>
</g>
</svg>
</body></html>
